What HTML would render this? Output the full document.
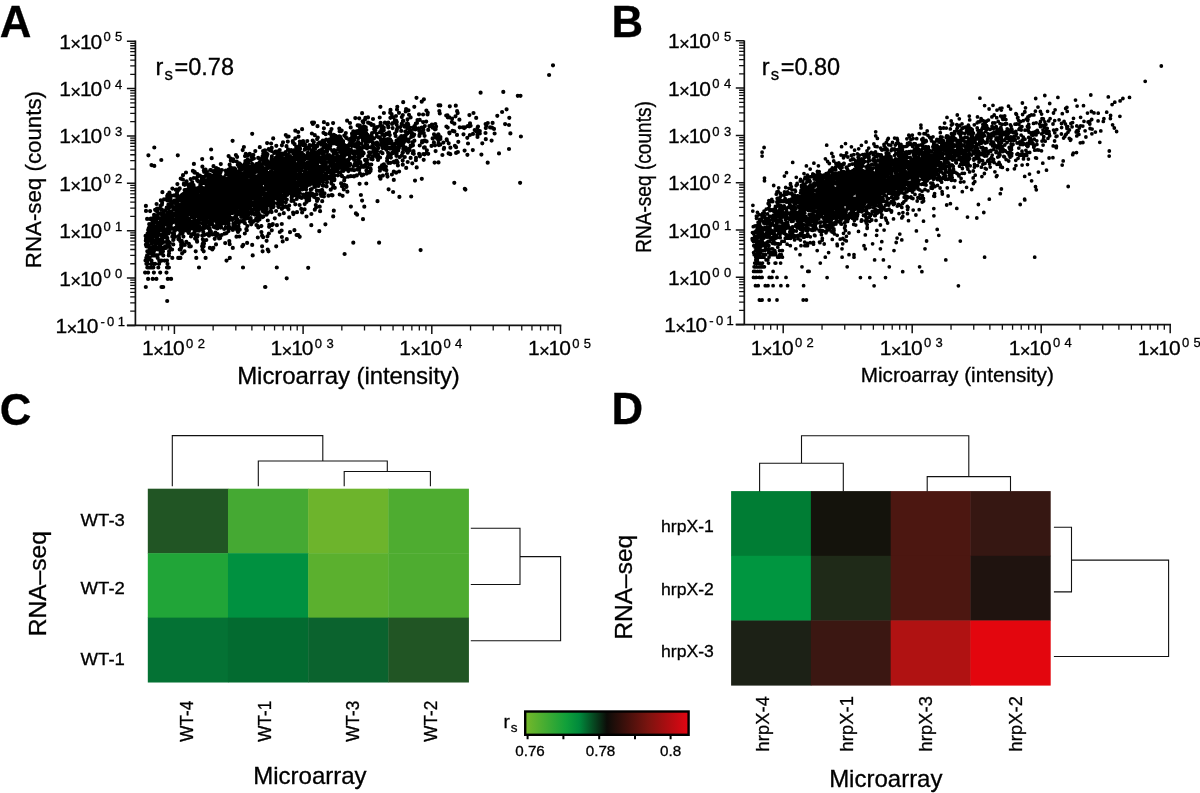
<!DOCTYPE html>
<html><head><meta charset="utf-8"><title>Figure</title><style>html,body{margin:0;padding:0;background:#fff}svg{display:block}text{stroke:#000;stroke-width:.3px}</style></head><body>
<svg width="1200" height="793" viewBox="0 0 1200 793">
<rect width="1200" height="793" fill="#fff"/>
<path d="M135.40 40.60V325.40M126.90 325.40H561.30" stroke="#111" stroke-width="1.7" fill="none"/>
<path d="M126.90 325.40H135.40M126.90 278.03H135.40M126.90 230.66H135.40M126.90 183.29H135.40M126.90 135.92H135.40M126.90 88.55H135.40M126.90 41.18H135.40M174.40 325.40V334.10M303.10 325.40V334.10M431.80 325.40V334.10M560.50 325.40V334.10" stroke="#111" stroke-width="1.5" fill="none"/>
<path d="M130.20 311.14H135.40M130.20 302.80H135.40M130.20 296.88H135.40M130.20 292.29H135.40M130.20 288.54H135.40M130.20 285.37H135.40M130.20 282.62H135.40M130.20 280.20H135.40M130.20 263.77H135.40M130.20 255.43H135.40M130.20 249.51H135.40M130.20 244.92H135.40M130.20 241.17H135.40M130.20 238.00H135.40M130.20 235.25H135.40M130.20 232.83H135.40M130.20 216.40H135.40M130.20 208.06H135.40M130.20 202.14H135.40M130.20 197.55H135.40M130.20 193.80H135.40M130.20 190.63H135.40M130.20 187.88H135.40M130.20 185.46H135.40M130.20 169.03H135.40M130.20 160.69H135.40M130.20 154.77H135.40M130.20 150.18H135.40M130.20 146.43H135.40M130.20 143.26H135.40M130.20 140.51H135.40M130.20 138.09H135.40M130.20 121.66H135.40M130.20 113.32H135.40M130.20 107.40H135.40M130.20 102.81H135.40M130.20 99.06H135.40M130.20 95.89H135.40M130.20 93.14H135.40M130.20 90.72H135.40M130.20 74.29H135.40M130.20 65.95H135.40M130.20 60.03H135.40M130.20 55.44H135.40M130.20 51.69H135.40M130.20 48.52H135.40M130.20 45.77H135.40M130.20 43.35H135.40M145.85 325.40V330.60M154.46 325.40V330.60M161.93 325.40V330.60M168.51 325.40V330.60M213.14 325.40V330.60M235.81 325.40V330.60M251.89 325.40V330.60M264.36 325.40V330.60M274.55 325.40V330.60M283.16 325.40V330.60M290.63 325.40V330.60M297.21 325.40V330.60M341.84 325.40V330.60M364.51 325.40V330.60M380.59 325.40V330.60M393.06 325.40V330.60M403.25 325.40V330.60M411.86 325.40V330.60M419.33 325.40V330.60M425.91 325.40V330.60M470.54 325.40V330.60M493.21 325.40V330.60M509.29 325.40V330.60M521.76 325.40V330.60M531.95 325.40V330.60M540.56 325.40V330.60M548.03 325.40V330.60M554.61 325.40V330.60" stroke="#111" stroke-width="1.3" fill="none"/>
<path d="M257.6 213.0h0M349.9 143.6h0M238.1 189.1h0M294.6 188.5h0M308.4 154.6h0M383.6 139.4h0M303.1 177.6h0M233.7 196.0h0M314.7 174.0h0M246.3 185.6h0M210.0 214.1h0M281.8 195.6h0M174.3 231.1h0M229.0 190.6h0M186.6 192.8h0M320.8 173.1h0M215.6 217.5h0M306.1 164.7h0M292.7 189.9h0M243.2 202.8h0M278.4 202.9h0M338.4 168.3h0M219.4 177.0h0M179.3 204.5h0M291.5 200.9h0M365.3 160.5h0M299.0 175.1h0M325.8 164.0h0M298.0 183.4h0M178.4 215.3h0M240.7 202.8h0M230.5 193.6h0M278.1 163.1h0M296.8 151.9h0M288.8 158.7h0M337.2 144.1h0M244.8 184.1h0M353.2 153.6h0M184.0 230.5h0M286.8 239.2h0M204.2 211.6h0M194.4 204.5h0M357.2 169.5h0M237.8 186.5h0M271.3 160.6h0M434.0 134.3h0M223.6 183.9h0M384.9 122.7h0M215.5 198.0h0M254.5 195.0h0M216.0 244.4h0M275.6 174.4h0M242.3 184.3h0M228.1 187.5h0M244.1 165.0h0M360.3 134.7h0M444.1 147.9h0M229.3 241.1h0M359.3 154.0h0M212.1 224.0h0M296.6 178.4h0M239.6 200.5h0M267.8 166.4h0M256.9 181.3h0M231.5 186.9h0M169.1 253.3h0M312.4 174.5h0M295.4 157.3h0M359.2 125.5h0M331.1 178.1h0M217.7 196.5h0M228.0 205.9h0M225.0 197.3h0M271.8 175.7h0M174.2 235.4h0M270.0 182.4h0M295.2 152.5h0M216.5 204.3h0M309.2 197.9h0M446.7 139.4h0M281.1 172.6h0M293.8 165.4h0M268.5 196.0h0M186.3 207.8h0M341.7 130.5h0M263.5 210.0h0M298.3 156.5h0M275.7 165.9h0M261.3 208.9h0M245.6 216.6h0M281.3 186.5h0M295.5 151.8h0M320.0 173.2h0M216.0 199.7h0M224.2 195.7h0M223.7 199.1h0M211.0 170.2h0M258.2 181.5h0M256.0 205.4h0M407.4 133.5h0M287.8 165.6h0M188.0 227.8h0M329.4 156.9h0M272.4 190.4h0M260.5 206.0h0M277.6 193.5h0M299.4 159.2h0M312.1 169.1h0M396.9 129.6h0M226.6 201.9h0M229.7 244.2h0M261.1 202.4h0M267.8 220.5h0M217.7 211.7h0M185.8 216.6h0M314.8 135.2h0M253.9 183.3h0M240.0 206.3h0M265.0 202.5h0M231.0 200.3h0M294.8 169.3h0M187.1 190.1h0M242.9 209.2h0M328.5 141.6h0M231.7 197.3h0M324.5 167.9h0M333.8 153.3h0M307.9 152.8h0M313.0 157.3h0M170.7 204.5h0M297.5 186.5h0M279.9 182.4h0M381.1 141.9h0M289.6 169.3h0M196.9 197.1h0M278.4 163.6h0M297.0 178.4h0M174.8 236.4h0M272.6 205.5h0M266.0 186.1h0M287.2 182.6h0M345.5 167.6h0M274.7 166.5h0M202.2 188.8h0M379.7 176.4h0M238.9 180.4h0M228.3 187.6h0M219.2 206.5h0M183.9 218.1h0M226.7 218.4h0M242.2 221.5h0M265.2 179.5h0M281.9 208.9h0M193.8 178.0h0M237.4 183.3h0M177.2 227.1h0M286.4 176.1h0M390.7 147.9h0M266.6 240.8h0M214.6 182.7h0M253.3 185.9h0M316.4 172.4h0M215.0 190.8h0M157.5 229.9h0M209.8 202.6h0M245.1 198.5h0M323.7 185.7h0M267.4 204.2h0M277.9 190.2h0M291.9 199.6h0M354.7 163.9h0M250.8 160.6h0M224.1 196.8h0M157.4 223.8h0M294.4 182.1h0M333.7 138.0h0M280.1 175.8h0M241.7 178.9h0M388.0 125.4h0M369.3 137.9h0M167.9 194.6h0M257.2 200.8h0M247.9 194.5h0M186.3 201.8h0M230.2 185.2h0M286.4 168.5h0M276.3 145.8h0M309.4 171.8h0M225.0 192.6h0M402.4 145.5h0M328.9 172.2h0M224.2 229.0h0M263.1 151.1h0M298.0 150.2h0M222.7 197.1h0M387.1 124.0h0M284.9 197.3h0M284.4 179.2h0M279.6 202.9h0M278.9 167.0h0M280.2 177.0h0M292.6 165.2h0M212.5 177.3h0M242.0 209.3h0M252.9 189.3h0M372.3 138.1h0M354.2 160.0h0M248.8 183.2h0M239.1 221.1h0M262.5 203.6h0M253.1 191.7h0M266.1 212.1h0M194.4 172.6h0M250.7 218.2h0M308.5 148.9h0M186.9 196.5h0M218.2 218.0h0M244.8 194.8h0M356.9 152.4h0M215.2 234.7h0M185.8 195.5h0M324.1 164.6h0M230.6 228.0h0M333.9 170.9h0M229.6 187.9h0M285.7 154.9h0M237.4 201.8h0M396.5 140.7h0M244.0 198.9h0M175.2 219.2h0M202.1 246.3h0M306.3 181.2h0M243.9 184.4h0M305.7 175.1h0M216.3 176.9h0M306.5 155.9h0M324.1 144.9h0M270.2 201.8h0M311.8 181.7h0M261.4 179.9h0M195.1 199.1h0M231.6 204.3h0M249.1 193.0h0M276.4 195.4h0M334.0 165.7h0M279.0 172.8h0M236.7 171.3h0M269.3 173.6h0M194.8 193.2h0M307.3 141.0h0M271.2 173.5h0M203.9 188.6h0M278.8 193.3h0M215.5 184.9h0M311.5 157.8h0M333.0 143.4h0M248.6 182.5h0M253.4 198.6h0M194.8 214.8h0M213.9 200.5h0M180.4 257.9h0M296.9 185.6h0M335.9 166.9h0M184.5 220.6h0M229.3 212.7h0M340.5 172.3h0M254.0 192.3h0M206.5 214.5h0M209.5 181.8h0M278.0 179.6h0M336.5 158.6h0M224.3 184.9h0M191.4 210.3h0M330.8 160.1h0M336.4 140.3h0M242.9 176.8h0M234.0 198.3h0M359.5 168.3h0M221.9 208.9h0M296.8 164.3h0M265.4 210.1h0M183.2 217.7h0M265.9 184.4h0M191.6 234.4h0M207.9 184.0h0M203.6 246.3h0M397.2 161.8h0M354.6 165.4h0M199.7 199.1h0M205.2 182.1h0M198.5 201.6h0M295.2 170.2h0M311.5 170.0h0M213.5 175.7h0M177.5 196.8h0M181.4 241.1h0M177.8 215.6h0M281.8 169.0h0M222.6 201.5h0M262.5 177.7h0M298.1 191.5h0M195.4 222.5h0M278.2 159.4h0M388.6 189.3h0M206.5 186.3h0M259.0 181.5h0M377.1 144.5h0M276.7 159.0h0M355.9 144.0h0M189.6 184.3h0M340.8 146.5h0M264.9 150.4h0M244.5 203.4h0M390.2 139.6h0M248.1 201.8h0M348.2 169.0h0M253.4 184.7h0M291.6 197.4h0M229.2 197.7h0M233.9 200.0h0M249.3 180.9h0M253.8 196.1h0M463.5 134.3h0M275.6 169.0h0M170.5 198.2h0M197.1 210.9h0M485.8 128.1h0M348.4 145.4h0M390.0 143.5h0M165.5 221.0h0M267.3 178.6h0M340.0 136.5h0M341.6 164.1h0M214.6 199.6h0M316.4 159.8h0M317.8 175.6h0M313.4 171.3h0M230.8 196.0h0M270.8 204.7h0M239.3 200.6h0M303.0 187.9h0M399.1 146.5h0M199.0 217.4h0M393.7 147.3h0M209.1 191.6h0M218.1 180.4h0M382.7 130.8h0M264.7 196.6h0M251.9 183.4h0M319.3 183.5h0M262.1 235.7h0M283.7 166.1h0M437.1 137.5h0M200.6 204.9h0M208.7 190.0h0M276.9 168.6h0M214.7 238.8h0M222.7 210.3h0M216.6 228.1h0M435.8 137.6h0M375.7 152.4h0M246.3 190.6h0M285.9 168.1h0M326.8 182.6h0M348.0 164.3h0M202.3 211.0h0M266.6 208.7h0M236.9 197.1h0M328.2 168.3h0M260.7 180.1h0M245.0 180.9h0M187.8 199.3h0M207.0 208.0h0M222.3 195.0h0M308.1 165.5h0M218.8 183.5h0M228.9 226.4h0M263.5 188.6h0M236.4 206.4h0M269.4 180.9h0M388.3 127.3h0M223.9 194.9h0M269.8 180.3h0M223.2 209.9h0M267.3 178.4h0M208.7 199.5h0M199.5 223.0h0M289.8 165.8h0M304.0 177.5h0M203.2 240.3h0M196.6 210.4h0M188.7 202.0h0M219.3 192.9h0M491.6 140.6h0M194.7 209.6h0M344.4 145.1h0M187.2 201.6h0M341.1 183.4h0M212.7 214.0h0M348.0 151.8h0M233.4 196.6h0M451.9 122.1h0M325.4 147.4h0M301.5 169.1h0M273.5 187.2h0M192.2 182.0h0M235.2 208.4h0M304.7 171.6h0M206.8 171.9h0M248.2 180.5h0M208.0 194.0h0M289.6 175.5h0M449.3 117.4h0M243.9 147.0h0M289.6 170.5h0M226.7 201.0h0M268.4 165.2h0M199.8 175.6h0M326.9 155.7h0M288.9 188.3h0M505.1 124.1h0M333.3 156.8h0M258.8 171.4h0M333.5 161.6h0M261.2 226.1h0M340.1 144.0h0M179.7 249.5h0M179.5 209.8h0M256.8 183.8h0M336.3 153.1h0M273.0 203.8h0M373.5 125.0h0M271.1 191.9h0M252.4 181.1h0M333.0 166.5h0M291.6 177.5h0M271.7 188.5h0M448.6 153.4h0M272.6 191.2h0M298.4 174.2h0M284.7 194.6h0M186.6 208.2h0M195.9 236.7h0M197.8 189.2h0M252.5 210.2h0M296.1 190.8h0M368.3 147.3h0M170.5 213.5h0M239.9 213.6h0M449.5 133.3h0M492.6 122.9h0M317.0 164.6h0M485.8 139.2h0M229.4 189.1h0M191.1 191.1h0M249.7 153.8h0M280.3 158.9h0M359.9 173.4h0M321.2 144.0h0M281.1 162.3h0M259.1 181.0h0M168.5 212.8h0M260.7 168.0h0M187.8 213.9h0M210.5 207.6h0M221.5 202.7h0M318.2 154.3h0M309.3 176.3h0M261.2 195.1h0M189.2 230.5h0M262.0 176.3h0M370.0 123.6h0M318.6 167.1h0M307.3 179.6h0M234.0 174.2h0M215.1 214.0h0M283.0 142.3h0M358.3 158.9h0M245.2 203.4h0M292.5 169.6h0M363.9 166.8h0M215.7 208.4h0M241.2 181.3h0M186.0 209.1h0M207.2 189.4h0M174.9 230.7h0M247.1 197.2h0M340.1 157.4h0M291.1 161.4h0M268.7 165.1h0M290.1 156.2h0M190.4 206.7h0M204.3 216.0h0M284.5 183.0h0M221.6 198.1h0M222.6 223.3h0M245.6 205.2h0M209.8 231.2h0M260.3 180.5h0M464.2 128.1h0M263.3 153.5h0M234.9 179.1h0M294.6 186.0h0M281.9 179.3h0M175.4 207.5h0M469.2 126.3h0M252.0 204.8h0M194.0 218.6h0M318.4 186.0h0M309.1 158.4h0M479.8 131.1h0M190.9 194.1h0M369.7 154.9h0M333.9 176.0h0M197.3 188.4h0M383.8 130.2h0M230.5 219.1h0M197.9 189.1h0M295.6 190.3h0M188.5 185.6h0M256.6 178.7h0M254.0 197.0h0M296.4 175.9h0M270.0 184.2h0M281.8 224.0h0M169.7 211.7h0M239.9 188.8h0M245.8 178.6h0M269.1 226.8h0M230.1 198.2h0M413.3 136.0h0M235.7 211.9h0M280.7 157.2h0M310.2 154.9h0M274.9 194.7h0M204.0 217.5h0M234.6 185.0h0M274.2 153.0h0M217.1 204.9h0M306.6 175.1h0M426.4 110.5h0M270.3 190.8h0M269.3 224.9h0M190.8 197.6h0M245.0 192.3h0M231.0 204.9h0M304.4 178.1h0M222.0 198.4h0M238.9 171.1h0M235.5 194.6h0M326.3 174.2h0M205.2 182.1h0M219.6 182.5h0M197.9 235.2h0M304.1 163.0h0M208.1 199.5h0M263.4 155.9h0M315.8 166.3h0M192.5 201.9h0M274.9 186.6h0M275.5 177.5h0M236.9 190.7h0M332.5 166.9h0M278.8 186.5h0M305.6 189.1h0M369.1 152.3h0M324.7 159.9h0M316.6 167.4h0M226.1 212.8h0M283.4 187.3h0M248.0 201.7h0M270.4 183.3h0M292.7 186.9h0M239.0 174.7h0M228.2 209.8h0M216.3 204.4h0M256.8 164.0h0M259.8 185.8h0M200.3 185.1h0M185.9 213.3h0M265.9 171.1h0M268.7 149.2h0M196.9 222.1h0M233.8 186.3h0M244.3 208.5h0M360.8 148.0h0M397.6 148.9h0M221.5 196.5h0M286.0 176.4h0M321.2 195.8h0M401.2 130.9h0M194.9 205.5h0M233.2 174.6h0M280.6 164.1h0M235.2 192.5h0M238.9 206.8h0M178.5 239.3h0M187.7 207.4h0M220.7 218.2h0M202.6 182.4h0M487.8 123.0h0M219.4 179.8h0M201.4 206.5h0M240.0 201.1h0M186.0 172.5h0M196.1 210.9h0M278.7 159.2h0M284.1 189.6h0M318.7 157.9h0M278.0 165.9h0M237.3 220.7h0M297.3 196.1h0M208.7 214.7h0M315.5 170.8h0M166.6 224.2h0M438.6 142.9h0M223.5 210.3h0M289.3 191.6h0M257.0 203.2h0M308.3 162.6h0M191.7 217.3h0M272.2 198.6h0M290.4 193.5h0M291.7 187.0h0M191.0 236.5h0M365.7 142.9h0M252.7 255.4h0M370.1 164.7h0M277.0 188.2h0M214.2 207.3h0M211.3 180.9h0M247.2 202.2h0M169.4 228.3h0M276.4 196.3h0M232.1 211.3h0M302.7 181.0h0M212.1 219.0h0M235.2 176.6h0M185.9 204.7h0M209.1 198.3h0M248.5 214.5h0M231.8 211.5h0M206.2 191.4h0M213.7 200.8h0M252.3 168.8h0M188.5 209.2h0M387.0 133.7h0M243.9 189.2h0M159.7 224.3h0M343.8 148.7h0M175.8 200.7h0M259.4 194.0h0M320.5 166.8h0M280.9 188.9h0M338.2 156.5h0M335.6 150.5h0M237.7 192.0h0M209.0 235.7h0M246.5 201.5h0M200.4 214.7h0M260.6 190.4h0M213.7 211.9h0M309.6 173.4h0M247.8 175.4h0M238.3 183.7h0M226.1 174.5h0M310.1 193.2h0M235.2 211.4h0M271.3 201.8h0M346.8 138.2h0M309.1 157.1h0M276.5 188.2h0M343.2 150.4h0M249.4 184.0h0M177.1 192.7h0M220.3 209.7h0M219.6 184.1h0M256.0 189.8h0M457.1 111.2h0M298.2 132.0h0M225.6 188.3h0M333.2 216.4h0M195.7 251.3h0M233.1 185.7h0M293.5 200.8h0M238.7 201.9h0M392.6 128.1h0M370.5 168.5h0M183.0 175.2h0M277.1 188.0h0M201.1 216.2h0M200.1 214.8h0M197.6 194.9h0M221.6 180.9h0M238.2 193.9h0M359.6 183.8h0M296.9 157.5h0M277.1 168.6h0M266.7 188.6h0M203.3 209.8h0M229.0 214.3h0M321.7 174.5h0M299.0 169.4h0M286.4 171.3h0M187.3 198.0h0M285.9 158.3h0M175.1 202.7h0M197.4 199.7h0M298.5 166.4h0M234.9 197.5h0M344.3 135.6h0M181.2 226.2h0M297.7 184.6h0M369.9 139.5h0M396.6 160.5h0M268.1 187.5h0M402.7 160.4h0M208.7 217.3h0M228.9 220.5h0M300.4 197.3h0M206.9 187.1h0M282.9 186.8h0M306.3 187.1h0M419.9 156.3h0M280.8 168.5h0M208.9 209.2h0M270.7 181.4h0M363.3 122.5h0M201.7 228.6h0M316.6 198.8h0M278.8 176.6h0M345.8 133.1h0M296.4 169.9h0M311.4 145.5h0M338.6 139.2h0M346.5 148.2h0M207.6 215.9h0M303.1 167.6h0M266.7 164.9h0M296.7 164.4h0M398.3 139.2h0M269.6 175.6h0M192.8 207.7h0M197.7 192.4h0M334.3 161.1h0M228.6 169.7h0M264.3 177.1h0M284.6 173.3h0M278.6 207.1h0M257.7 220.9h0M404.5 140.3h0M312.8 170.5h0M229.6 164.7h0M212.1 213.7h0M222.2 214.1h0M349.3 139.9h0M342.0 186.3h0M317.7 162.8h0M264.7 204.6h0M314.8 209.7h0M270.3 211.0h0M198.0 208.8h0M283.8 177.1h0M231.7 199.8h0M234.2 209.9h0M196.4 206.2h0M249.9 184.8h0M204.9 210.4h0M201.9 178.6h0M229.4 180.9h0M203.4 220.9h0M288.9 186.2h0M228.0 212.7h0M265.9 181.5h0M383.8 127.7h0M281.6 230.5h0M240.0 190.2h0M301.6 180.9h0M256.6 204.6h0M254.7 214.6h0M272.0 225.1h0M251.5 194.5h0M232.9 204.9h0M237.8 164.7h0M287.0 186.5h0M229.6 197.8h0M372.9 138.0h0M284.2 206.9h0M294.3 195.2h0M283.9 171.3h0M419.2 130.7h0M344.3 184.8h0M176.6 227.2h0M365.2 147.5h0M179.7 205.2h0M195.4 208.8h0M217.4 219.9h0M259.9 185.4h0M232.7 177.2h0M299.0 181.2h0M367.1 162.8h0M235.7 212.1h0M391.9 174.5h0M269.7 162.6h0M293.7 168.3h0M327.3 162.0h0M294.3 170.5h0M249.8 169.2h0M171.1 227.5h0M364.6 166.4h0M217.2 182.3h0M331.5 195.1h0M305.0 175.0h0M244.9 172.2h0M333.8 210.7h0M230.9 196.6h0M193.7 209.0h0M289.8 176.7h0M243.0 195.7h0M203.1 206.4h0M202.6 181.8h0M186.8 202.0h0M373.0 119.0h0M291.7 165.3h0M403.0 143.6h0M192.7 212.5h0M230.8 160.6h0M260.2 195.1h0M260.1 169.0h0M184.3 227.8h0M243.6 182.3h0M226.0 202.9h0M191.7 215.7h0M210.9 231.5h0M185.3 223.4h0M230.6 193.0h0M247.1 168.1h0M220.4 192.5h0M272.1 195.4h0M395.0 133.6h0M261.4 226.0h0M326.1 162.3h0M180.7 178.6h0M293.1 212.5h0M349.9 156.9h0M183.6 226.0h0M399.0 112.8h0M190.3 188.5h0M350.9 149.7h0M232.6 168.4h0M271.9 156.3h0M440.4 137.0h0M350.2 150.2h0M290.7 188.8h0M211.5 206.8h0M205.8 180.6h0M221.3 218.2h0M246.2 171.0h0M259.2 179.8h0M270.2 175.5h0M205.1 213.8h0M206.6 190.5h0M344.7 155.7h0M266.7 185.7h0M203.3 231.9h0M273.7 179.7h0M342.1 160.5h0M294.7 159.5h0M199.4 203.3h0M231.5 196.4h0M184.2 220.3h0M226.0 207.2h0M197.1 241.7h0M176.7 205.7h0M243.0 215.6h0M214.0 226.2h0M182.6 208.3h0M264.0 161.4h0M314.3 177.7h0M212.1 204.8h0M337.9 160.5h0M202.5 199.6h0M320.3 172.6h0M162.2 227.1h0M293.5 158.0h0M276.2 186.0h0M299.3 159.2h0M276.8 185.3h0M290.3 167.1h0M231.4 190.7h0M186.0 196.0h0M330.8 141.0h0M214.9 211.6h0M384.4 136.0h0M206.7 227.2h0M258.4 190.6h0M203.0 183.0h0M289.2 175.9h0M181.3 200.6h0M249.8 218.3h0M258.9 183.4h0M156.2 232.0h0M184.0 230.6h0M271.8 197.1h0M249.9 183.5h0M464.6 150.6h0M235.8 175.3h0M188.7 224.1h0M275.1 194.7h0M332.3 159.9h0M346.5 186.8h0M160.5 243.1h0M248.4 173.8h0M243.1 214.1h0M297.3 183.7h0M173.1 207.6h0M362.4 166.6h0M212.3 249.5h0M190.2 223.2h0M255.5 195.2h0M271.1 187.1h0M192.4 205.7h0M332.3 150.9h0M281.3 187.0h0M239.0 185.8h0M277.9 183.0h0M287.9 175.5h0M309.9 184.7h0M283.7 168.5h0M268.0 189.9h0M353.9 133.6h0M299.1 196.1h0M333.0 143.0h0M223.5 221.8h0M249.4 183.8h0M285.0 196.3h0M218.8 216.8h0M286.3 166.5h0M509.0 149.0h0M249.7 175.9h0M359.2 118.3h0M178.6 205.6h0M258.1 213.2h0M176.3 208.4h0M245.9 193.5h0M238.3 191.6h0M341.5 156.7h0M334.7 142.8h0M232.3 168.9h0M227.6 192.3h0M363.9 126.3h0M181.7 222.6h0M397.3 106.8h0M360.5 163.3h0M217.0 219.5h0M159.6 240.0h0M298.9 159.6h0M171.4 206.1h0M271.1 207.9h0M509.0 125.0h0M186.8 204.0h0M267.1 143.1h0M183.8 217.3h0M232.0 219.2h0M247.3 218.1h0M339.1 159.6h0M313.0 158.7h0M205.9 200.3h0M294.6 174.8h0M270.4 195.1h0M241.2 193.0h0M224.5 197.3h0M287.1 136.6h0M372.2 145.9h0M226.5 215.8h0M182.9 220.7h0M297.3 176.4h0M323.9 196.4h0M311.0 168.2h0M237.3 191.2h0M259.0 184.1h0M454.9 145.8h0M184.1 216.8h0M261.5 181.1h0M315.3 153.2h0M157.0 230.8h0M279.8 200.6h0M220.9 188.1h0M291.2 150.7h0M248.0 194.3h0M209.9 247.9h0M213.2 187.8h0M243.3 174.8h0M301.5 170.4h0M384.9 148.1h0M236.6 175.3h0M192.3 194.5h0M300.2 171.0h0M203.1 207.1h0M406.0 134.9h0M185.2 193.5h0M263.2 169.4h0M261.9 203.8h0M277.0 189.1h0M336.9 154.2h0M281.5 171.4h0M225.1 206.8h0M216.2 187.7h0M217.4 210.4h0M230.3 179.7h0M265.7 156.5h0M400.3 127.1h0M202.6 203.0h0M258.9 176.5h0M304.7 204.1h0M212.2 177.7h0M278.8 163.7h0M201.4 223.1h0M229.9 203.8h0M271.3 198.5h0M213.7 203.1h0M205.7 210.6h0M277.7 182.1h0M261.6 168.4h0M259.7 181.1h0M182.5 225.5h0M204.9 209.7h0M308.9 183.6h0M216.3 186.1h0M364.2 165.7h0M189.1 219.1h0M208.4 178.2h0M320.7 170.5h0M230.5 195.5h0M244.0 185.4h0M207.2 234.2h0M201.2 204.4h0M404.5 126.6h0M323.0 161.8h0M254.1 180.2h0M189.1 227.5h0M216.8 201.7h0M185.9 218.2h0M309.8 169.6h0M208.5 228.2h0M350.0 163.8h0M273.1 175.5h0M200.0 219.2h0M172.8 213.5h0M250.4 166.9h0M277.6 177.1h0M259.0 186.4h0M286.0 168.7h0M270.0 198.6h0M318.0 174.5h0M366.2 164.0h0M226.5 213.3h0M291.2 150.0h0M343.1 184.9h0M270.0 194.8h0M234.9 201.9h0M322.3 171.3h0M235.7 200.8h0M227.5 202.2h0M168.6 219.5h0M238.9 199.7h0M281.8 173.2h0M485.5 133.0h0M270.3 188.3h0M304.1 174.7h0M239.5 167.8h0M365.7 165.5h0M213.9 205.4h0M282.1 168.5h0M486.3 125.8h0M253.8 205.3h0M240.5 211.8h0M274.8 218.3h0M248.5 173.0h0M291.1 164.6h0M322.9 165.0h0M300.8 178.1h0M247.9 194.9h0M176.2 221.7h0M388.4 163.0h0M286.8 199.6h0M384.7 144.4h0M196.0 178.1h0M311.8 164.8h0M259.9 215.2h0M287.1 194.9h0M266.8 185.8h0M269.6 199.6h0M224.5 195.6h0M228.5 210.0h0M256.7 200.9h0M202.2 229.0h0M225.3 192.3h0M248.6 185.9h0M287.5 171.2h0M209.3 193.3h0M373.2 147.3h0M212.5 183.9h0M197.5 225.4h0M182.3 202.6h0M304.0 156.2h0M284.1 185.9h0M305.8 181.0h0M219.5 191.6h0M236.3 191.8h0M282.5 162.0h0M377.2 157.6h0M251.7 186.0h0M289.2 217.4h0M259.3 178.4h0M276.7 158.9h0M240.8 208.3h0M222.3 181.8h0M263.2 201.1h0M299.5 149.8h0M423.8 133.0h0M219.2 191.1h0M192.3 227.2h0M282.0 153.7h0M251.6 190.4h0M222.6 206.2h0M338.5 142.4h0M237.5 206.1h0M236.7 198.3h0M233.6 201.0h0M299.5 184.0h0M299.7 236.8h0M251.9 159.4h0M204.9 220.1h0M368.1 122.7h0M339.5 140.2h0M267.5 236.3h0M191.3 198.4h0M350.0 123.0h0M201.8 215.8h0M250.2 197.9h0M468.0 143.5h0M236.7 161.5h0M476.2 117.9h0M229.7 208.8h0M356.8 151.2h0M224.5 187.0h0M219.3 203.4h0M192.3 189.6h0M306.0 167.8h0M193.6 187.6h0M408.8 132.5h0M225.2 193.5h0M286.7 184.8h0M177.5 210.5h0M243.6 178.0h0M191.4 223.2h0M228.0 186.9h0M361.7 128.2h0M281.0 163.1h0M339.1 149.2h0M341.0 157.3h0M182.6 228.3h0M268.6 195.5h0M287.2 180.2h0M188.8 225.9h0M198.8 203.0h0M243.0 267.5h0M361.7 150.4h0M223.9 177.4h0M321.1 158.9h0M164.4 215.9h0M265.5 208.9h0M431.9 124.6h0M273.9 191.7h0M202.2 177.8h0M220.7 221.5h0M280.3 188.6h0M330.3 146.1h0M268.9 149.7h0M387.1 160.9h0M276.9 192.5h0M283.8 186.9h0M220.5 172.3h0M253.3 154.9h0M198.0 199.4h0M235.8 177.7h0M374.0 150.7h0M220.6 214.8h0M299.5 161.4h0M230.9 194.2h0M313.6 152.5h0M211.3 203.8h0M275.7 157.9h0M329.9 159.6h0M311.8 164.5h0M279.5 161.9h0M280.3 173.2h0M265.9 207.6h0M251.4 195.6h0M288.5 163.7h0M201.1 188.7h0M389.1 132.3h0M212.8 208.7h0M253.9 203.1h0M162.1 239.5h0M240.2 191.3h0M325.8 163.5h0M342.4 169.6h0M236.5 236.7h0M313.5 156.9h0M182.3 194.6h0M298.3 148.3h0M405.7 147.5h0M267.8 198.4h0M208.9 192.6h0M218.9 203.4h0M177.5 204.0h0M229.8 257.9h0M186.5 215.6h0M311.4 168.2h0M225.9 222.0h0M251.4 212.3h0M342.9 144.1h0M293.1 142.7h0M213.0 220.7h0M263.4 206.4h0M275.1 187.4h0M367.5 134.9h0M305.4 197.7h0M233.4 194.5h0M296.2 152.8h0M317.6 198.9h0M257.4 204.6h0M189.7 198.5h0M171.4 204.8h0M173.4 233.3h0M274.6 167.5h0M354.2 137.2h0M254.9 209.2h0M239.1 194.6h0M358.4 157.3h0M236.0 199.0h0M293.0 170.8h0M276.2 246.3h0M363.3 174.7h0M188.7 233.0h0M306.1 189.5h0M314.2 169.4h0M296.8 159.2h0M275.6 188.5h0M187.0 222.4h0M203.6 213.4h0M275.6 169.1h0M266.8 185.6h0M215.4 200.5h0M234.0 205.8h0M268.4 183.7h0M242.6 198.2h0M257.9 169.5h0M474.7 130.1h0M272.5 163.5h0M208.6 196.3h0M229.8 192.4h0M301.6 197.9h0M250.2 192.7h0M272.2 196.3h0M267.7 168.3h0M226.7 192.2h0M237.6 187.9h0M208.8 206.1h0M287.1 156.4h0M287.4 207.5h0M277.1 169.3h0M326.1 167.8h0M274.1 188.1h0M232.1 207.5h0M231.3 197.1h0M233.0 195.7h0M374.2 129.3h0M284.1 188.2h0M222.8 211.2h0M276.7 165.1h0M224.5 181.1h0M220.9 216.4h0M225.6 209.7h0M207.2 199.2h0M176.3 223.2h0M216.6 190.6h0M337.0 169.3h0M235.8 205.5h0M312.1 122.6h0M253.1 171.8h0M252.2 164.6h0M257.8 180.7h0M328.8 170.6h0M268.5 191.2h0M315.2 162.3h0M291.2 177.7h0M268.5 251.3h0M212.0 193.2h0M257.8 237.5h0M241.2 216.9h0M257.5 176.3h0M212.1 189.4h0M312.9 194.4h0M209.6 174.6h0M265.4 202.2h0M228.9 217.2h0M377.5 157.4h0M253.5 189.1h0M408.6 139.6h0M248.7 217.9h0M419.5 134.9h0M257.5 180.8h0M325.6 173.3h0M241.8 173.5h0M281.9 197.1h0M160.5 246.3h0M275.9 169.9h0M168.6 233.1h0M260.0 180.0h0M302.1 129.2h0M156.2 237.0h0M250.7 193.3h0M282.2 165.2h0M271.2 163.6h0M276.3 160.4h0M192.5 187.9h0M265.9 207.4h0M263.3 216.4h0M227.9 212.4h0M251.5 195.4h0M402.8 115.1h0M237.3 219.4h0M354.7 156.9h0M339.7 194.5h0M262.6 192.7h0M296.2 146.9h0M250.7 175.9h0M248.3 212.8h0M221.3 185.9h0M219.0 203.9h0M254.9 202.3h0M306.6 180.1h0M317.5 126.2h0M204.6 208.4h0M312.5 182.8h0M298.3 176.7h0M323.4 153.2h0M203.3 204.7h0M251.7 194.1h0M269.8 199.5h0M293.4 186.6h0M242.6 216.6h0M199.3 208.1h0M175.7 189.8h0M277.8 174.3h0M223.1 201.5h0M255.2 168.4h0M347.4 148.6h0M250.5 186.8h0M351.3 169.7h0M276.3 187.6h0M321.6 162.7h0M213.6 185.6h0M262.3 188.4h0M394.7 143.9h0M280.1 183.7h0M200.4 181.9h0M237.9 203.8h0M281.2 191.8h0M422.9 132.8h0M252.3 190.7h0M324.0 142.4h0M291.8 157.6h0M264.2 180.0h0M214.0 204.6h0M185.8 210.6h0M204.0 182.8h0M236.5 187.7h0M213.2 191.6h0M246.8 230.2h0M330.2 178.3h0M310.3 170.8h0M217.5 225.2h0M187.8 200.1h0M182.0 212.1h0M233.4 225.0h0M196.5 206.1h0M244.3 205.4h0M237.5 230.5h0M214.8 217.6h0M163.9 237.0h0M288.5 173.8h0M354.4 140.1h0M246.0 188.9h0M182.9 213.7h0M200.9 215.6h0M249.7 190.7h0M229.2 216.2h0M246.8 180.1h0M280.3 179.3h0M204.5 188.3h0M194.6 199.3h0M216.7 219.9h0M295.1 175.4h0M376.5 144.8h0M214.2 201.3h0M487.7 162.7h0M258.4 202.3h0M368.0 117.4h0M234.6 201.7h0M323.7 141.2h0M197.4 216.4h0M180.6 241.8h0M361.2 152.7h0M276.2 186.1h0M341.4 168.0h0M174.4 200.7h0M313.6 144.7h0M154.0 251.3h0M397.0 109.5h0M232.6 180.8h0M265.8 203.0h0M216.8 183.7h0M223.9 192.1h0M278.0 179.0h0M316.8 190.5h0M255.1 180.5h0M206.2 217.1h0M240.4 164.4h0M262.6 201.9h0M303.2 194.5h0M340.3 149.2h0M250.7 208.3h0M246.7 167.0h0M390.6 154.5h0M358.2 138.2h0M327.1 176.7h0M292.8 182.4h0M304.7 167.5h0M295.6 184.4h0M413.4 127.3h0M299.1 183.0h0M267.1 160.9h0M264.4 170.0h0M228.2 223.7h0M205.7 171.0h0M459.7 127.3h0M394.5 152.4h0M278.4 174.5h0M300.5 169.2h0M188.8 196.2h0M187.3 196.1h0M235.5 175.0h0M278.6 199.3h0M296.6 168.2h0M186.4 181.7h0M218.8 225.9h0M214.8 214.4h0M259.7 202.9h0M203.3 198.3h0M220.3 204.1h0M196.2 201.1h0M309.8 169.0h0M264.8 181.6h0M214.1 193.3h0M332.9 171.2h0M233.0 197.5h0M288.0 178.2h0M315.4 173.7h0M388.1 156.2h0M188.6 204.9h0M318.0 199.1h0M253.9 158.5h0M189.8 205.7h0M240.7 188.2h0M185.7 229.6h0M305.9 147.2h0M266.3 163.5h0M270.5 150.5h0M236.4 185.7h0M238.9 166.4h0M262.3 157.9h0M213.5 166.2h0M279.0 166.2h0M342.4 163.7h0M322.2 159.4h0M317.0 145.5h0M188.7 218.4h0M233.9 194.4h0M245.3 203.8h0M348.3 160.7h0M273.6 203.6h0M192.7 188.6h0M247.0 200.6h0M491.9 127.6h0M339.3 147.9h0M197.4 211.3h0M237.9 211.0h0M233.9 193.6h0M482.3 143.3h0M239.0 190.9h0M274.2 190.4h0M178.1 198.3h0M242.7 197.4h0M204.1 195.7h0M232.2 210.7h0M181.8 244.8h0M277.6 184.8h0M190.3 193.5h0M252.9 222.0h0M181.7 240.8h0M227.9 203.6h0M301.1 176.8h0M211.5 200.0h0M304.2 175.4h0M188.1 201.1h0M278.5 166.1h0M225.2 218.6h0M242.6 194.2h0M205.1 180.0h0M266.5 214.7h0M254.2 193.3h0M222.8 207.9h0M329.9 160.9h0M274.9 185.2h0M236.0 176.6h0M191.9 222.5h0M227.7 185.4h0M285.3 195.5h0M198.4 207.4h0M248.8 184.2h0M408.2 124.7h0M240.8 212.3h0M396.1 172.7h0M248.1 163.4h0M228.8 212.5h0M313.4 171.4h0M234.0 172.9h0M232.8 184.0h0M329.5 142.2h0M353.3 131.3h0M271.8 173.8h0M175.8 221.9h0M307.9 185.1h0M177.0 201.4h0M203.0 199.9h0M379.9 170.7h0M223.2 208.4h0M432.5 127.6h0M216.9 208.6h0M325.1 147.5h0M423.9 99.3h0M350.1 150.4h0M213.4 195.4h0M270.2 177.2h0M230.4 167.3h0M434.6 162.6h0M318.1 172.3h0M326.2 139.7h0M229.8 196.7h0M265.3 211.9h0M273.6 172.3h0M271.9 202.9h0M291.2 188.0h0M219.9 183.2h0M314.2 171.9h0M210.1 222.4h0M259.5 177.5h0M494.6 133.5h0M214.8 205.8h0M230.2 205.8h0M247.4 198.0h0M226.6 213.5h0M208.7 189.0h0M249.8 170.9h0M216.0 215.0h0M262.1 205.8h0M194.0 195.2h0M216.0 179.3h0M206.4 194.5h0M245.2 172.4h0M285.1 164.0h0M262.2 183.4h0M192.6 212.5h0M167.4 238.0h0M234.4 195.9h0M368.4 172.0h0M332.9 136.3h0M280.9 196.3h0M287.2 171.6h0M258.9 199.3h0M207.6 204.6h0M279.5 179.1h0M217.5 213.4h0M222.4 205.4h0M414.5 126.1h0M217.2 188.7h0M426.7 152.9h0M197.3 207.7h0M181.1 244.9h0M240.3 193.9h0M198.7 205.0h0M231.8 218.2h0M256.4 164.2h0M224.2 221.0h0M321.3 144.7h0M278.2 206.3h0M294.2 162.3h0M295.3 204.3h0M222.9 207.1h0M201.7 228.2h0M465.0 127.4h0M219.1 213.9h0M273.2 184.7h0M244.8 233.5h0M297.2 189.0h0M401.8 117.1h0M301.2 167.7h0M323.1 178.3h0M447.7 127.6h0M366.7 173.6h0M331.5 129.1h0M244.3 174.2h0M209.6 228.6h0M348.8 165.7h0M267.9 189.4h0M176.7 208.9h0M222.1 187.2h0M197.9 189.6h0M290.4 157.4h0M178.8 236.2h0M253.6 186.0h0M168.2 227.3h0M298.3 235.1h0M386.4 144.7h0M285.5 206.4h0M310.9 175.8h0M259.8 147.2h0M295.5 173.5h0M261.0 167.0h0M254.4 189.4h0M277.6 184.7h0M293.5 174.1h0M247.5 194.4h0M227.0 183.9h0M180.8 222.7h0M285.8 178.6h0M231.0 182.3h0M247.5 182.2h0M261.9 192.4h0M437.1 135.6h0M264.0 172.9h0M251.7 183.2h0M225.4 214.9h0M293.4 153.3h0M228.6 156.1h0M206.2 204.2h0M389.6 156.6h0M271.9 165.3h0M278.8 157.7h0M243.4 206.8h0M304.3 194.8h0M236.0 217.2h0M230.7 204.8h0M218.0 219.4h0M277.8 187.6h0M155.1 246.3h0M370.5 170.9h0M264.8 180.0h0M281.6 157.7h0M172.3 257.9h0M259.5 191.5h0M287.3 185.2h0M193.7 223.5h0M238.8 194.1h0M250.8 208.6h0M216.3 189.6h0M193.2 216.7h0M244.8 210.6h0M177.1 212.7h0M250.8 189.9h0M212.6 181.1h0M186.4 210.4h0M242.5 200.8h0M314.6 194.8h0M241.2 191.5h0M331.6 156.3h0M266.0 163.2h0M250.7 200.9h0M207.4 187.1h0M367.0 159.9h0M317.8 137.6h0M318.5 180.9h0M271.2 202.9h0M236.2 216.1h0M247.3 164.3h0M189.7 194.9h0M331.0 173.4h0M184.5 227.5h0M271.7 147.9h0M213.1 215.3h0M248.1 192.0h0M199.0 267.5h0M245.8 153.8h0M216.4 180.6h0M455.8 105.7h0M411.2 136.9h0M257.5 197.2h0M292.0 181.9h0M223.3 213.3h0M238.5 226.7h0M215.7 218.9h0M186.4 182.8h0M238.8 223.3h0M199.4 187.3h0M220.8 164.1h0M275.2 161.4h0M274.7 176.6h0M262.2 166.2h0M284.5 158.9h0M225.9 221.8h0M197.3 236.7h0M236.0 212.1h0M190.8 246.3h0M288.6 161.5h0M268.0 197.3h0M187.7 206.8h0M223.8 221.4h0M229.8 180.9h0M206.1 195.2h0M285.2 183.3h0M231.2 212.5h0M280.5 191.6h0M195.6 206.2h0M198.9 219.3h0M320.0 181.6h0M231.6 174.7h0M308.7 164.2h0M295.2 158.8h0M194.8 194.8h0M269.0 203.7h0M255.6 186.9h0M250.9 205.2h0M370.4 140.9h0M277.3 178.9h0M315.6 177.6h0M207.5 198.1h0M345.4 162.0h0M299.3 162.7h0M392.3 144.5h0M346.8 150.8h0M229.1 180.8h0M260.2 159.3h0M283.2 184.8h0M189.3 246.3h0M354.0 176.1h0M251.0 170.5h0M179.7 188.4h0M342.0 143.3h0M209.7 179.1h0M246.2 176.9h0M188.6 191.8h0M275.2 160.8h0M291.6 163.1h0M242.3 246.3h0M316.1 156.3h0M235.5 195.2h0M264.0 212.0h0M191.3 190.7h0M178.8 211.7h0M347.1 165.0h0M238.4 201.8h0M225.6 183.9h0M238.4 204.6h0M189.0 229.7h0M289.7 169.3h0M212.8 188.0h0M301.3 156.9h0M201.4 191.7h0M251.7 183.9h0M195.9 210.6h0M167.0 260.6h0M239.1 195.6h0M295.9 182.9h0M350.7 127.4h0M426.6 141.4h0M249.5 184.3h0M266.0 171.0h0M333.1 176.5h0M315.1 184.4h0M365.8 127.3h0M249.4 170.4h0M282.1 205.1h0M241.1 191.2h0M287.8 155.0h0M214.4 215.0h0M230.6 195.3h0M238.4 191.8h0M230.7 202.0h0M302.0 179.4h0M225.2 243.1h0M292.1 193.1h0M322.2 169.1h0M228.9 193.8h0M160.6 205.8h0M327.6 124.2h0M214.2 179.3h0M170.9 218.8h0M259.5 204.4h0M254.6 191.3h0M273.8 164.5h0M237.6 196.4h0M237.4 190.0h0M168.4 204.5h0M313.1 181.6h0M306.4 180.8h0M296.0 150.1h0M288.6 167.0h0M270.9 167.0h0M202.7 200.6h0M339.1 172.3h0M313.3 146.1h0M247.6 196.6h0M206.9 195.2h0M270.3 172.7h0M358.1 141.8h0M387.2 158.4h0M231.2 187.5h0M216.6 222.2h0M238.6 187.8h0M363.4 152.8h0M305.1 146.2h0M243.3 201.2h0M236.0 196.5h0M237.3 196.3h0M311.3 225.2h0M198.4 210.5h0M257.2 187.5h0M174.0 233.2h0M292.0 177.1h0M205.6 257.9h0M270.6 176.1h0M217.7 191.4h0M239.6 176.4h0M325.5 144.6h0M239.3 198.0h0M333.5 173.9h0M229.3 197.1h0M290.2 182.7h0M210.5 211.4h0M205.1 223.1h0M324.9 159.3h0M159.7 218.6h0M345.7 160.7h0M320.1 211.2h0M371.1 158.9h0M327.0 182.2h0M243.1 210.2h0M389.5 139.0h0M245.4 218.8h0M506.6 109.3h0M289.6 163.2h0M267.7 249.5h0M309.1 178.2h0M271.7 168.0h0M308.7 174.1h0M266.7 153.5h0M319.1 166.8h0M203.2 197.8h0M235.2 208.8h0M254.7 170.9h0M217.7 192.5h0M333.7 151.3h0M208.2 176.2h0M300.5 185.5h0M227.3 228.1h0M262.6 217.1h0M211.4 214.3h0M307.4 174.6h0M216.4 207.1h0M279.5 171.5h0M287.0 159.7h0M248.5 202.0h0M455.5 116.3h0M234.8 203.7h0M353.6 166.0h0M350.8 141.0h0M243.1 175.8h0M304.2 159.7h0M312.4 182.7h0M170.5 200.8h0M246.5 184.1h0M194.4 221.2h0M243.7 190.8h0M249.8 186.1h0M247.1 190.7h0M252.0 197.9h0M203.7 177.2h0M327.1 168.6h0M227.7 190.7h0M177.6 217.2h0M234.1 190.5h0M236.9 220.4h0M197.4 174.1h0M271.7 158.2h0M196.8 207.6h0M374.5 127.4h0M382.8 141.0h0M230.1 183.0h0M197.8 208.1h0M306.8 193.4h0M301.6 180.2h0M268.9 191.6h0M348.4 163.2h0M202.8 239.3h0M343.7 158.0h0M243.4 182.4h0M262.6 251.3h0M204.5 218.1h0M242.6 165.7h0M285.1 180.1h0M222.9 192.6h0M233.8 198.3h0M215.1 214.6h0M273.6 178.7h0M193.8 224.2h0M215.4 232.6h0M314.5 163.4h0M193.2 198.4h0M259.3 186.7h0M327.4 167.0h0M317.9 168.0h0M229.6 183.3h0M396.3 147.3h0M309.8 168.8h0M226.4 191.6h0M366.9 147.3h0M249.5 184.3h0M251.2 178.6h0M207.6 208.2h0M391.6 114.2h0M403.3 148.3h0M285.8 176.4h0M302.8 166.6h0M228.5 197.2h0M378.0 160.0h0M217.4 199.6h0M211.2 218.3h0M226.1 200.0h0M275.9 171.9h0M330.0 148.7h0M282.6 178.0h0M223.0 206.3h0M281.9 145.3h0M300.1 173.2h0M299.9 144.2h0M388.1 152.8h0M222.1 194.9h0M266.2 159.2h0M185.6 225.7h0M270.4 201.0h0M375.4 130.0h0M289.8 151.1h0M292.7 161.6h0M353.5 144.1h0M239.2 201.4h0M326.1 156.0h0M239.2 179.3h0M258.3 192.3h0M219.9 226.3h0M232.0 177.9h0M412.8 153.2h0M294.8 194.4h0M271.7 189.0h0M257.8 216.2h0M246.9 211.1h0M217.5 199.4h0M186.6 181.3h0M224.5 191.4h0M235.4 197.8h0M225.2 210.9h0M220.3 225.1h0M309.2 147.3h0M371.3 164.5h0M293.9 171.6h0M311.6 152.5h0M199.1 216.2h0M258.5 189.5h0M258.2 157.9h0M219.0 197.7h0M232.5 202.4h0M330.8 143.0h0M335.5 135.9h0M310.7 189.6h0M271.8 176.7h0M207.1 202.3h0M367.0 148.3h0M298.5 136.7h0M275.6 182.6h0M299.0 152.8h0M258.9 171.3h0M224.4 209.5h0M205.1 206.1h0M218.9 201.7h0M311.7 175.3h0M225.2 209.0h0M327.8 170.7h0M359.1 170.0h0M203.3 192.1h0M279.7 150.1h0M166.7 219.3h0M244.9 181.7h0M234.2 182.3h0M157.4 255.4h0M219.1 189.9h0M228.5 172.8h0M274.0 164.8h0M213.1 204.7h0M241.8 190.8h0M189.2 220.8h0M187.0 191.6h0M278.1 188.7h0M220.1 197.4h0M265.3 180.0h0M255.6 191.7h0M291.5 188.8h0M315.3 159.0h0M200.8 218.2h0M237.0 200.5h0M363.4 130.3h0M201.6 193.6h0M393.8 171.5h0M204.7 223.0h0M182.9 200.5h0M275.9 194.4h0M304.4 157.7h0M219.6 182.6h0M229.5 179.7h0M207.3 175.2h0M358.5 168.0h0M205.8 216.0h0M337.5 164.2h0M407.0 123.4h0M302.7 156.0h0M178.6 198.8h0M283.5 189.9h0M267.7 189.6h0M240.5 211.7h0M295.3 178.3h0M241.3 213.5h0M239.2 163.3h0M237.7 180.3h0M354.6 154.9h0M230.2 197.8h0M311.9 154.5h0M256.5 186.4h0M254.6 167.5h0M325.9 158.2h0M192.9 170.9h0M315.0 155.0h0M244.6 208.1h0M241.6 207.8h0M219.4 207.5h0M221.9 170.0h0M299.0 176.1h0M426.2 121.6h0M273.4 202.9h0M248.9 180.6h0M265.2 200.3h0M290.3 181.6h0M299.5 171.0h0M246.9 212.1h0M345.0 169.5h0M231.9 213.2h0M269.5 189.5h0M288.0 149.3h0M246.8 175.1h0M246.3 229.2h0M275.1 173.2h0M497.3 115.8h0M264.6 199.6h0M257.9 205.1h0M188.4 221.6h0M318.6 175.3h0M245.1 163.3h0M251.8 172.5h0M255.1 199.8h0M192.4 228.5h0M157.0 223.1h0M310.5 163.0h0M473.0 133.9h0M236.4 189.2h0M227.8 217.3h0M187.7 221.6h0M433.9 142.4h0M322.1 143.5h0M248.9 188.7h0M245.6 206.0h0M244.6 202.0h0M315.4 148.3h0M192.9 201.2h0M244.3 198.6h0M305.9 173.7h0M219.6 186.4h0M272.3 184.8h0M325.9 164.1h0M274.3 190.3h0M238.0 232.0h0M246.5 180.0h0M352.5 152.4h0M352.0 138.1h0M398.9 147.9h0M317.1 169.1h0M190.2 198.5h0M267.5 187.6h0M255.3 198.1h0M185.8 223.2h0M272.5 186.0h0M239.7 191.0h0M183.9 183.5h0M216.0 193.6h0M324.9 169.5h0M283.3 161.2h0M304.6 209.3h0M301.5 159.2h0M312.2 162.3h0M255.3 194.8h0M350.9 206.6h0M463.0 127.4h0M253.2 177.0h0M225.8 227.4h0M344.2 180.4h0M201.9 206.2h0M307.6 172.4h0M273.9 202.9h0M315.0 153.7h0M250.1 180.8h0M275.5 160.8h0M196.3 201.7h0M217.0 172.0h0M312.6 176.2h0M341.2 160.8h0M309.5 157.2h0M186.7 203.4h0M263.1 209.4h0M190.7 221.7h0M206.4 194.1h0M272.1 178.7h0M279.5 189.6h0M249.5 193.3h0M223.1 200.1h0M268.7 185.3h0M280.5 170.6h0M229.3 185.3h0M292.0 186.0h0M237.1 156.9h0M288.5 170.2h0M198.9 207.6h0M303.1 141.2h0M186.5 209.3h0M160.7 251.3h0M314.3 186.0h0M264.2 192.9h0M283.6 186.6h0M356.8 175.4h0M333.8 163.8h0M228.8 210.1h0M222.5 177.6h0M485.6 124.0h0M212.1 215.4h0M224.7 180.9h0M186.3 213.0h0M184.8 244.9h0M280.0 178.3h0M457.7 113.1h0M197.0 212.0h0M224.0 207.7h0M235.9 192.3h0M199.4 215.4h0M230.4 186.0h0M188.6 204.5h0M294.0 178.0h0M195.0 229.9h0M312.7 140.5h0M195.7 201.1h0M257.8 165.7h0M191.8 199.8h0M321.7 161.6h0M357.5 147.5h0M198.3 181.4h0M262.9 177.5h0M383.2 127.8h0M383.9 164.3h0M233.5 181.9h0M247.2 217.3h0M251.6 157.0h0M225.6 191.3h0M168.9 208.5h0M206.2 213.9h0M216.9 200.2h0M188.1 227.3h0M242.4 206.3h0M395.6 136.0h0M187.9 214.5h0M245.4 194.5h0M296.0 174.5h0M229.6 173.5h0M366.3 130.1h0M405.7 111.4h0M274.8 182.9h0M271.8 189.5h0M300.9 166.3h0M272.5 168.2h0M227.7 218.6h0M213.9 189.4h0M342.0 158.3h0M260.4 176.7h0M194.9 201.0h0M213.2 204.6h0M244.8 202.2h0M247.7 192.7h0M324.5 144.2h0M255.0 213.9h0M223.7 194.0h0M232.9 196.2h0M180.6 216.0h0M179.1 210.9h0M185.0 202.8h0M251.8 187.2h0M255.0 165.7h0M218.2 203.4h0M194.1 171.5h0M271.0 211.0h0M302.4 144.9h0M220.6 203.8h0M194.6 227.2h0M364.7 141.0h0M215.8 208.0h0M368.6 141.7h0M287.6 176.0h0M235.8 172.5h0M311.9 168.2h0M310.7 171.0h0M241.4 196.8h0M265.7 174.2h0M261.1 183.3h0M210.7 176.6h0M313.8 174.0h0M233.1 200.0h0M305.3 176.0h0M264.6 195.9h0M301.3 177.0h0M234.3 208.8h0M220.7 235.7h0M319.7 190.9h0M221.5 218.1h0M342.6 195.8h0M252.0 202.9h0M334.1 150.0h0M264.2 180.9h0M237.8 221.7h0M220.3 226.6h0M237.7 204.3h0M258.9 200.9h0M362.9 140.4h0M211.1 202.1h0M260.6 183.4h0M247.8 196.3h0M204.0 191.3h0M203.0 203.5h0M380.4 106.8h0M255.3 176.6h0M222.8 196.3h0M241.8 196.2h0M231.2 205.8h0M284.8 193.7h0M239.6 190.3h0M266.5 175.5h0M229.6 171.8h0M308.1 163.8h0M228.2 181.9h0M275.4 175.0h0M306.7 200.4h0M318.6 155.8h0M175.7 208.3h0M231.9 199.0h0M336.5 160.8h0M252.1 190.1h0M254.0 221.0h0M329.1 155.2h0M424.5 154.3h0M362.1 113.2h0M284.8 178.7h0M224.6 192.7h0M245.9 184.2h0M220.7 227.6h0M277.8 154.7h0M258.4 195.3h0M200.9 186.3h0M218.4 176.9h0M216.9 184.0h0M276.9 225.2h0M267.5 200.4h0M247.6 196.1h0M243.1 211.3h0M233.0 194.6h0M278.7 153.3h0M177.2 196.2h0M249.1 195.0h0M269.5 199.2h0M230.2 182.3h0M301.5 158.2h0M256.6 190.0h0M270.3 194.9h0M219.0 172.8h0M262.5 156.4h0M318.2 143.6h0M236.6 179.5h0M241.0 197.8h0M285.7 170.8h0M211.3 219.8h0M210.3 175.2h0M266.5 200.0h0M210.1 214.7h0M268.3 186.2h0M361.2 143.6h0M242.4 167.2h0M190.0 194.5h0M205.9 216.4h0M184.6 204.8h0M314.7 160.2h0M262.3 159.8h0M257.7 212.5h0M202.1 213.7h0M313.8 181.8h0M214.0 196.9h0M192.3 192.3h0M305.6 171.4h0M255.3 151.1h0M235.5 209.2h0M222.0 195.0h0M275.1 190.1h0M189.3 221.1h0M254.3 193.7h0M299.8 141.5h0M293.6 184.0h0M165.7 237.4h0M375.9 143.5h0M292.0 184.4h0M221.8 182.3h0M226.1 186.3h0M400.2 137.3h0M193.9 189.7h0M416.7 167.4h0M323.5 132.8h0M502.1 112.0h0M214.5 215.5h0M186.4 193.7h0M215.9 192.2h0M250.4 186.0h0M254.3 189.6h0M169.5 242.7h0M271.7 205.5h0M238.3 181.7h0M187.5 201.8h0M241.8 191.6h0M356.5 143.9h0M205.2 223.1h0M286.6 174.6h0M208.5 184.0h0M299.6 205.0h0M169.2 222.2h0M299.5 176.9h0M355.3 118.1h0M250.0 170.2h0M213.4 197.6h0M295.3 130.7h0M335.0 160.9h0M257.1 180.7h0M202.8 199.7h0M215.6 205.1h0M235.5 202.2h0M208.3 201.6h0M281.9 237.0h0M247.4 226.0h0M264.1 178.4h0M202.9 212.4h0M404.8 157.0h0M220.0 177.1h0M205.6 190.6h0M191.5 210.8h0M257.4 164.2h0M196.6 198.5h0M247.5 190.7h0M318.8 180.2h0M343.1 169.3h0M361.1 131.5h0M196.8 208.0h0M257.9 183.3h0M215.7 197.2h0M190.5 195.9h0M415.0 126.9h0M280.1 185.4h0M326.5 157.3h0M161.4 235.2h0M346.6 146.1h0M411.9 132.8h0M195.8 212.1h0M294.1 153.9h0M223.1 221.3h0M290.8 187.1h0M269.4 180.0h0M201.1 228.5h0M294.4 173.6h0M188.3 206.1h0M217.6 188.8h0M284.2 175.5h0M477.6 127.6h0M193.8 217.1h0M230.7 193.1h0M217.2 197.2h0M230.2 203.0h0M312.9 156.1h0M293.0 163.2h0M227.8 186.6h0M258.8 182.9h0M224.9 197.4h0M209.1 212.8h0M224.6 187.9h0M168.4 205.3h0M316.5 173.8h0M257.8 177.1h0M191.9 211.7h0M198.9 210.3h0M290.4 192.5h0M235.1 199.8h0M202.7 195.4h0M465.4 189.6h0M328.1 148.5h0M194.2 220.8h0M256.5 225.0h0M259.1 175.4h0M288.5 177.2h0M363.2 137.6h0M365.0 119.4h0M293.3 157.9h0M328.5 195.7h0M309.1 177.2h0M219.7 206.3h0M215.6 175.2h0M281.4 191.8h0M424.5 140.5h0M275.1 164.0h0M196.8 240.3h0M292.9 184.5h0M246.8 215.2h0M160.5 253.3h0M278.8 172.9h0M202.4 205.9h0M290.0 232.2h0M338.1 159.1h0M253.7 196.7h0M229.8 198.8h0M250.6 182.1h0M337.1 171.1h0M258.3 185.1h0M240.7 206.6h0M265.9 169.5h0M179.1 196.6h0M162.8 219.9h0M352.2 136.2h0M362.3 155.4h0M216.4 206.9h0M311.4 164.4h0M186.9 215.9h0M342.5 146.2h0M283.8 213.2h0M208.2 204.4h0M197.6 225.0h0M174.2 214.9h0M249.9 186.3h0M384.4 140.6h0M393.1 192.0h0M243.4 187.8h0M383.0 168.2h0M311.7 189.1h0M285.8 135.0h0M271.1 143.5h0M274.1 181.6h0M197.0 207.8h0M201.2 210.8h0M343.0 142.4h0M236.0 180.6h0M313.0 149.6h0M276.6 198.1h0M275.2 185.0h0M287.5 163.2h0M232.7 192.8h0M251.8 213.8h0M294.7 173.3h0M195.7 190.4h0M279.5 214.6h0M313.8 142.0h0M253.7 190.5h0M283.5 153.6h0M267.8 167.3h0M183.4 205.9h0M235.2 195.7h0M279.0 181.6h0M239.0 204.7h0M317.0 162.5h0M352.1 146.0h0M215.0 227.4h0M210.4 213.3h0M179.6 257.9h0M308.8 194.2h0M179.2 230.0h0M275.1 173.0h0M419.4 136.0h0M243.8 190.2h0M239.1 201.5h0M209.4 223.2h0M182.1 200.1h0M352.6 141.0h0M315.2 185.3h0M257.5 192.3h0M246.0 185.2h0M250.2 208.1h0M264.8 198.3h0M233.9 188.3h0M245.1 189.5h0M326.3 146.9h0M257.0 192.1h0M261.4 175.1h0M242.1 183.7h0M247.7 159.3h0M236.6 207.1h0M316.2 207.3h0M245.1 207.7h0M371.6 135.2h0M217.5 188.1h0M201.9 176.8h0M254.4 190.5h0M240.5 178.4h0M322.2 158.8h0M277.6 151.7h0M372.9 142.8h0M340.0 158.1h0M219.1 181.0h0M391.4 141.2h0M236.0 204.8h0M202.2 235.6h0M255.8 178.4h0M239.3 171.6h0M205.9 206.4h0M225.7 179.7h0M469.9 135.0h0M212.2 188.1h0M215.8 185.1h0M264.2 189.6h0M221.6 221.7h0M253.6 191.1h0M228.8 194.9h0M286.5 163.8h0M214.3 233.8h0M226.2 172.1h0M312.7 156.3h0M232.6 198.5h0M267.9 212.8h0M239.2 202.9h0M176.3 209.8h0M350.3 144.8h0M213.9 194.5h0M350.8 176.2h0M245.3 197.9h0M363.0 146.9h0M237.6 196.6h0M276.7 189.6h0M299.9 168.5h0M186.2 190.0h0M354.1 170.2h0M193.8 186.9h0M321.0 178.4h0M236.8 209.3h0M241.8 208.5h0M318.2 151.7h0M286.0 168.3h0M184.1 193.6h0M178.4 229.3h0M326.8 179.5h0M247.8 155.3h0M227.7 187.2h0M293.4 214.1h0M210.6 219.9h0M196.8 205.2h0M281.6 154.2h0M271.6 150.9h0M343.3 171.0h0M220.6 187.3h0M194.3 210.5h0M264.2 188.5h0M222.6 205.0h0M247.2 210.1h0M196.3 257.9h0M320.9 168.6h0M323.0 155.0h0M201.5 229.3h0M232.1 171.3h0M225.1 203.4h0M227.4 183.3h0M290.2 190.4h0M351.9 169.7h0M392.1 124.0h0M362.4 138.1h0M250.0 221.6h0M385.3 134.3h0M247.1 217.0h0M246.9 198.5h0M278.6 166.2h0M263.2 168.3h0M402.4 143.2h0M403.1 140.9h0M293.3 174.5h0M285.9 189.8h0M209.6 195.2h0M378.5 145.0h0M237.9 222.5h0M219.3 194.1h0M190.7 179.1h0M345.8 137.1h0M194.1 210.4h0M443.4 142.6h0M231.0 204.1h0M319.6 142.7h0M278.2 166.6h0M239.1 207.1h0M297.6 164.6h0M226.6 172.0h0M284.2 175.2h0M289.8 172.4h0M268.9 233.5h0M360.9 195.0h0M282.6 163.0h0M309.0 157.3h0M228.7 183.9h0M371.6 124.9h0M315.9 165.9h0M164.9 233.8h0M247.8 182.0h0M413.8 153.8h0M181.0 247.9h0M245.9 195.9h0M256.4 200.4h0M211.4 216.8h0M172.5 217.8h0M242.4 179.4h0M252.2 244.9h0M251.5 221.7h0M333.2 185.3h0M167.4 240.5h0M314.5 168.8h0M494.0 128.9h0M215.5 192.0h0M292.8 141.2h0M316.1 180.8h0M363.2 130.8h0M182.4 215.3h0M200.2 202.1h0M258.2 206.4h0M243.9 173.0h0M265.0 169.4h0M419.0 114.3h0M390.5 109.9h0M203.6 226.7h0M190.9 209.1h0M215.9 184.2h0M185.9 192.5h0M375.2 150.5h0M246.2 200.3h0M287.8 141.6h0M231.5 209.0h0M358.4 132.6h0M401.1 143.4h0M266.8 185.7h0M174.5 202.8h0M305.1 181.1h0M177.7 201.7h0M272.9 177.4h0M277.8 194.5h0M377.0 142.7h0M278.7 173.3h0M254.8 208.4h0M359.7 129.9h0M179.1 238.2h0M314.2 177.0h0M280.6 189.0h0M208.9 226.0h0M205.6 169.7h0M306.5 175.1h0M287.3 179.4h0M200.5 211.4h0M307.9 181.5h0M303.2 154.7h0M355.3 146.5h0M322.9 142.5h0M372.8 147.9h0M334.1 150.9h0M307.7 162.6h0M320.9 194.2h0M176.6 195.9h0M208.9 210.3h0M254.0 202.9h0M227.0 203.9h0M296.6 235.0h0M198.8 215.8h0M243.8 185.3h0M204.7 224.6h0M280.9 177.8h0M216.6 194.0h0M350.0 164.4h0M253.8 174.8h0M213.3 209.0h0M307.0 181.6h0M395.0 151.2h0M318.1 166.7h0M271.9 168.5h0M402.5 152.9h0M176.2 214.1h0M200.9 181.0h0M340.7 150.5h0M467.3 137.8h0M174.8 228.1h0M286.9 171.6h0M223.6 190.1h0M211.5 195.2h0M208.9 202.0h0M438.5 162.4h0M211.7 215.7h0M310.6 171.9h0M308.5 165.1h0M361.4 130.5h0M275.4 189.9h0M259.3 174.2h0M331.5 135.0h0M382.5 134.6h0M509.3 117.8h0M280.5 184.7h0M331.3 174.8h0M185.6 202.3h0M224.3 191.2h0M356.8 133.2h0M202.9 210.4h0M278.3 195.8h0M260.0 202.2h0M188.2 205.7h0M217.6 234.0h0M245.4 170.0h0M203.4 212.3h0M223.0 198.7h0M271.1 186.5h0M331.5 135.8h0M331.5 180.7h0M314.5 155.2h0M207.8 196.7h0M261.8 166.6h0M189.7 195.6h0M257.5 204.4h0M440.3 105.4h0M382.9 175.6h0M464.8 188.8h0M257.7 179.4h0M198.2 204.6h0M288.9 183.4h0M224.7 190.4h0M282.6 201.9h0M266.8 164.0h0M227.0 173.8h0M380.1 125.8h0M210.7 191.1h0M183.9 184.4h0M250.7 213.5h0M248.6 208.0h0M198.8 206.6h0M255.7 187.8h0M224.8 204.2h0M186.3 241.8h0M218.4 206.1h0M197.2 180.3h0M178.1 215.5h0M297.0 212.2h0M373.4 151.4h0M282.9 190.1h0M331.5 183.5h0M225.7 182.6h0M251.5 205.2h0M271.8 230.3h0M221.2 207.0h0M265.1 155.5h0M284.3 177.1h0M294.6 144.2h0M265.8 173.6h0M247.5 160.9h0M298.7 161.7h0M260.2 176.3h0M248.5 174.7h0M252.9 212.4h0M277.4 203.6h0M206.2 210.2h0M285.2 162.5h0M288.9 164.8h0M210.2 193.6h0M306.5 202.0h0M390.9 157.6h0M323.3 167.0h0M301.4 164.3h0M223.5 197.2h0M317.8 180.9h0M262.6 211.1h0M336.2 143.8h0M273.5 199.2h0M304.4 174.2h0M473.5 113.0h0M296.1 167.0h0M233.2 209.5h0M235.4 216.4h0M226.7 202.2h0M235.0 211.0h0M269.8 181.2h0M258.6 213.2h0M220.3 207.8h0M260.2 208.4h0M233.3 161.2h0M244.9 223.2h0M257.1 197.0h0M284.6 183.8h0M209.8 214.2h0M199.0 230.7h0M192.0 227.3h0M211.8 206.8h0M265.4 161.2h0M231.0 175.4h0M167.3 197.4h0M282.7 241.4h0M266.9 180.2h0M329.8 139.4h0M470.0 123.3h0M245.4 186.4h0M272.4 178.8h0M310.3 153.3h0M164.4 236.6h0M212.7 195.5h0M274.2 193.2h0M374.7 131.8h0M454.4 123.7h0M223.7 197.6h0M296.5 194.0h0M317.6 166.0h0M317.1 139.1h0M343.3 163.0h0M216.3 198.0h0M312.1 195.3h0M205.5 222.7h0M243.1 192.1h0M240.9 177.7h0M294.0 152.9h0M236.2 204.4h0M272.7 159.4h0M261.4 232.1h0M257.2 212.2h0M279.8 232.0h0M171.3 201.0h0M168.2 196.9h0M191.0 224.7h0M234.9 218.8h0M348.1 176.7h0M223.9 215.2h0M207.4 196.4h0M216.5 207.4h0M173.3 244.4h0M268.3 173.1h0M188.9 213.9h0M280.6 176.0h0M192.4 184.1h0M313.6 178.3h0M358.0 147.9h0M269.4 195.8h0M300.0 160.2h0M203.7 226.1h0M256.0 203.4h0M231.0 185.3h0M224.6 233.7h0M330.4 131.8h0M206.2 193.7h0M342.6 158.2h0M321.5 169.5h0M240.4 184.6h0M379.9 137.3h0M180.7 232.7h0M207.8 201.3h0M305.4 184.2h0M302.3 179.6h0M231.4 196.4h0M313.7 165.3h0M257.1 192.1h0M349.3 154.1h0M280.0 185.8h0M330.4 165.1h0M235.2 169.1h0M219.6 175.9h0M219.5 215.4h0M202.7 243.9h0M314.0 153.5h0M167.2 196.0h0M179.8 218.9h0M247.2 183.9h0M237.4 193.1h0M327.3 155.5h0M422.0 142.4h0M247.7 190.0h0M290.4 178.6h0M254.9 191.9h0M243.8 188.3h0M265.6 206.7h0M306.5 216.5h0M341.2 153.6h0M235.2 190.7h0M225.8 209.3h0M346.2 185.6h0M332.1 160.6h0M219.2 207.5h0M347.4 191.7h0M357.8 131.2h0M358.5 125.6h0M211.8 207.0h0M376.9 136.3h0M242.0 167.7h0M194.8 196.9h0M311.4 214.0h0M157.8 215.4h0M232.8 247.9h0M243.8 199.3h0M231.2 169.9h0M325.2 175.1h0M273.6 206.3h0M295.7 175.2h0M285.5 181.9h0M239.7 229.7h0M300.1 148.7h0M211.2 203.5h0M276.9 183.0h0M257.2 186.3h0M330.3 158.7h0M188.6 188.3h0M212.8 206.1h0M216.7 235.7h0M378.2 137.1h0M187.8 206.0h0M242.7 181.5h0M263.2 237.2h0M236.1 187.1h0M294.8 164.9h0M210.6 221.2h0M368.5 137.8h0M227.2 198.2h0M282.0 155.9h0M210.1 175.2h0M434.9 129.3h0M239.8 212.6h0M177.5 217.9h0M302.3 185.9h0M406.7 150.7h0M295.0 154.2h0M219.7 190.9h0M225.8 203.6h0M221.5 218.1h0M300.3 174.0h0M265.6 163.0h0M418.8 128.3h0M269.1 179.5h0M176.2 214.2h0M245.2 169.7h0M361.9 135.0h0M237.2 191.3h0M251.2 224.3h0M226.9 186.0h0M185.4 207.8h0M330.7 160.4h0M181.6 195.5h0M248.0 203.3h0M217.7 195.2h0M244.6 189.1h0M179.3 227.8h0M240.6 196.1h0M234.0 192.8h0M176.7 200.0h0M229.0 187.7h0M367.4 145.6h0M320.2 152.1h0M221.7 235.0h0M352.5 157.9h0M269.2 195.4h0M274.1 172.7h0M329.7 133.4h0M226.0 185.7h0M205.8 221.5h0M296.7 198.9h0M218.0 173.4h0M294.3 191.9h0M182.2 205.3h0M334.4 171.7h0M234.6 198.9h0M207.1 191.7h0M364.8 133.6h0M270.3 183.7h0M291.2 157.3h0M212.7 201.8h0M217.6 202.1h0M276.8 267.5h0M201.6 203.9h0M301.8 152.8h0M362.1 131.3h0M387.7 147.3h0M291.8 177.2h0M326.5 168.7h0M223.5 189.2h0M267.6 177.2h0M290.7 167.0h0M213.9 220.1h0M235.5 189.5h0M232.8 218.8h0M250.6 206.0h0M221.4 198.0h0M297.8 177.4h0M216.6 192.2h0M220.8 191.2h0M250.7 189.2h0M209.0 194.0h0M327.4 156.2h0M219.4 200.3h0M273.7 181.2h0M233.6 178.9h0M275.7 165.5h0M232.2 178.5h0M319.7 206.7h0M263.4 200.2h0M223.1 194.6h0M227.3 182.7h0M271.6 180.7h0M180.6 196.3h0M272.1 197.5h0M224.3 188.4h0M234.8 226.1h0M250.8 201.8h0M207.5 221.3h0M327.1 151.5h0M446.9 140.2h0M348.0 152.4h0M221.7 184.4h0M182.9 222.8h0M324.9 147.6h0M424.0 147.7h0M184.6 190.1h0M210.6 203.5h0M302.6 189.3h0M220.0 188.7h0M193.5 185.2h0M204.5 234.8h0M307.6 153.1h0M261.6 166.3h0M311.2 161.4h0M197.1 230.5h0M288.9 191.6h0M364.0 139.2h0M399.1 171.5h0M219.6 181.4h0M208.0 174.1h0M281.2 199.3h0M322.4 181.1h0M409.9 127.5h0M303.7 181.2h0M366.7 135.4h0M308.7 175.2h0M215.0 209.4h0M267.0 185.0h0M376.7 133.6h0M319.3 231.2h0M200.0 206.5h0M228.9 173.7h0M216.9 225.6h0M185.1 197.8h0M268.7 205.2h0M182.8 223.8h0M224.7 201.0h0M285.2 168.3h0M203.9 182.3h0M228.3 206.5h0M403.3 120.9h0M199.4 226.6h0M299.9 166.2h0M262.9 191.5h0M261.5 189.0h0M186.3 190.2h0M250.3 195.0h0M268.5 180.7h0M176.8 189.6h0M219.3 194.9h0M244.4 213.8h0M233.9 212.6h0M184.8 219.3h0M261.1 181.1h0M220.4 194.2h0M235.5 222.6h0M212.9 220.9h0M226.1 218.9h0M278.0 176.7h0M293.5 164.5h0M259.7 188.9h0M289.3 167.1h0M183.3 215.2h0M218.6 198.1h0M359.5 126.4h0M338.7 144.3h0M377.1 151.3h0M355.9 213.4h0M266.1 165.1h0M290.9 174.8h0M306.2 179.8h0M218.7 192.0h0M263.8 204.7h0M183.3 208.1h0M198.8 214.5h0M215.5 194.7h0M295.3 138.3h0M188.1 205.1h0M202.9 222.8h0M322.0 189.8h0M412.0 134.7h0M283.1 181.5h0M314.9 187.0h0M298.3 180.6h0M287.3 175.7h0M164.2 247.9h0M254.9 189.8h0M341.6 130.8h0M214.0 213.3h0M214.6 178.9h0M244.7 205.5h0M263.7 202.6h0M236.5 176.3h0M323.1 169.2h0M187.8 222.3h0M270.6 196.9h0M207.0 196.1h0M231.4 206.5h0M238.8 201.0h0M384.1 169.4h0M194.5 232.0h0M412.9 142.6h0M252.2 212.0h0M272.7 189.1h0M209.1 185.0h0M291.0 172.9h0M331.9 142.8h0M356.6 164.8h0M322.2 153.8h0M403.1 145.1h0M304.5 158.2h0M268.0 201.3h0M234.8 192.7h0M210.3 186.7h0M302.7 167.6h0M257.1 182.2h0M164.9 232.5h0M322.2 201.2h0M262.5 199.0h0M218.0 213.0h0M262.2 170.3h0M264.1 182.2h0M296.4 189.2h0M266.6 168.6h0M335.4 151.6h0M221.0 226.8h0M193.6 186.4h0M298.1 165.8h0M314.0 122.7h0M215.5 183.2h0M246.7 185.1h0M190.3 190.2h0M213.6 226.8h0M238.5 199.8h0M211.7 196.7h0M233.9 184.2h0M338.3 162.2h0M206.4 219.9h0M223.0 188.1h0M262.7 178.7h0M239.8 212.6h0M253.0 167.2h0M282.7 182.0h0M365.4 117.9h0M289.8 151.8h0M285.0 179.1h0M302.7 157.8h0M312.6 183.3h0M243.8 188.3h0M330.7 189.7h0M276.3 198.4h0M173.4 220.6h0M245.4 214.5h0M350.6 138.8h0M200.6 186.3h0M331.3 183.0h0M218.9 207.7h0M209.7 204.4h0M332.3 169.2h0M454.4 131.4h0M333.1 187.3h0M303.9 183.4h0M190.1 186.0h0M216.9 197.6h0M234.1 206.4h0M262.3 174.0h0M196.8 202.3h0M216.1 201.6h0M305.1 175.8h0M249.3 206.7h0M235.5 194.9h0M259.9 183.9h0M262.1 246.3h0M242.2 168.0h0M249.3 189.1h0M251.4 183.6h0M394.5 121.9h0M247.9 176.2h0M232.8 229.9h0M206.2 205.1h0M352.2 144.6h0M206.2 217.4h0M220.2 183.4h0M305.0 144.4h0M304.1 163.1h0M380.5 178.7h0M413.0 145.3h0M378.3 148.1h0M285.4 184.8h0M390.4 117.8h0M219.4 191.7h0M306.5 158.3h0M277.0 184.5h0M326.6 147.3h0M185.8 213.4h0M291.9 196.0h0M179.6 215.0h0M233.2 207.1h0M169.1 251.3h0M309.2 200.2h0M316.1 175.1h0M211.0 207.1h0M339.3 128.5h0M280.4 189.0h0M199.3 219.1h0M281.8 179.5h0M228.2 215.1h0M299.7 192.7h0M357.3 153.6h0M281.0 158.3h0M339.6 131.2h0M231.8 208.8h0M423.7 159.8h0M235.6 197.0h0M479.8 133.4h0M225.0 223.5h0M238.6 179.1h0M186.2 209.8h0M225.2 212.6h0M226.7 192.0h0M218.1 216.0h0M355.1 165.3h0M388.9 142.3h0M449.8 106.3h0M325.7 134.2h0M233.8 171.3h0M354.0 176.4h0M311.3 157.7h0M196.5 220.9h0M369.4 137.9h0M397.6 127.2h0M240.6 181.3h0M246.1 201.9h0M247.2 207.4h0M206.9 191.9h0M329.4 140.9h0M227.0 210.2h0M304.9 184.1h0M438.6 134.8h0M286.0 185.9h0M230.8 180.2h0M341.4 139.4h0M214.8 187.4h0M342.1 165.0h0M424.8 147.3h0M168.3 229.6h0M420.0 133.7h0M319.7 150.6h0M263.2 177.6h0M179.8 220.8h0M229.0 186.8h0M315.4 153.0h0M213.8 203.3h0M304.2 185.6h0M316.3 157.5h0M240.2 176.7h0M317.6 153.6h0M173.9 237.4h0M281.0 170.9h0M295.6 171.0h0M233.9 198.2h0M190.7 210.9h0M247.6 198.5h0M321.1 173.5h0M179.0 209.9h0M166.6 224.8h0M254.6 185.0h0M292.6 192.5h0M202.6 200.6h0M178.6 190.0h0M204.3 222.5h0M214.7 198.9h0M358.9 148.1h0M232.3 190.2h0M326.7 149.3h0M333.3 167.5h0M210.8 187.0h0M183.8 200.4h0M252.1 192.6h0M342.8 144.5h0M249.1 169.2h0M243.8 167.5h0M291.0 176.8h0M243.2 178.3h0M270.9 180.6h0M306.4 180.3h0M304.8 186.3h0M214.4 182.0h0M343.1 141.2h0M349.2 154.7h0M269.2 176.9h0M297.0 177.7h0M203.8 170.6h0M322.3 169.5h0M251.8 185.5h0M261.9 168.8h0M197.7 206.4h0M202.0 187.6h0M191.0 202.3h0M209.1 204.3h0M207.2 201.4h0M307.4 199.1h0M269.7 165.4h0M193.9 196.1h0M260.3 177.7h0M248.7 185.0h0M226.0 213.0h0M196.0 204.4h0M219.9 213.6h0M438.2 139.7h0M228.4 215.4h0M239.3 198.0h0M210.9 184.2h0M251.3 180.6h0M349.1 166.0h0M276.5 193.2h0M244.3 172.9h0M259.2 189.0h0M415.8 123.7h0M239.4 165.6h0M354.1 134.4h0M227.8 214.0h0M343.8 189.4h0M210.0 175.4h0M223.4 220.7h0M183.4 236.6h0M336.5 165.2h0M163.3 255.4h0M279.3 168.7h0M255.0 197.9h0M343.4 168.0h0M182.8 198.5h0M391.0 154.6h0M312.9 124.0h0M292.7 196.1h0M261.9 183.1h0M342.8 152.2h0M286.8 174.9h0M195.6 235.0h0M316.8 164.7h0M268.0 164.9h0M257.1 225.5h0M285.8 202.2h0M209.5 202.6h0M259.5 219.4h0M291.0 166.2h0M315.8 153.2h0M280.1 175.3h0M326.0 179.0h0M447.7 117.3h0M176.9 194.6h0M322.4 143.9h0M293.3 179.3h0M370.1 136.3h0M185.3 221.9h0M446.2 115.5h0M330.5 165.6h0M242.9 211.0h0M207.8 206.0h0M200.5 195.4h0M342.1 155.8h0M219.5 201.3h0M360.3 162.2h0M179.4 212.8h0M360.9 148.3h0M372.7 142.4h0M241.0 194.1h0M268.8 182.9h0M373.2 156.2h0M287.2 175.1h0M273.1 207.2h0M254.7 183.1h0M317.2 146.2h0M233.4 223.6h0M217.4 228.5h0M196.3 194.3h0M323.9 122.2h0M229.6 178.1h0M215.6 207.0h0M477.5 137.0h0M282.9 186.6h0M269.7 203.0h0M186.7 205.1h0M233.5 180.1h0M254.0 192.7h0M470.6 125.8h0M234.1 181.2h0M246.9 200.9h0M253.9 193.7h0M192.5 204.9h0M217.7 213.6h0M218.4 197.9h0M252.8 177.6h0M349.6 151.3h0M266.0 210.6h0M478.0 126.5h0M317.5 167.5h0M247.8 190.0h0M186.6 230.6h0M205.3 202.7h0M176.6 218.7h0M248.4 199.0h0M289.8 187.3h0M217.9 202.6h0M276.1 211.0h0M275.7 151.7h0M271.9 171.3h0M171.8 204.6h0M260.1 215.9h0M510.4 133.4h0M288.6 170.8h0M283.4 173.1h0M243.3 198.7h0M313.7 151.3h0M214.8 209.0h0M345.4 146.1h0M227.9 197.5h0M261.6 189.2h0M249.0 202.3h0M282.8 188.7h0M219.3 209.0h0M205.6 198.6h0M252.3 198.1h0M165.1 246.3h0M258.4 176.8h0M358.2 167.1h0M254.3 179.0h0M233.2 193.7h0M225.8 170.6h0M229.4 184.5h0M226.0 192.3h0M298.8 164.3h0M233.4 179.2h0M221.2 196.4h0M202.8 192.9h0M232.5 198.5h0M252.1 163.8h0M212.8 204.4h0M272.8 224.2h0M215.1 190.2h0M321.4 168.3h0M218.7 202.5h0M193.2 196.8h0M213.3 247.9h0M195.1 238.6h0M258.7 188.5h0M169.3 246.3h0M254.3 177.9h0M273.1 172.9h0M275.2 187.2h0M326.7 148.4h0M235.1 226.6h0M341.2 156.8h0M300.6 157.4h0M281.3 156.7h0M167.4 215.8h0M294.6 150.1h0M280.2 171.7h0M251.6 190.5h0M322.1 157.7h0M235.9 155.1h0M245.0 156.1h0M209.0 199.3h0M344.8 146.1h0M225.0 188.9h0M367.4 167.3h0M211.5 199.0h0M329.2 171.9h0M231.0 198.8h0M189.0 230.4h0M476.7 131.4h0M170.8 206.3h0M188.1 208.6h0M247.0 177.2h0M220.9 201.7h0M257.8 199.3h0M283.4 175.2h0M235.1 223.8h0M274.8 192.6h0M223.2 203.8h0M287.3 185.1h0M340.3 150.3h0M282.1 164.6h0M256.2 218.7h0M327.6 148.5h0M300.8 169.4h0M298.6 182.6h0M263.8 202.9h0M193.0 198.3h0M248.1 194.3h0M211.7 158.2h0M302.2 157.6h0M193.0 185.6h0M311.8 181.6h0M278.4 180.3h0M204.4 213.0h0M168.9 267.5h0M202.6 201.3h0M268.0 189.8h0M298.3 177.1h0M187.8 204.0h0M329.1 145.2h0M234.9 217.5h0M245.6 163.8h0M223.1 209.8h0M219.9 186.3h0M172.9 233.4h0M255.5 191.4h0M255.7 170.2h0M181.9 205.3h0M225.6 193.7h0M237.8 189.9h0M258.2 175.8h0M308.1 149.0h0M187.4 200.1h0M349.5 158.8h0M237.8 180.3h0M229.9 196.4h0M259.3 181.5h0M293.5 171.1h0M264.6 169.0h0M268.3 178.9h0M212.7 207.8h0M281.5 200.5h0M197.9 228.9h0M368.7 139.6h0M359.1 158.2h0M312.6 153.3h0M218.8 198.7h0M340.2 151.5h0M202.0 213.6h0M261.7 187.4h0M271.3 166.5h0M286.1 172.5h0M245.8 179.7h0M301.2 208.9h0M391.9 153.3h0M232.0 176.1h0M332.8 139.5h0M214.3 214.0h0M228.5 231.1h0M211.7 224.1h0M291.8 166.3h0M253.6 191.1h0M361.3 131.8h0M211.5 206.2h0M258.0 182.2h0M222.1 190.3h0M223.3 200.4h0M300.5 178.5h0M411.0 146.2h0M239.8 196.2h0M375.2 143.5h0M220.9 183.4h0M203.7 251.3h0M241.7 201.4h0M259.6 203.7h0M375.2 155.7h0M210.3 170.0h0M218.2 198.3h0M265.4 163.2h0M231.2 198.1h0M285.0 183.7h0M280.9 156.8h0M239.1 177.7h0M258.5 167.7h0M323.1 182.0h0M198.6 201.0h0M318.3 161.0h0M329.8 157.0h0M178.2 257.9h0M182.8 211.8h0M201.2 205.9h0M181.7 196.3h0M186.2 214.4h0M225.7 196.5h0M197.6 209.7h0M356.3 131.3h0M198.2 191.5h0M245.4 161.1h0M247.8 211.0h0M332.8 135.9h0M299.5 145.6h0M204.8 227.9h0M281.9 198.8h0M226.4 210.6h0M235.2 210.2h0M301.4 182.5h0M175.1 236.7h0M242.8 197.6h0M315.1 159.0h0M189.9 196.5h0M282.1 159.5h0M357.3 164.6h0M362.9 139.1h0M291.7 165.0h0M299.5 184.4h0M254.5 181.4h0M334.3 175.7h0M368.3 156.1h0M452.6 130.8h0M403.9 142.3h0M401.7 123.9h0M283.9 180.1h0M182.7 209.0h0M242.6 174.3h0M279.2 204.2h0M217.7 190.0h0M227.5 178.6h0M178.2 219.9h0M207.4 185.8h0M205.8 223.3h0M192.2 224.2h0M255.9 209.6h0M333.7 134.8h0M289.8 189.4h0M211.3 194.1h0M220.0 207.4h0M224.2 183.4h0M334.3 180.2h0M195.3 220.8h0M239.3 236.5h0M334.4 179.2h0M201.7 190.2h0M243.2 215.5h0M289.7 151.0h0M194.8 172.2h0M237.8 197.3h0M217.7 224.3h0M217.4 207.3h0M220.9 193.3h0M206.3 240.0h0M419.7 145.5h0M192.2 206.4h0M241.7 185.8h0M188.9 243.8h0M227.3 198.4h0M195.1 206.2h0M251.2 171.5h0M336.7 153.0h0M188.0 192.9h0M252.2 179.8h0M438.9 145.1h0M202.2 159.1h0M308.5 158.1h0M293.8 169.9h0M231.8 202.3h0M237.8 195.9h0M280.3 177.3h0M311.1 158.4h0M166.5 222.2h0M354.3 152.7h0M228.7 223.8h0M268.0 192.6h0M220.8 170.4h0M273.7 177.0h0M343.9 165.6h0M242.6 207.2h0M409.5 150.2h0M161.2 239.2h0M371.1 147.4h0M334.1 136.2h0M219.2 194.0h0M205.6 175.8h0M244.0 220.0h0M201.1 209.1h0M232.8 228.5h0M204.0 243.4h0M247.2 187.0h0M289.2 205.6h0M271.6 212.1h0M304.5 184.9h0M268.5 164.7h0M271.8 162.8h0M220.1 227.4h0M227.2 185.0h0M399.4 196.9h0M233.8 186.9h0M233.4 204.6h0M336.2 139.1h0M323.9 147.5h0M326.2 162.7h0M415.9 160.2h0M258.3 227.4h0M255.6 171.9h0M275.8 177.6h0M457.9 152.0h0M302.0 187.3h0M242.7 150.1h0M225.4 217.5h0M212.8 196.6h0M336.1 137.9h0M333.1 123.1h0M267.7 178.2h0M170.4 214.4h0M237.8 214.4h0M303.9 163.2h0M279.2 180.0h0M218.1 219.7h0M241.0 212.7h0M229.2 176.1h0M312.1 193.6h0M273.2 138.4h0M324.7 168.0h0M226.5 233.1h0M204.1 170.2h0M229.4 186.2h0M362.6 121.3h0M310.0 179.4h0M177.9 223.8h0M217.2 184.0h0M290.0 188.6h0M376.2 144.8h0M212.4 202.2h0M459.4 119.7h0M258.2 169.2h0M319.3 176.9h0M162.1 215.6h0M185.0 214.9h0M438.3 134.3h0M300.8 189.0h0M279.8 163.2h0M219.7 200.8h0M239.3 184.6h0M222.8 211.4h0M258.2 210.1h0M209.2 222.2h0M435.7 129.1h0M357.7 147.2h0M273.8 177.6h0M170.1 204.0h0M312.5 178.8h0M329.0 159.1h0M230.6 183.5h0M266.2 174.5h0M262.8 189.5h0M274.5 191.8h0M280.2 203.3h0M261.4 173.3h0M206.1 183.7h0M262.4 188.0h0M201.2 215.0h0M342.2 150.4h0M243.2 244.9h0M271.9 188.8h0M372.6 159.3h0M241.1 221.2h0M235.9 228.8h0M299.5 164.9h0M299.5 166.1h0M211.7 212.7h0M389.8 135.1h0M203.2 194.6h0M232.4 208.5h0M225.9 192.7h0M251.4 174.6h0M382.0 165.4h0M360.8 149.9h0M235.1 225.4h0M288.6 136.5h0M260.3 168.0h0M216.3 168.2h0M192.4 234.4h0M227.4 197.6h0M206.4 183.5h0M230.8 199.0h0M311.9 133.5h0M238.1 196.5h0M224.8 197.9h0M209.9 229.9h0M182.3 242.9h0M209.2 234.5h0M359.6 148.0h0M180.3 233.8h0M422.9 141.8h0M168.4 208.1h0M322.1 149.1h0M244.2 183.3h0M339.7 144.5h0M215.0 178.6h0M216.9 202.9h0M202.5 217.3h0M333.9 158.9h0M358.3 145.9h0M177.4 228.0h0M266.5 178.9h0M229.8 190.4h0M200.4 187.0h0M402.9 152.4h0M255.8 166.3h0M290.3 177.5h0M265.7 206.8h0M382.5 153.2h0M338.4 148.0h0M284.9 174.2h0M182.6 232.9h0M203.0 189.8h0M219.2 223.3h0M202.5 249.5h0M250.5 189.7h0M214.6 184.6h0M247.8 188.9h0M304.3 167.6h0M223.9 213.5h0M219.9 183.4h0M264.0 189.9h0M270.8 171.5h0M224.3 204.2h0M211.6 215.3h0M257.9 203.4h0M232.0 219.8h0M225.0 214.3h0M251.6 205.4h0M238.0 188.6h0M322.1 141.7h0M176.7 216.3h0M414.4 140.7h0M194.5 196.7h0M336.3 170.8h0M407.9 141.0h0M156.3 221.3h0M211.7 181.2h0M177.9 222.6h0M231.2 201.8h0M339.0 163.9h0M348.0 148.0h0M208.6 176.7h0M283.6 175.8h0M305.6 188.3h0M382.3 126.2h0M222.6 183.1h0M240.8 173.0h0M314.9 152.1h0M256.3 192.6h0M226.7 214.7h0M221.3 189.2h0M242.4 196.3h0M276.5 177.4h0M396.1 120.5h0M181.7 246.3h0M357.1 214.7h0M247.9 214.5h0M244.2 202.9h0M407.1 139.3h0M276.6 174.4h0M323.7 175.3h0M239.9 173.7h0M247.8 194.9h0M299.1 159.7h0M215.0 173.2h0M168.7 231.8h0M267.3 187.9h0M187.8 210.7h0M224.8 189.0h0M241.2 178.4h0M216.7 220.6h0M259.1 204.3h0M308.6 177.5h0M195.6 188.7h0M358.7 145.1h0M232.3 191.0h0M279.6 202.4h0M208.0 227.5h0M373.9 138.4h0M215.7 213.9h0M260.0 169.8h0M316.0 179.3h0M236.6 190.8h0M214.6 188.5h0M246.5 181.0h0M235.9 194.3h0M323.9 128.3h0M479.6 131.0h0M210.4 194.9h0M213.7 206.9h0M312.0 150.4h0M260.5 165.3h0M248.6 169.8h0M327.6 155.8h0M245.8 174.6h0M324.9 178.0h0M383.7 147.7h0M321.4 152.4h0M317.0 200.9h0M450.3 154.2h0M260.9 173.5h0M277.3 176.2h0M332.5 195.3h0M192.4 211.7h0M285.7 152.2h0M223.8 190.0h0M244.9 196.7h0M271.0 167.5h0M223.5 195.7h0M316.4 183.6h0M219.1 238.4h0M209.9 215.7h0M259.9 164.7h0M187.4 222.6h0M243.5 191.6h0M309.5 145.1h0M220.1 238.1h0M233.2 203.7h0M379.8 167.6h0M439.3 111.0h0M238.0 204.9h0M287.7 176.7h0M270.3 178.8h0M244.4 178.0h0M266.1 173.5h0M202.9 202.1h0M452.1 118.7h0M276.5 172.7h0M182.9 179.5h0M323.8 179.3h0M274.4 185.3h0M289.2 162.1h0M206.4 226.0h0M279.2 186.6h0M241.5 169.5h0M212.8 206.9h0M213.2 171.5h0M337.4 160.3h0M263.3 163.7h0M314.7 166.1h0M343.5 147.8h0M313.2 153.1h0M412.7 142.2h0M303.1 174.5h0M218.4 169.2h0M182.0 229.6h0M223.0 187.9h0M220.0 175.5h0M261.4 159.5h0M210.8 204.2h0M275.5 174.1h0M211.6 182.2h0M216.2 209.1h0M337.3 156.0h0M207.6 215.4h0M251.5 211.7h0M233.3 204.8h0M294.4 230.2h0M369.3 172.5h0M295.2 150.0h0M219.9 203.3h0M266.8 156.3h0M337.7 138.5h0M254.2 193.8h0M308.6 168.2h0M292.6 181.1h0M225.9 197.3h0M386.3 139.9h0M262.5 178.0h0M201.4 197.5h0M209.0 199.6h0M314.3 175.6h0M219.8 226.2h0M217.2 196.1h0M318.5 167.2h0M321.4 152.4h0M285.4 186.4h0M262.4 180.1h0M168.1 241.1h0M216.8 193.4h0M222.4 202.7h0M302.1 212.5h0M193.9 163.9h0M291.5 161.0h0M238.3 194.6h0M356.5 144.6h0M221.5 197.6h0M335.4 157.7h0M346.0 151.9h0M242.1 191.1h0M251.4 188.1h0M299.0 155.3h0M241.7 175.5h0M262.8 156.0h0M281.7 169.5h0M303.3 162.6h0M421.7 101.7h0M428.2 153.8h0M255.5 183.1h0M345.2 145.9h0M227.2 185.8h0M280.0 188.4h0M289.3 180.9h0M245.9 186.4h0M223.1 206.7h0M212.1 234.5h0M284.0 164.1h0M247.4 192.6h0M257.4 203.0h0M334.5 136.2h0M315.8 205.1h0M261.7 201.0h0M175.6 210.0h0M195.2 215.6h0M314.2 197.0h0M234.3 193.0h0M304.6 145.6h0M307.0 196.6h0M363.0 153.5h0M239.7 181.2h0M226.9 191.9h0M268.5 167.9h0M301.1 174.7h0M260.1 204.7h0M236.6 193.2h0M231.0 196.8h0M246.1 183.7h0M241.7 196.5h0M268.4 187.5h0M347.8 159.8h0M448.7 143.3h0M268.9 194.2h0M278.3 201.0h0M219.0 190.2h0M369.5 140.0h0M324.5 193.3h0M240.4 199.7h0M252.4 187.3h0M173.6 237.3h0M234.4 187.7h0M271.0 191.2h0M241.4 191.6h0M243.2 207.3h0M401.3 136.1h0M296.9 170.0h0M230.8 158.5h0M357.6 125.4h0M262.8 181.7h0M261.5 183.9h0M299.7 170.2h0M245.8 186.3h0M386.9 174.1h0M216.1 201.1h0M262.0 174.8h0M191.5 207.9h0M364.6 139.6h0M344.6 178.1h0M316.7 194.2h0M234.5 168.3h0M366.3 134.7h0M258.4 164.8h0M207.7 208.5h0M320.7 175.3h0M304.7 195.2h0M251.7 182.6h0M232.5 219.3h0M323.7 175.1h0M190.0 190.0h0M233.8 199.8h0M244.7 195.1h0M294.6 159.6h0M342.5 152.6h0M353.2 143.4h0M283.4 198.6h0M195.0 202.5h0M170.3 217.7h0M268.5 176.1h0M231.3 189.2h0M240.4 190.3h0M429.4 126.2h0M329.8 171.9h0M300.5 165.5h0M247.1 242.9h0M232.1 193.3h0M303.2 177.2h0M161.3 243.6h0M359.9 156.9h0M299.0 180.7h0M187.4 196.8h0M166.9 237.7h0M234.3 228.3h0M255.9 178.3h0M233.2 159.4h0M313.0 151.1h0M216.7 215.9h0M193.4 228.4h0M182.4 211.0h0M314.7 158.0h0M219.5 210.1h0M239.3 177.1h0M334.8 187.8h0M180.5 249.5h0M212.9 214.0h0M325.9 151.6h0M285.3 161.9h0M179.5 213.0h0M277.2 156.2h0M219.1 191.1h0M210.9 204.2h0M266.2 158.8h0M308.1 162.4h0M458.3 141.8h0M261.0 179.5h0M273.7 197.6h0M314.8 148.2h0M271.0 184.9h0M322.3 190.6h0M339.1 136.3h0M222.0 191.4h0M307.1 176.2h0M226.5 260.6h0M322.9 151.5h0M222.6 198.2h0M175.0 213.8h0M248.5 171.8h0M237.2 199.7h0M333.5 157.8h0M215.0 170.6h0M248.5 193.7h0M266.5 193.7h0M323.8 160.1h0M232.4 178.7h0M223.0 210.9h0M297.1 175.3h0M185.7 220.4h0M197.8 176.6h0M304.7 149.7h0M202.6 198.4h0M276.4 161.0h0M325.4 224.3h0M198.6 218.8h0M221.6 179.1h0M272.6 159.5h0M322.7 185.6h0M262.2 178.8h0M288.5 209.3h0M290.1 178.9h0M224.8 195.1h0M330.4 176.4h0M259.5 162.3h0M370.7 152.6h0M203.5 198.1h0M198.2 225.2h0M213.1 212.9h0M280.8 195.9h0M215.1 176.1h0M226.8 195.0h0M176.7 210.4h0M177.4 184.1h0M227.5 206.8h0M238.7 187.9h0M260.4 196.1h0M227.0 182.4h0M388.0 134.2h0M339.4 138.8h0M298.1 155.1h0M285.3 192.9h0M169.6 232.1h0M296.2 168.4h0M271.7 204.5h0M249.8 189.6h0M203.7 193.1h0M252.7 174.3h0M264.1 190.0h0M247.1 188.4h0M477.4 134.8h0M196.7 226.3h0M261.9 167.2h0M286.5 146.2h0M212.2 203.4h0M267.5 154.3h0M161.9 204.7h0M166.1 235.0h0M161.0 235.6h0M152.5 247.9h0M152.1 223.8h0M152.0 218.5h0M155.8 243.7h0M151.3 267.5h0M149.6 239.3h0M161.6 210.0h0M171.0 213.6h0M158.0 232.4h0M160.3 260.6h0M165.9 215.1h0M156.2 239.9h0M162.1 227.9h0M170.8 217.9h0M150.3 247.9h0M149.6 257.9h0M162.4 234.5h0M166.5 215.6h0M157.5 233.5h0M146.5 263.8h0M204.2 172.0h0M166.7 207.7h0M155.8 247.9h0M194.8 229.2h0M152.5 236.6h0M157.3 211.8h0M152.2 238.0h0M154.1 214.8h0M171.2 215.8h0M159.1 244.8h0M150.1 236.8h0M153.4 267.5h0M158.5 243.6h0M153.8 227.6h0M162.6 242.7h0M163.8 232.6h0M163.0 251.3h0M153.6 236.4h0M159.1 263.8h0M196.2 211.8h0M149.3 229.5h0M153.1 246.3h0M152.5 224.4h0M168.3 215.9h0M154.6 226.4h0M152.2 251.3h0M167.0 224.4h0M159.2 249.5h0M151.9 242.9h0M202.7 212.2h0M155.1 227.4h0M184.7 184.8h0M151.3 263.8h0M167.4 200.5h0M182.1 253.3h0M162.1 202.9h0M159.2 213.4h0M145.8 240.8h0M147.6 238.8h0M149.4 240.0h0M167.5 263.8h0M173.7 207.2h0M166.5 232.5h0M156.6 226.5h0M176.5 204.4h0M169.8 200.3h0M156.1 218.9h0M156.7 238.5h0M153.7 226.6h0M151.7 238.9h0M167.7 220.4h0M169.4 192.6h0M149.0 246.3h0M167.0 267.5h0M147.3 251.3h0M149.8 267.5h0M146.4 263.8h0M149.9 219.0h0M158.8 225.4h0M152.8 251.3h0M145.5 260.6h0M162.4 213.3h0M148.1 238.9h0M171.3 195.7h0M182.8 228.9h0M169.5 217.1h0M148.3 239.8h0M158.0 249.5h0M149.4 235.6h0M164.5 215.8h0M155.1 217.9h0M160.4 228.4h0M159.0 222.6h0M152.4 220.2h0M152.5 232.0h0M154.1 235.6h0M159.4 243.9h0M184.0 221.8h0M155.8 236.1h0M159.6 208.6h0M205.4 200.7h0M151.9 233.8h0M159.5 246.3h0M166.0 247.9h0M153.8 232.3h0M167.9 225.7h0M176.7 195.0h0M148.7 228.4h0M158.7 233.7h0M149.6 225.1h0M182.1 227.8h0M193.2 226.4h0M183.1 227.9h0M148.5 233.6h0M152.9 224.6h0M147.9 237.9h0M162.4 247.9h0M160.1 244.9h0M191.4 198.8h0M157.3 238.0h0M155.5 232.1h0M145.6 236.1h0M156.1 226.9h0M186.0 205.1h0M151.1 227.7h0M157.9 243.5h0M172.3 236.7h0M170.1 247.9h0M147.2 243.4h0M148.7 257.9h0M148.3 239.7h0M164.6 230.3h0M174.3 195.4h0M147.6 260.6h0M149.2 224.2h0M185.7 198.9h0M202.4 166.7h0M183.3 222.8h0M171.3 212.1h0M162.0 239.7h0M149.4 247.9h0M151.4 235.3h0M155.5 222.0h0M150.9 218.6h0M157.7 240.0h0M155.0 249.5h0M150.7 238.3h0M231.7 181.5h0M150.0 230.7h0M153.1 223.8h0M148.1 241.5h0M160.0 222.1h0M156.6 204.0h0M145.6 235.9h0M150.7 251.3h0M156.8 240.8h0M165.0 229.8h0M157.4 229.0h0M164.5 216.9h0M150.8 267.5h0M154.7 249.5h0M170.5 227.5h0M160.0 249.5h0M179.2 211.4h0M183.7 194.5h0M161.8 253.3h0M155.0 241.9h0M147.1 242.5h0M150.4 238.2h0M164.0 199.4h0M163.6 233.7h0M173.5 239.8h0M166.0 209.8h0M184.9 200.5h0M147.1 255.4h0M177.4 221.7h0M152.7 255.4h0M156.0 210.6h0M145.9 205.9h0M158.7 234.7h0M158.2 247.9h0M152.0 241.9h0M154.3 218.6h0M158.7 229.1h0M151.9 243.6h0M172.1 249.5h0M159.2 260.6h0M169.0 221.9h0M156.0 242.5h0M162.2 217.0h0M171.3 228.7h0M190.0 191.9h0M149.9 253.3h0M157.1 225.4h0M163.1 222.1h0M162.5 241.1h0M151.7 251.3h0M155.5 242.5h0M160.8 200.4h0M170.5 213.8h0M170.9 224.4h0M161.9 209.5h0M147.9 251.3h0M195.1 226.9h0M153.5 251.3h0M155.1 247.9h0M154.2 215.8h0M151.2 227.2h0M168.7 216.1h0M162.1 230.6h0M180.1 209.2h0M161.4 253.3h0M162.4 192.2h0M156.1 226.5h0M163.6 212.0h0M177.2 197.2h0M145.9 244.7h0M146.4 246.3h0M159.1 249.5h0M172.4 222.5h0M168.8 255.4h0M157.8 229.7h0M147.4 263.8h0M165.3 229.4h0M146.0 210.9h0M157.1 208.7h0M155.1 263.8h0M151.4 236.6h0M166.1 219.7h0M154.9 255.4h0M150.1 211.1h0M180.2 213.2h0M163.3 237.6h0M170.3 215.0h0M146.9 236.0h0M152.6 242.1h0M181.0 208.2h0M178.4 222.1h0M147.1 218.9h0M147.5 233.7h0M165.6 221.7h0M148.2 230.0h0M164.8 229.1h0M175.2 214.8h0M151.9 233.8h0M158.3 267.5h0M196.0 191.9h0M165.1 210.9h0M161.6 218.8h0M152.4 222.2h0M182.6 232.6h0M164.3 223.8h0M148.2 244.9h0M174.8 221.8h0M165.6 247.9h0M166.0 242.0h0M147.1 244.9h0M151.5 260.6h0M180.2 220.2h0M173.2 240.0h0M161.9 222.8h0M172.4 188.6h0M176.0 210.7h0M176.5 218.4h0M153.6 263.8h0M155.4 249.5h0M167.1 214.6h0M163.1 226.3h0M164.6 260.6h0M167.6 244.7h0M152.3 233.6h0M146.5 263.8h0M187.8 196.8h0M154.9 235.3h0M155.9 255.4h0M155.1 209.8h0M169.6 230.2h0M180.3 241.2h0M176.5 223.7h0M153.0 230.8h0M190.5 187.4h0M162.2 223.7h0M155.1 240.8h0M153.7 234.5h0M147.3 267.5h0M153.6 240.6h0M150.7 229.1h0M184.7 206.4h0M164.2 217.4h0M162.7 237.5h0M160.3 222.9h0M152.9 241.3h0M194.0 224.0h0M161.7 260.6h0M167.1 267.5h0M160.4 247.9h0M150.6 249.5h0M157.8 231.9h0M153.3 253.3h0M157.7 257.9h0M188.3 204.0h0M162.6 222.4h0M160.8 223.5h0M146.0 238.9h0M149.8 253.3h0M164.3 220.9h0M154.2 230.0h0M155.7 221.8h0M185.1 215.1h0M156.6 255.4h0M169.5 206.1h0M171.9 205.6h0M160.4 234.8h0M158.2 249.5h0M149.4 227.1h0M179.9 227.0h0M168.6 233.4h0M177.9 199.4h0M159.7 230.7h0M156.7 234.8h0M146.3 257.9h0M173.5 214.4h0M159.1 230.2h0M173.3 209.4h0M150.0 237.8h0M169.7 242.8h0M157.2 226.8h0M184.5 251.3h0M395.4 122.7h0M407.8 123.5h0M397.9 149.6h0M399.0 139.9h0M422.3 131.9h0M435.0 145.3h0M397.8 141.1h0M423.1 122.1h0M406.1 109.1h0M402.8 164.7h0M363.8 136.8h0M410.6 157.9h0M393.5 148.9h0M407.4 128.4h0M432.2 124.8h0M423.4 129.7h0M422.1 141.1h0M380.0 132.2h0M342.1 176.2h0M383.9 113.0h0M396.6 153.4h0M403.9 147.6h0M443.8 149.0h0M407.5 119.3h0M446.4 126.5h0M383.3 140.7h0M359.9 125.7h0M426.9 150.3h0M358.5 162.2h0M343.2 149.9h0M378.0 154.9h0M408.7 141.6h0M434.9 135.3h0M397.4 143.3h0M428.2 129.9h0M396.4 155.8h0M341.2 139.1h0M359.3 147.6h0M339.7 166.8h0M390.0 148.6h0M325.3 157.0h0M347.8 154.2h0M368.2 137.0h0M427.5 114.4h0M415.0 180.6h0M383.5 165.7h0M403.4 149.4h0M388.0 139.0h0M490.1 127.4h0M339.4 158.5h0M326.6 186.4h0M330.2 163.5h0M347.1 120.7h0M383.9 144.2h0M427.8 112.8h0M387.5 176.6h0M386.4 170.2h0M390.2 112.7h0M401.8 155.7h0M363.7 153.3h0M416.5 97.8h0M393.2 117.3h0M403.1 125.0h0M413.5 151.2h0M414.2 134.6h0M421.7 127.7h0M365.0 159.9h0M410.7 131.3h0M341.6 175.7h0M322.9 140.6h0M381.6 142.8h0M408.2 149.3h0M410.6 117.4h0M406.4 125.6h0M423.1 114.5h0M333.9 179.5h0M375.3 152.6h0M386.3 142.7h0M366.4 170.4h0M405.1 136.3h0M413.8 135.3h0M404.5 141.2h0M397.9 165.5h0M472.8 150.1h0M396.6 131.1h0M395.0 120.1h0M435.6 151.1h0M456.1 147.2h0M363.4 146.3h0M360.6 167.0h0M440.3 144.6h0M432.6 138.4h0M423.3 154.0h0M385.9 166.6h0M417.0 122.9h0M346.8 169.5h0M355.7 136.9h0M447.5 115.4h0M352.0 133.7h0M389.3 148.3h0M416.0 157.9h0M405.3 131.5h0M357.5 151.4h0M374.5 154.8h0M414.3 106.8h0M379.7 117.5h0M450.4 147.7h0M389.8 142.7h0M456.1 152.9h0M393.8 153.0h0M436.1 126.5h0M409.2 127.8h0M396.6 124.5h0M348.4 171.1h0M413.8 129.0h0M396.8 122.1h0M406.2 167.9h0M375.7 149.1h0M362.1 200.6h0M361.2 137.1h0M390.2 162.9h0M424.6 135.8h0M382.0 145.7h0M355.9 162.0h0M365.1 146.7h0M354.4 159.8h0M337.8 175.3h0M380.1 157.5h0M370.7 169.6h0M380.6 122.9h0M457.0 134.9h0M425.0 140.7h0M442.4 155.0h0M394.2 161.7h0M402.4 136.7h0M366.3 183.5h0M333.7 165.2h0M339.8 167.6h0M381.0 152.0h0M409.6 129.2h0M469.4 115.1h0M390.9 141.3h0M341.5 161.3h0M380.7 139.4h0M410.7 145.7h0M354.1 151.4h0M377.1 127.1h0M410.6 130.8h0M397.6 162.5h0M408.5 110.3h0M396.0 116.0h0M393.3 162.1h0M440.4 139.0h0M424.8 126.1h0M402.9 121.1h0M412.3 163.3h0M392.6 116.8h0M392.7 123.0h0M408.5 128.0h0M401.8 139.9h0M481.4 154.6h0M403.6 136.0h0M409.5 148.7h0M467.8 126.0h0M364.3 206.7h0M399.5 157.1h0M438.6 105.3h0M403.2 102.2h0M394.6 162.4h0M367.8 141.0h0M396.7 155.4h0M372.1 133.0h0M431.5 145.9h0M415.3 129.5h0M386.4 149.7h0M435.3 124.1h0M361.8 175.5h0M367.0 138.3h0M421.4 131.9h0M405.6 131.9h0M357.5 146.1h0M370.9 123.9h0M388.3 122.7h0M374.4 153.1h0M403.1 138.9h0M392.4 152.4h0M412.6 144.0h0M393.8 179.9h0M408.0 151.9h0M381.4 129.7h0M409.0 114.8h0M407.7 162.0h0M419.7 119.9h0M407.7 152.7h0M382.7 148.1h0M393.8 152.4h0M439.8 113.5h0M387.1 142.8h0M398.2 150.6h0M449.3 132.7h0M417.5 120.1h0M419.1 153.9h0M366.3 133.5h0M365.7 143.4h0M405.5 140.4h0M467.4 154.8h0M335.3 168.2h0M553.0 65.3h0M549.1 75.0h0M480.6 92.7h0M503.3 91.9h0M517.8 95.8h0M520.5 95.8h0M520.9 136.5h0M520.1 182.8h0M499.0 153.4h0M454.3 182.8h0M420.6 250.1h0M379.1 242.7h0M353.3 242.7h0M344.6 254.0h0M308.2 267.8h0M286.7 278.3h0M265.1 287.0h0M167.2 301.0h0M154.3 147.5h0M148.4 155.3h0M161.3 160.0h0M151.5 165.1h0M154.3 165.9h0M177.8 155.3h0M211.1 149.5h0M232.6 140.8h0M252.2 133.8h0M411.2 196.5h0M421.8 178.8h0M363.0 219.2h0M377.5 201.2h0M145.1 272.6h0M148.1 272.6h0M153.9 272.6h0M160.2 272.6h0M166.5 272.6h0M148.1 278.9h0M152.7 278.9h0M156.4 278.9h0M167.8 278.9h0M171.1 278.9h0M145.8 287.0h0M161.5 287.0h0M163.2 287.0h0M265.4 287.0h0" stroke="#000" stroke-width="4.2" stroke-linecap="round" fill="none"/>
<text font-family="Liberation Sans, Arial, Helvetica, sans-serif" font-size="21" y="48.68" x="59.30">1</text><text font-family="Liberation Sans, Arial, Helvetica, sans-serif" font-size="18.5" y="50.38" x="70.30">×</text><text font-family="Liberation Sans, Arial, Helvetica, sans-serif" font-size="21" y="48.68" x="79.90 90.50">10</text><text font-family="Liberation Sans, Arial, Helvetica, sans-serif" font-size="13" y="41.28" x="103.49 115.08">05</text>
<text font-family="Liberation Sans, Arial, Helvetica, sans-serif" font-size="21" y="96.05" x="59.30">1</text><text font-family="Liberation Sans, Arial, Helvetica, sans-serif" font-size="18.5" y="97.75" x="70.30">×</text><text font-family="Liberation Sans, Arial, Helvetica, sans-serif" font-size="21" y="96.05" x="79.90 90.50">10</text><text font-family="Liberation Sans, Arial, Helvetica, sans-serif" font-size="13" y="88.65" x="103.49 115.08">04</text>
<text font-family="Liberation Sans, Arial, Helvetica, sans-serif" font-size="21" y="143.42" x="59.30">1</text><text font-family="Liberation Sans, Arial, Helvetica, sans-serif" font-size="18.5" y="145.12" x="70.30">×</text><text font-family="Liberation Sans, Arial, Helvetica, sans-serif" font-size="21" y="143.42" x="79.90 90.50">10</text><text font-family="Liberation Sans, Arial, Helvetica, sans-serif" font-size="13" y="136.02" x="103.49 115.08">03</text>
<text font-family="Liberation Sans, Arial, Helvetica, sans-serif" font-size="21" y="190.79" x="59.30">1</text><text font-family="Liberation Sans, Arial, Helvetica, sans-serif" font-size="18.5" y="192.49" x="70.30">×</text><text font-family="Liberation Sans, Arial, Helvetica, sans-serif" font-size="21" y="190.79" x="79.90 90.50">10</text><text font-family="Liberation Sans, Arial, Helvetica, sans-serif" font-size="13" y="183.39" x="103.49 115.08">02</text>
<text font-family="Liberation Sans, Arial, Helvetica, sans-serif" font-size="21" y="238.16" x="59.30">1</text><text font-family="Liberation Sans, Arial, Helvetica, sans-serif" font-size="18.5" y="239.86" x="70.30">×</text><text font-family="Liberation Sans, Arial, Helvetica, sans-serif" font-size="21" y="238.16" x="79.90 90.50">10</text><text font-family="Liberation Sans, Arial, Helvetica, sans-serif" font-size="13" y="230.76" x="103.49 115.08">01</text>
<text font-family="Liberation Sans, Arial, Helvetica, sans-serif" font-size="21" y="285.53" x="59.30">1</text><text font-family="Liberation Sans, Arial, Helvetica, sans-serif" font-size="18.5" y="287.23" x="70.30">×</text><text font-family="Liberation Sans, Arial, Helvetica, sans-serif" font-size="21" y="285.53" x="79.90 90.50">10</text><text font-family="Liberation Sans, Arial, Helvetica, sans-serif" font-size="13" y="278.13" x="103.49 115.08">00</text>
<text font-family="Liberation Sans, Arial, Helvetica, sans-serif" font-size="21" y="332.90" x="55.50">1</text><text font-family="Liberation Sans, Arial, Helvetica, sans-serif" font-size="18.5" y="334.60" x="66.50">×</text><text font-family="Liberation Sans, Arial, Helvetica, sans-serif" font-size="21" y="332.90" x="76.10 86.70">10</text><text font-family="Liberation Sans, Arial, Helvetica, sans-serif" font-size="13" y="325.50" x="100.40 107.10 117.80">-01</text>
<text font-family="Liberation Sans, Arial, Helvetica, sans-serif" font-size="21" y="355.00" x="141.90">1</text><text font-family="Liberation Sans, Arial, Helvetica, sans-serif" font-size="18.5" y="356.70" x="152.90">×</text><text font-family="Liberation Sans, Arial, Helvetica, sans-serif" font-size="21" y="355.00" x="162.50 173.10">10</text><text font-family="Liberation Sans, Arial, Helvetica, sans-serif" font-size="13" y="347.60" x="186.09 197.68">02</text>
<text font-family="Liberation Sans, Arial, Helvetica, sans-serif" font-size="21" y="355.00" x="270.60">1</text><text font-family="Liberation Sans, Arial, Helvetica, sans-serif" font-size="18.5" y="356.70" x="281.60">×</text><text font-family="Liberation Sans, Arial, Helvetica, sans-serif" font-size="21" y="355.00" x="291.20 301.80">10</text><text font-family="Liberation Sans, Arial, Helvetica, sans-serif" font-size="13" y="347.60" x="314.79 326.38">03</text>
<text font-family="Liberation Sans, Arial, Helvetica, sans-serif" font-size="21" y="355.00" x="399.30">1</text><text font-family="Liberation Sans, Arial, Helvetica, sans-serif" font-size="18.5" y="356.70" x="410.30">×</text><text font-family="Liberation Sans, Arial, Helvetica, sans-serif" font-size="21" y="355.00" x="419.90 430.50">10</text><text font-family="Liberation Sans, Arial, Helvetica, sans-serif" font-size="13" y="347.60" x="443.49 455.08">04</text>
<text font-family="Liberation Sans, Arial, Helvetica, sans-serif" font-size="21" y="355.00" x="528.00">1</text><text font-family="Liberation Sans, Arial, Helvetica, sans-serif" font-size="18.5" y="356.70" x="539.00">×</text><text font-family="Liberation Sans, Arial, Helvetica, sans-serif" font-size="21" y="355.00" x="548.60 559.20">10</text><text font-family="Liberation Sans, Arial, Helvetica, sans-serif" font-size="13" y="347.60" x="572.19 583.78">05</text>
<text font-family="Liberation Sans, Arial, Helvetica, sans-serif" font-size="43.8" font-weight="bold" x="-0.2" y="36.6">A</text>
<text font-family="Liberation Sans, Arial, Helvetica, sans-serif" font-size="23.5" x="155.50" y="75.00">r</text><text font-family="Liberation Sans, Arial, Helvetica, sans-serif" font-size="16.8" x="164.50" y="80.30">s</text><text font-family="Liberation Sans, Arial, Helvetica, sans-serif" font-size="23.5" x="174.50" y="75.00">=0.78</text>
<text font-family="Liberation Sans, Arial, Helvetica, sans-serif" font-size="22.3" transform="translate(40.9,179.6) scale(1.03,1) rotate(-90)" text-anchor="middle">RNA-seq (counts)</text>
<text font-family="Liberation Sans, Arial, Helvetica, sans-serif" font-size="24" x="237.2" y="384.3" textLength="222.6" lengthAdjust="spacing">Microarray (intensity)</text>
<path d="M744.30 40.50V324.60M735.80 324.60H1171.00" stroke="#111" stroke-width="1.7" fill="none"/>
<path d="M735.80 324.60H744.30M735.80 277.30H744.30M735.80 230.00H744.30M735.80 182.70H744.30M735.80 135.40H744.30M735.80 88.10H744.30M735.80 40.80H744.30M783.20 324.60V333.30M912.20 324.60V333.30M1041.20 324.60V333.30M1170.20 324.60V333.30" stroke="#111" stroke-width="1.5" fill="none"/>
<path d="M739.10 310.36H744.30M739.10 302.03H744.30M739.10 296.12H744.30M739.10 291.54H744.30M739.10 287.79H744.30M739.10 284.63H744.30M739.10 281.88H744.30M739.10 279.46H744.30M739.10 263.06H744.30M739.10 254.73H744.30M739.10 248.82H744.30M739.10 244.24H744.30M739.10 240.49H744.30M739.10 237.33H744.30M739.10 234.58H744.30M739.10 232.16H744.30M739.10 215.76H744.30M739.10 207.43H744.30M739.10 201.52H744.30M739.10 196.94H744.30M739.10 193.19H744.30M739.10 190.03H744.30M739.10 187.28H744.30M739.10 184.86H744.30M739.10 168.46H744.30M739.10 160.13H744.30M739.10 154.22H744.30M739.10 149.64H744.30M739.10 145.89H744.30M739.10 142.73H744.30M739.10 139.98H744.30M739.10 137.56H744.30M739.10 121.16H744.30M739.10 112.83H744.30M739.10 106.92H744.30M739.10 102.34H744.30M739.10 98.59H744.30M739.10 95.43H744.30M739.10 92.68H744.30M739.10 90.26H744.30M739.10 73.86H744.30M739.10 65.53H744.30M739.10 59.62H744.30M739.10 55.04H744.30M739.10 51.29H744.30M739.10 48.13H744.30M739.10 45.38H744.30M739.10 42.96H744.30M754.58 324.60V329.80M763.22 324.60V329.80M770.70 324.60V329.80M777.30 324.60V329.80M822.03 324.60V329.80M844.75 324.60V329.80M860.87 324.60V329.80M873.37 324.60V329.80M883.58 324.60V329.80M892.22 324.60V329.80M899.70 324.60V329.80M906.30 324.60V329.80M951.03 324.60V329.80M973.75 324.60V329.80M989.87 324.60V329.80M1002.37 324.60V329.80M1012.58 324.60V329.80M1021.22 324.60V329.80M1028.70 324.60V329.80M1035.30 324.60V329.80M1080.03 324.60V329.80M1102.75 324.60V329.80M1118.87 324.60V329.80M1131.37 324.60V329.80M1141.58 324.60V329.80M1150.22 324.60V329.80M1157.70 324.60V329.80M1164.30 324.60V329.80" stroke="#111" stroke-width="1.3" fill="none"/>
<path d="M910.7 162.1h0M867.7 190.3h0M901.4 162.5h0M940.1 188.0h0M933.2 165.2h0M891.6 211.0h0M852.7 158.9h0M837.7 177.5h0M830.6 205.5h0M852.7 181.2h0M853.4 193.9h0M835.9 189.3h0M804.1 215.0h0M977.2 144.1h0M868.5 181.7h0M818.2 214.5h0M846.0 214.6h0M1056.4 146.2h0M912.0 174.3h0M837.4 194.0h0M950.3 141.0h0M891.7 169.5h0M1036.9 144.4h0M811.4 213.8h0M951.4 125.0h0M847.9 198.9h0M794.7 204.3h0M791.9 193.3h0M838.8 172.9h0M878.8 160.6h0M866.1 142.0h0M864.8 173.3h0M964.9 152.7h0M1085.1 130.8h0M837.8 194.6h0M905.5 177.2h0M837.2 214.1h0M845.7 212.3h0M904.6 196.8h0M857.3 195.5h0M960.6 149.7h0M1011.0 137.4h0M1009.6 148.5h0M931.2 187.0h0M798.6 212.2h0M844.5 198.0h0M828.5 219.3h0M843.8 191.6h0M827.9 225.7h0M952.2 149.7h0M873.1 195.0h0M839.9 198.9h0M840.4 219.7h0M800.5 192.8h0M848.0 217.4h0M883.4 184.5h0M902.9 182.7h0M837.6 205.1h0M1028.0 119.4h0M835.4 192.6h0M979.9 136.8h0M940.9 171.1h0M916.6 152.2h0M933.6 166.2h0M880.6 182.8h0M869.9 204.2h0M962.2 173.3h0M807.3 178.9h0M891.6 197.5h0M803.8 203.9h0M875.5 151.9h0M846.5 193.4h0M882.6 201.2h0M846.8 174.5h0M896.7 181.2h0M898.1 194.9h0M979.2 138.8h0M868.7 183.1h0M812.7 197.0h0M796.7 225.3h0M804.8 178.7h0M879.1 175.1h0M785.1 198.4h0M936.3 147.2h0M986.8 126.3h0M841.3 204.0h0M942.6 147.6h0M889.3 186.3h0M828.5 182.4h0M931.7 155.2h0M851.6 211.7h0M936.9 145.2h0M857.6 178.3h0M881.0 163.1h0M841.4 171.3h0M788.0 224.9h0M791.6 221.4h0M846.3 167.5h0M825.8 227.0h0M918.1 161.8h0M818.3 184.0h0M879.5 155.0h0M861.3 221.2h0M867.8 180.0h0M822.3 180.0h0M868.0 155.4h0M969.6 139.0h0M885.7 186.0h0M949.6 172.8h0M891.0 184.6h0M961.0 137.7h0M921.6 184.3h0M934.6 193.6h0M844.5 209.9h0M847.4 185.5h0M813.1 211.4h0M835.5 174.2h0M897.2 176.6h0M889.1 186.3h0M1018.1 158.3h0M951.5 133.6h0M1103.9 118.7h0M960.6 158.4h0M857.0 187.8h0M870.5 173.7h0M923.6 156.1h0M811.8 205.3h0M824.2 201.7h0M783.0 228.8h0M899.8 160.9h0M893.9 176.4h0M935.6 156.7h0M916.7 173.8h0M809.5 189.6h0M837.5 187.6h0M996.0 139.3h0M999.1 130.4h0M867.6 178.1h0M835.0 198.9h0M988.8 151.8h0M805.8 208.6h0M933.3 156.5h0M820.5 201.5h0M985.0 163.4h0M879.4 183.6h0M848.9 205.1h0M821.7 208.6h0M1070.8 139.4h0M915.4 143.9h0M944.6 123.1h0M922.8 144.1h0M842.0 167.5h0M770.0 228.7h0M826.1 173.7h0M866.0 213.8h0M842.9 238.5h0M884.0 184.7h0M829.9 211.3h0M888.8 166.0h0M862.3 186.0h0M878.9 181.0h0M844.4 199.9h0M1015.2 139.8h0M828.6 198.7h0M776.1 237.1h0M873.7 158.8h0M827.4 174.1h0M894.0 168.8h0M897.4 179.9h0M864.1 197.9h0M813.9 211.6h0M879.9 190.2h0M834.0 177.9h0M832.8 208.3h0M929.8 151.4h0M912.5 179.8h0M885.6 188.1h0M785.6 224.9h0M876.7 189.1h0M932.5 155.7h0M821.7 207.7h0M875.5 184.0h0M805.1 185.3h0M916.6 166.4h0M806.9 182.1h0M853.0 203.8h0M977.5 165.6h0M810.1 203.0h0M949.4 148.5h0M829.6 170.9h0M876.8 176.6h0M799.2 220.8h0M913.5 154.2h0M897.3 192.4h0M901.8 190.3h0M919.0 162.9h0M816.2 204.2h0M871.2 185.6h0M783.0 228.7h0M932.6 172.0h0M840.5 205.5h0M792.8 195.7h0M869.6 179.9h0M942.4 146.1h0M809.3 176.8h0M894.6 198.2h0M820.7 201.6h0M889.4 181.7h0M934.9 158.3h0M971.0 139.8h0M923.3 177.1h0M926.2 160.2h0M1112.6 124.8h0M999.8 164.4h0M1004.5 156.9h0M906.1 192.0h0M807.2 236.3h0M902.0 162.0h0M856.3 185.4h0M850.9 205.1h0M969.7 119.9h0M913.0 181.5h0M846.5 198.0h0M888.5 181.8h0M866.2 198.0h0M913.1 188.4h0M820.3 181.9h0M1033.6 145.4h0M896.8 178.0h0M927.1 160.8h0M880.2 194.0h0M793.7 212.9h0M1021.1 135.1h0M834.1 178.1h0M888.7 144.8h0M912.6 187.1h0M876.6 184.8h0M849.5 180.2h0M916.6 165.1h0M803.4 237.2h0M905.9 154.2h0M915.6 157.9h0M840.3 195.0h0M887.7 157.8h0M954.5 131.7h0M886.6 186.3h0M825.3 193.0h0M943.3 178.0h0M765.1 250.6h0M860.6 208.2h0M836.3 203.7h0M847.7 216.6h0M812.4 176.2h0M835.7 167.0h0M847.6 199.5h0M946.4 162.5h0M936.4 173.0h0M799.5 223.3h0M851.7 208.2h0M943.3 140.6h0M834.2 202.9h0M950.7 143.8h0M794.3 205.9h0M812.1 196.3h0M837.2 188.5h0M871.8 204.4h0M785.7 187.5h0M922.4 157.5h0M941.8 143.5h0M937.1 148.1h0M829.3 163.5h0M1007.1 142.5h0M942.1 191.7h0M912.8 189.5h0M968.8 155.8h0M832.1 192.4h0M879.6 169.3h0M906.5 158.1h0M957.6 148.0h0M884.6 201.3h0M884.9 170.0h0M923.0 172.2h0M969.1 152.7h0M801.0 226.6h0M912.7 182.4h0M806.1 198.1h0M952.6 160.0h0M877.3 213.0h0M1010.2 151.1h0M822.2 183.7h0M916.4 187.5h0M836.4 219.7h0M945.0 174.0h0M933.8 143.0h0M818.8 218.8h0M869.6 204.1h0M793.0 197.5h0M840.8 180.9h0M985.9 155.0h0M906.1 163.7h0M810.3 208.2h0M849.0 178.9h0M821.4 210.5h0M870.8 190.2h0M955.3 152.9h0M862.1 185.5h0M920.0 167.2h0M819.0 186.9h0M855.9 170.7h0M826.2 211.2h0M824.7 181.8h0M800.3 202.8h0M827.4 205.5h0M901.1 167.3h0M781.3 254.7h0M932.6 159.1h0M949.9 147.0h0M925.5 164.7h0M951.2 138.5h0M820.9 230.7h0M820.7 199.8h0M853.7 189.1h0M866.9 190.7h0M802.6 227.7h0M904.2 169.2h0M921.3 163.2h0M966.9 143.3h0M796.3 177.3h0M816.4 197.3h0M828.8 221.5h0M1042.8 163.2h0M937.2 229.4h0M983.0 150.7h0M934.8 174.9h0M916.1 174.3h0M860.5 178.0h0M803.3 207.4h0M838.4 205.8h0M925.2 166.7h0M859.0 179.7h0M948.0 136.1h0M1005.3 123.7h0M979.0 144.5h0M909.0 164.2h0M861.0 176.0h0M966.6 130.4h0M811.5 187.8h0M874.6 178.4h0M832.7 201.4h0M915.8 161.2h0M829.4 175.6h0M946.3 128.1h0M898.5 164.8h0M898.7 174.7h0M863.6 176.9h0M912.2 182.0h0M808.3 209.0h0M801.0 220.2h0M883.9 207.5h0M822.1 207.0h0M858.2 190.8h0M808.5 200.7h0M840.6 190.3h0M883.7 176.8h0M933.5 179.3h0M822.9 198.9h0M876.9 230.3h0M983.2 120.6h0M924.6 159.1h0M836.0 210.0h0M907.0 161.7h0M831.7 222.9h0M897.1 165.9h0M864.5 197.4h0M827.2 191.0h0M911.3 172.5h0M870.3 181.3h0M830.4 203.3h0M803.7 200.3h0M851.8 199.5h0M1011.1 126.3h0M934.3 142.3h0M906.3 163.0h0M807.1 191.1h0M812.8 173.9h0M951.7 175.2h0M808.9 228.9h0M809.1 207.2h0M881.4 186.7h0M923.2 158.2h0M844.9 189.4h0M962.9 163.3h0M842.5 214.1h0M808.5 271.4h0M812.6 188.2h0M853.6 210.6h0M914.8 164.0h0M824.9 175.0h0M860.7 177.4h0M897.2 163.1h0M908.9 166.1h0M800.1 223.6h0M898.7 178.1h0M866.8 196.2h0M828.6 252.6h0M914.0 170.5h0M801.8 214.5h0M887.8 166.3h0M839.4 196.2h0M842.0 248.8h0M822.5 230.7h0M840.4 185.0h0M844.9 198.9h0M883.2 176.5h0M824.2 194.7h0M809.2 214.4h0M889.8 191.1h0M871.4 200.5h0M840.4 190.3h0M826.7 207.8h0M1080.6 117.3h0M853.9 202.9h0M819.2 188.1h0M871.6 195.1h0M862.4 179.5h0M921.1 145.0h0M923.5 221.2h0M845.5 230.6h0M906.5 154.9h0M925.8 146.7h0M871.2 196.6h0M938.3 159.8h0M771.3 233.1h0M834.2 169.0h0M875.4 187.4h0M947.4 143.2h0M820.5 226.7h0M804.0 173.6h0M844.4 197.3h0M1010.1 138.2h0M858.6 175.6h0M780.4 196.4h0M829.2 192.6h0M800.5 233.6h0M853.6 208.5h0M832.2 210.0h0M980.0 131.1h0M833.2 217.7h0M814.0 183.2h0M900.1 183.5h0M956.9 129.1h0M979.6 134.3h0M825.5 205.9h0M887.1 175.5h0M1017.6 117.9h0M883.0 183.5h0M827.6 161.5h0M969.3 116.1h0M811.7 216.8h0M901.8 207.4h0M907.5 143.4h0M951.9 165.0h0M944.3 168.5h0M790.3 245.7h0M840.0 191.6h0M810.1 192.5h0M893.0 180.1h0M806.3 187.4h0M916.8 153.6h0M993.5 161.6h0M913.5 178.5h0M866.7 181.2h0M847.4 202.3h0M818.3 180.9h0M833.7 161.0h0M861.8 209.4h0M897.5 140.0h0M788.0 213.1h0M877.8 174.6h0M884.0 144.4h0M981.7 139.2h0M833.8 187.8h0M843.6 192.5h0M877.9 173.2h0M856.0 190.7h0M888.3 138.4h0M938.9 147.2h0M1035.6 131.6h0M872.6 181.7h0M962.9 164.6h0M848.6 184.2h0M857.9 173.2h0M769.5 223.4h0M818.5 190.0h0M869.3 217.2h0M875.2 198.4h0M972.9 136.6h0M890.1 189.0h0M877.8 183.1h0M809.9 195.6h0M949.5 167.3h0M866.1 188.8h0M779.8 254.7h0M985.2 168.3h0M941.9 153.5h0M772.7 252.6h0M873.3 192.2h0M842.7 206.2h0M923.6 174.7h0M839.3 186.4h0M927.6 171.7h0M804.2 216.4h0M767.0 243.0h0M887.0 149.2h0M867.7 201.6h0M928.2 160.8h0M806.3 195.4h0M886.3 156.1h0M816.0 199.7h0M875.8 195.6h0M821.4 234.7h0M879.4 194.4h0M1003.1 149.2h0M868.6 213.6h0M843.9 217.5h0M767.2 220.7h0M856.7 172.2h0M900.7 181.4h0M874.2 164.7h0M832.1 172.8h0M783.9 200.3h0M793.3 194.9h0M830.7 190.5h0M1002.1 146.7h0M843.4 191.7h0M874.2 186.8h0M959.1 140.4h0M871.7 164.5h0M939.9 153.7h0M868.9 193.0h0M895.6 180.5h0M817.5 208.0h0M801.4 214.0h0M1022.4 103.0h0M894.0 194.5h0M930.1 162.8h0M811.0 229.9h0M900.5 175.8h0M915.6 185.5h0M923.0 138.4h0M838.3 178.4h0M811.1 205.5h0M1016.5 134.0h0M797.0 202.4h0M852.4 186.9h0M891.0 191.3h0M835.9 202.0h0M863.4 185.7h0M862.9 185.6h0M900.5 169.9h0M886.8 201.4h0M968.5 133.9h0M1013.0 132.1h0M935.3 148.5h0M817.2 222.9h0M908.9 174.6h0M910.9 139.7h0M858.2 198.6h0M848.3 201.0h0M788.7 227.0h0M967.6 159.1h0M906.3 197.3h0M879.8 195.3h0M871.8 220.0h0M914.0 189.7h0M967.2 137.4h0M849.8 213.6h0M797.0 214.2h0M808.1 202.8h0M976.7 148.6h0M873.7 178.1h0M868.1 175.9h0M902.3 159.6h0M833.1 156.7h0M924.8 166.7h0M790.3 235.9h0M782.5 212.1h0M780.4 229.3h0M790.4 234.9h0M952.5 152.9h0M889.6 181.9h0M928.2 177.4h0M810.7 209.2h0M793.7 230.6h0M893.5 218.9h0M896.1 183.1h0M1090.1 128.5h0M900.5 183.5h0M875.6 173.6h0M851.0 186.7h0M878.8 180.3h0M968.3 155.6h0M983.9 152.3h0M819.1 230.2h0M832.7 186.7h0M875.1 209.2h0M963.9 181.8h0M845.9 213.0h0M867.0 153.8h0M970.7 142.8h0M928.3 154.3h0M897.5 181.5h0M864.8 197.5h0M948.4 171.6h0M893.7 187.5h0M926.9 161.8h0M789.0 206.6h0M832.3 168.0h0M808.0 234.7h0M971.3 148.4h0M799.8 225.8h0M856.5 178.8h0M867.3 178.9h0M802.4 206.7h0M775.3 236.8h0M923.2 183.5h0M868.0 161.5h0M802.3 220.6h0M902.8 173.8h0M815.9 194.8h0M940.3 132.7h0M997.0 110.1h0M793.8 215.0h0M881.3 168.1h0M906.3 166.9h0M914.2 166.0h0M840.8 196.2h0M976.3 156.1h0M895.7 178.6h0M859.3 163.5h0M875.4 156.1h0M939.5 148.6h0M881.5 217.2h0M919.1 155.0h0M820.3 210.1h0M817.0 204.8h0M828.8 201.5h0M779.4 257.2h0M968.8 140.3h0M803.1 216.5h0M1063.6 138.1h0M936.6 140.9h0M837.8 184.8h0M883.3 191.7h0M837.7 188.0h0M827.7 216.4h0M838.4 210.0h0M801.5 185.4h0M1022.1 165.1h0M843.7 188.5h0M841.0 155.1h0M888.0 172.1h0M926.9 169.9h0M930.8 166.5h0M946.3 143.8h0M964.1 160.3h0M919.1 160.1h0M883.0 160.6h0M918.2 157.5h0M868.9 185.4h0M850.1 188.7h0M770.4 225.1h0M843.1 184.2h0M968.1 150.6h0M810.1 181.4h0M798.3 223.5h0M866.2 178.2h0M949.0 156.9h0M899.7 146.7h0M896.9 181.5h0M1078.2 131.3h0M861.9 194.4h0M907.1 178.7h0M905.6 195.8h0M858.7 182.4h0M1044.5 126.1h0M846.3 240.9h0M861.4 194.0h0M931.8 172.2h0M847.6 202.7h0M857.9 200.7h0M820.0 188.7h0M946.7 135.8h0M993.3 142.1h0M846.7 191.9h0M826.0 232.8h0M958.3 140.9h0M868.1 175.4h0M1015.9 165.6h0M871.1 178.8h0M799.8 218.5h0M814.8 226.4h0M850.6 174.1h0M870.9 174.3h0M897.8 197.9h0M914.6 183.5h0M879.9 192.8h0M982.3 128.4h0M798.0 235.3h0M849.9 173.7h0M832.1 197.3h0M906.4 158.3h0M812.0 214.0h0M921.7 172.9h0M985.3 143.0h0M1000.9 132.3h0M947.8 147.2h0M904.8 167.6h0M868.6 196.1h0M834.0 202.2h0M820.2 183.3h0M838.1 185.6h0M897.4 197.4h0M820.8 185.4h0M859.5 209.0h0M889.9 193.4h0M872.3 190.5h0M846.9 167.2h0M846.1 185.7h0M841.9 194.4h0M879.3 194.9h0M946.1 150.9h0M889.4 157.0h0M894.7 168.5h0M863.8 176.7h0M838.8 162.9h0M818.7 176.4h0M912.2 164.7h0M896.6 198.5h0M865.6 199.5h0M916.4 230.9h0M949.5 167.8h0M878.6 176.2h0M1014.4 168.8h0M957.3 159.8h0M900.2 173.0h0M938.9 155.7h0M904.2 181.1h0M953.8 137.4h0M990.0 129.4h0M984.6 126.6h0M839.1 195.7h0M835.7 201.7h0M775.6 217.0h0M828.9 218.0h0M928.3 147.0h0M960.9 130.3h0M867.4 177.3h0M973.4 183.5h0M855.3 185.5h0M846.7 190.5h0M854.8 183.0h0M986.5 129.8h0M839.4 183.9h0M793.2 235.3h0M811.0 185.6h0M805.9 216.7h0M840.6 165.3h0M895.9 187.9h0M852.4 199.9h0M830.2 183.4h0M853.0 216.7h0M894.3 189.8h0M862.0 186.8h0M909.7 184.0h0M889.5 184.3h0M912.4 192.0h0M832.2 188.4h0M863.2 210.0h0M845.0 195.3h0M849.5 183.5h0M817.7 204.6h0M963.3 152.6h0M923.2 163.7h0M952.5 136.6h0M943.3 164.2h0M809.2 209.7h0M943.9 168.1h0M856.5 173.1h0M778.6 215.8h0M867.6 185.0h0M908.5 169.2h0M935.7 149.1h0M891.4 212.0h0M987.7 128.3h0M974.3 124.8h0M861.3 183.0h0M838.3 194.5h0M885.5 161.7h0M889.0 153.9h0M853.8 159.2h0M864.2 184.0h0M823.0 198.9h0M794.5 211.1h0M846.2 187.1h0M904.2 197.2h0M871.6 195.4h0M842.2 187.2h0M857.7 166.5h0M1025.0 139.2h0M898.2 189.2h0M1008.9 132.7h0M996.7 117.7h0M867.9 196.1h0M922.4 172.2h0M880.4 225.0h0M835.5 217.0h0M851.1 191.3h0M866.5 217.9h0M902.3 167.1h0M894.2 192.3h0M847.7 169.8h0M792.4 219.5h0M831.0 193.1h0M870.5 194.1h0M927.1 157.0h0M838.5 194.7h0M801.9 201.1h0M918.7 145.3h0M951.2 142.0h0M839.9 167.5h0M821.4 183.0h0M909.0 190.3h0M991.3 136.2h0M878.9 166.4h0M938.3 148.3h0M845.2 172.6h0M822.6 231.2h0M938.7 155.1h0M898.2 142.9h0M830.4 222.4h0M932.0 155.9h0M927.2 130.9h0M821.2 205.6h0M870.6 192.0h0M810.2 169.1h0M863.6 184.7h0M778.0 243.9h0M861.4 145.3h0M800.4 216.8h0M857.2 192.8h0M774.2 211.7h0M845.2 197.3h0M920.1 160.0h0M855.7 166.1h0M795.5 191.3h0M990.8 143.9h0M940.8 153.6h0M940.8 154.8h0M879.0 184.0h0M927.8 179.8h0M898.9 193.8h0M832.5 224.7h0M873.2 159.4h0M811.5 194.1h0M948.1 196.0h0M822.5 212.5h0M841.2 164.6h0M932.0 162.8h0M880.1 161.6h0M826.7 220.2h0M1022.0 151.2h0M827.4 201.3h0M801.0 193.1h0M881.9 174.0h0M849.4 197.4h0M1000.2 149.2h0M797.9 197.7h0M949.3 137.9h0M908.7 189.0h0M856.4 206.8h0M899.4 159.9h0M890.2 170.4h0M860.7 179.4h0M801.9 206.3h0M805.9 221.5h0M1044.5 127.3h0M999.7 152.7h0M886.3 220.2h0M839.2 217.3h0M844.2 195.2h0M906.0 146.4h0M825.4 192.7h0M869.5 193.8h0M851.4 146.8h0M847.6 192.4h0M1013.6 140.6h0M870.4 204.2h0M882.0 150.1h0M1002.8 151.5h0M855.1 187.5h0M860.9 209.5h0M846.1 203.0h0M863.2 188.0h0M789.8 207.5h0M927.4 163.1h0M924.1 141.0h0M911.5 175.5h0M875.3 215.5h0M973.8 160.0h0M793.0 201.7h0M931.8 155.3h0M903.3 146.7h0M898.3 192.8h0M1017.1 143.0h0M816.9 191.8h0M868.9 185.3h0M994.0 144.0h0M1089.8 124.0h0M902.9 212.6h0M1091.7 119.5h0M800.1 202.0h0M842.6 196.4h0M821.4 216.2h0M822.8 200.9h0M969.4 145.3h0M857.2 184.2h0M921.3 176.3h0M831.4 181.4h0M920.3 169.9h0M853.1 190.5h0M867.3 166.5h0M1027.2 130.1h0M830.8 208.9h0M867.4 192.4h0M839.0 199.0h0M795.6 195.8h0M800.7 210.9h0M903.8 202.0h0M884.1 181.6h0M883.2 184.0h0M875.7 174.2h0M829.0 209.7h0M948.8 155.8h0M900.3 163.5h0M870.6 198.3h0M832.1 205.0h0M802.1 190.3h0M824.3 193.0h0M867.8 191.2h0M826.5 187.0h0M877.2 184.9h0M841.6 211.1h0M876.5 171.7h0M863.1 209.6h0M1035.7 98.5h0M898.8 150.1h0M890.0 187.3h0M829.3 176.2h0M841.1 193.2h0M1036.8 140.8h0M825.8 187.6h0M997.0 164.3h0M986.6 155.9h0M871.7 188.2h0M876.2 205.6h0M845.2 225.8h0M810.8 191.0h0M863.7 162.4h0M835.1 201.0h0M963.1 152.0h0M797.1 216.2h0M817.2 178.2h0M786.5 194.0h0M918.0 189.1h0M864.9 179.9h0M841.8 206.8h0M814.9 203.4h0M819.5 205.0h0M860.4 204.2h0M908.9 151.7h0M910.4 163.7h0M827.0 230.8h0M857.5 212.9h0M864.3 180.1h0M895.5 181.9h0M936.0 154.3h0M947.1 152.3h0M939.1 156.3h0M850.4 179.0h0M887.4 171.6h0M934.1 152.8h0M961.1 160.3h0M977.5 136.5h0M866.1 195.2h0M862.6 166.0h0M1043.0 129.8h0M864.6 175.0h0M772.7 233.4h0M781.8 230.1h0M992.8 123.0h0M811.4 194.0h0M777.5 215.1h0M887.7 167.7h0M842.9 190.9h0M843.2 185.2h0M846.3 195.6h0M775.6 207.8h0M898.5 204.3h0M915.8 157.0h0M824.9 182.0h0M893.2 178.9h0M841.5 198.6h0M776.3 235.7h0M1018.9 124.2h0M915.0 144.6h0M829.4 200.0h0M917.1 179.6h0M1025.0 130.2h0M881.1 175.7h0M819.8 216.7h0M845.9 198.5h0M927.0 148.8h0M848.1 201.8h0M1041.5 150.8h0M899.7 151.8h0M1085.9 137.0h0M838.2 201.8h0M885.4 218.1h0M879.3 173.1h0M904.5 187.7h0M887.6 223.0h0M821.4 209.7h0M850.0 194.8h0M873.9 158.5h0M943.6 128.0h0M813.2 227.3h0M1028.1 145.9h0M1027.7 120.5h0M878.7 192.2h0M913.2 176.2h0M993.3 144.8h0M871.9 184.5h0M912.4 166.8h0M935.7 151.9h0M918.7 165.2h0M835.2 204.6h0M820.5 197.7h0M946.2 137.5h0M990.9 141.2h0M804.6 203.5h0M868.8 172.1h0M842.7 243.8h0M806.5 196.2h0M924.0 164.2h0M828.6 175.6h0M915.6 159.3h0M920.2 152.6h0M886.3 167.4h0M869.4 153.9h0M874.8 188.0h0M874.1 195.0h0M776.7 223.9h0M825.6 214.8h0M845.2 182.1h0M802.6 194.2h0M857.8 194.8h0M989.1 109.0h0M857.1 163.1h0M829.6 225.0h0M895.8 184.6h0M878.5 188.2h0M844.9 203.6h0M925.4 162.8h0M837.3 174.5h0M792.2 206.5h0M805.9 209.6h0M861.7 181.7h0M839.5 199.0h0M794.7 196.7h0M912.9 198.5h0M842.1 181.0h0M847.9 199.7h0M815.2 215.8h0M832.3 239.4h0M958.6 133.1h0M938.5 159.3h0M923.6 201.0h0M959.2 156.1h0M895.1 172.4h0M931.2 170.9h0M878.5 188.8h0M856.8 169.2h0M868.3 165.0h0M851.3 211.2h0M839.2 192.4h0M877.1 167.1h0M832.5 169.9h0M841.3 190.0h0M873.0 195.1h0M782.5 229.6h0M795.1 214.7h0M861.3 203.7h0M980.2 140.5h0M970.9 143.7h0M861.3 175.7h0M846.9 184.5h0M1043.5 139.1h0M870.5 185.6h0M856.6 186.2h0M1031.4 134.3h0M885.4 205.3h0M1054.7 120.6h0M855.7 225.1h0M930.9 175.7h0M922.7 154.4h0M861.5 190.7h0M848.0 186.8h0M941.1 171.9h0M909.3 174.2h0M861.0 186.5h0M876.9 190.1h0M1004.7 116.0h0M899.9 169.0h0M810.6 203.5h0M1040.4 111.5h0M1025.2 154.4h0M855.1 201.6h0M949.6 168.3h0M883.2 186.9h0M841.2 188.9h0M825.8 186.9h0M913.1 138.6h0M868.7 169.9h0M896.8 168.1h0M854.4 220.5h0M873.0 176.7h0M845.0 226.8h0M827.2 200.5h0M867.6 196.9h0M844.1 185.6h0M857.8 177.8h0M851.8 193.5h0M826.2 190.9h0M981.8 136.5h0M796.0 208.6h0M884.2 194.6h0M891.6 181.3h0M801.7 222.7h0M798.7 217.0h0M909.3 182.3h0M768.9 245.7h0M874.2 184.5h0M839.3 186.9h0M947.3 187.8h0M877.0 197.8h0M786.7 213.2h0M973.4 133.2h0M933.3 149.0h0M879.4 181.5h0M837.8 198.1h0M818.3 190.3h0M845.0 187.9h0M962.9 156.6h0M860.5 186.3h0M814.0 211.9h0M999.7 128.9h0M846.2 180.3h0M937.4 160.2h0M840.1 206.8h0M827.0 184.8h0M852.9 186.8h0M830.1 216.2h0M767.5 221.9h0M887.5 139.8h0M819.4 186.8h0M887.3 150.2h0M835.3 188.5h0M817.5 181.0h0M948.2 178.9h0M952.0 135.7h0M904.5 156.1h0M942.5 155.6h0M853.7 198.9h0M808.8 197.5h0M886.3 173.4h0M878.1 197.2h0M810.0 191.9h0M892.0 159.9h0M887.3 198.5h0M797.1 227.6h0M858.6 182.4h0M906.4 151.8h0M898.8 186.5h0M835.7 206.0h0M861.4 158.9h0M923.1 158.8h0M877.1 146.7h0M990.5 136.5h0M920.7 160.2h0M898.1 174.4h0M862.0 203.8h0M897.6 185.7h0M859.7 187.2h0M855.9 209.1h0M848.5 184.4h0M797.2 217.6h0M792.4 206.8h0M843.7 177.1h0M872.9 168.1h0M844.6 228.0h0M824.5 203.2h0M967.8 146.1h0M906.8 165.1h0M896.2 171.3h0M1007.5 136.0h0M945.6 176.1h0M807.4 201.2h0M827.3 196.2h0M786.9 211.7h0M931.0 174.2h0M857.8 165.8h0M917.1 180.5h0M857.1 180.0h0M875.7 209.6h0M898.7 177.4h0M924.8 168.6h0M921.8 167.6h0M856.0 184.4h0M768.4 218.9h0M927.8 155.4h0M977.2 127.9h0M853.6 175.6h0M804.6 207.9h0M866.1 198.4h0M883.9 170.0h0M841.5 223.8h0M961.1 138.8h0M924.0 142.4h0M984.8 122.4h0M987.2 140.9h0M815.1 217.4h0M995.6 146.7h0M871.8 177.4h0M944.8 177.6h0M1019.6 155.4h0M1078.9 134.4h0M811.5 197.8h0M870.7 180.5h0M988.2 133.8h0M813.0 209.6h0M934.6 196.3h0M801.5 209.4h0M891.7 188.5h0M815.4 206.2h0M840.9 205.8h0M1083.5 105.7h0M884.2 145.9h0M1012.8 137.2h0M849.2 177.3h0M777.8 247.2h0M833.5 189.9h0M1056.1 136.6h0M861.0 193.3h0M787.7 222.3h0M954.3 159.1h0M807.5 175.1h0M1033.0 135.2h0M872.0 197.7h0M847.0 182.0h0M910.4 144.4h0M888.5 179.5h0M858.8 178.6h0M831.6 213.8h0M866.5 190.4h0M897.8 165.6h0M853.3 176.8h0M794.8 199.0h0M948.3 144.0h0M848.4 197.9h0M813.1 200.6h0M852.7 173.0h0M932.6 162.2h0M964.9 141.9h0M832.4 194.0h0M940.9 138.8h0M902.8 186.4h0M976.1 155.8h0M911.3 177.8h0M1072.1 126.8h0M915.6 144.8h0M761.0 271.4h0M869.1 157.1h0M826.0 181.7h0M881.5 181.6h0M843.9 164.2h0M946.1 137.5h0M981.8 142.8h0M962.4 145.7h0M864.1 206.7h0M858.4 183.6h0M822.3 205.8h0M930.6 167.8h0M854.7 198.3h0M846.6 152.9h0M862.5 177.0h0M850.1 180.3h0M809.1 271.4h0M946.8 166.1h0M895.9 163.1h0M767.0 237.2h0M967.1 162.3h0M804.2 200.1h0M1027.9 117.0h0M898.6 187.5h0M842.0 192.8h0M832.4 190.4h0M904.1 163.6h0M828.2 211.3h0M882.5 199.9h0M822.7 204.7h0M1015.0 124.2h0M914.5 181.7h0M865.7 156.7h0M896.6 193.7h0M850.9 175.7h0M874.6 182.0h0M840.6 185.5h0M871.0 168.9h0M807.5 207.0h0M872.5 168.6h0M777.9 199.0h0M939.0 148.6h0M917.9 176.8h0M902.7 147.2h0M950.9 140.3h0M831.0 231.1h0M968.9 126.4h0M1035.4 111.2h0M950.9 170.9h0M828.8 207.9h0M873.2 202.2h0M891.1 177.4h0M879.4 174.4h0M829.2 193.0h0M830.1 188.1h0M972.5 144.2h0M890.3 172.3h0M942.3 148.6h0M819.2 198.5h0M966.5 154.7h0M825.8 196.0h0M831.7 196.3h0M883.0 189.4h0M953.3 166.3h0M831.6 172.1h0M922.9 147.0h0M892.1 185.7h0M833.9 187.8h0M868.9 169.6h0M835.4 169.8h0M888.0 161.7h0M844.6 201.0h0M884.5 184.2h0M869.8 221.3h0M989.6 163.9h0M1005.2 124.3h0M925.0 149.4h0M839.7 165.0h0M838.0 189.4h0M885.9 186.2h0M840.9 208.9h0M911.9 165.9h0M902.8 173.1h0M879.6 165.6h0M870.1 184.6h0M850.2 191.7h0M941.0 166.5h0M961.6 138.5h0M946.7 205.0h0M1092.1 129.1h0M971.0 128.7h0M785.5 219.4h0M877.3 199.6h0M869.7 160.7h0M854.1 183.6h0M984.7 150.9h0M873.7 159.5h0M965.3 154.6h0M800.9 222.5h0M842.6 178.2h0M872.2 211.4h0M801.0 245.7h0M820.2 202.3h0M929.5 178.2h0M901.9 152.0h0M807.4 234.4h0M938.9 169.4h0M776.5 227.6h0M889.1 168.4h0M826.3 206.4h0M877.0 156.7h0M798.0 206.3h0M836.3 176.4h0M832.6 194.5h0M959.7 144.7h0M879.6 176.9h0M827.1 213.8h0M804.8 245.7h0M956.8 124.6h0M885.3 184.9h0M897.2 160.8h0M817.3 207.4h0M873.3 160.3h0M784.2 205.9h0M820.8 182.0h0M983.3 148.1h0M932.6 183.1h0M805.3 208.3h0M871.3 176.2h0M887.0 203.6h0M869.1 207.4h0M806.1 200.2h0M872.5 168.9h0M881.2 188.6h0M877.4 138.4h0M910.2 157.3h0M977.2 122.8h0M901.1 160.8h0M813.1 189.5h0M997.4 147.8h0M981.5 129.8h0M867.3 178.4h0M879.2 192.6h0M832.9 192.7h0M864.9 215.7h0M813.7 195.5h0M924.0 133.7h0M959.6 125.5h0M871.2 176.7h0M782.4 250.6h0M1015.8 160.3h0M952.5 165.4h0M892.4 202.8h0M876.1 186.9h0M906.8 146.2h0M982.9 126.9h0M886.3 142.5h0M905.0 164.3h0M884.1 170.2h0M832.6 197.7h0M858.1 157.3h0M981.1 118.6h0M997.7 157.1h0M780.2 237.7h0M875.8 182.1h0M932.9 175.4h0M877.0 186.7h0M936.2 165.4h0M826.2 181.4h0M864.2 187.8h0M889.2 190.8h0M796.8 215.6h0M1031.4 114.9h0M1042.0 141.1h0M977.5 116.9h0M792.8 217.2h0M924.9 178.7h0M821.0 225.8h0M900.9 173.2h0M838.1 198.4h0M841.8 218.7h0M873.0 176.7h0M862.5 170.7h0M1109.3 151.0h0M897.1 197.8h0M862.5 187.9h0M833.8 208.1h0M920.3 172.3h0M829.2 201.1h0M1098.2 113.2h0M949.8 158.7h0M826.2 208.6h0M853.4 173.1h0M939.4 165.9h0M797.1 183.4h0M935.0 186.5h0M878.8 175.6h0M962.1 133.0h0M1089.8 121.3h0M859.4 174.8h0M990.2 167.1h0M906.1 165.9h0M819.7 200.0h0M904.2 164.0h0M934.1 173.1h0M1045.2 141.2h0M884.6 177.3h0M807.2 222.0h0M808.6 210.2h0M800.6 179.4h0M908.9 178.1h0M875.6 186.2h0M905.2 171.2h0M877.3 173.1h0M820.7 204.5h0M967.5 129.8h0M869.9 204.9h0M806.0 201.6h0M795.2 218.2h0M1029.5 174.1h0M895.2 159.9h0M878.3 194.1h0M889.3 266.8h0M920.4 162.3h0M894.6 203.2h0M942.3 146.9h0M929.8 137.4h0M922.4 146.0h0M910.7 166.4h0M931.1 188.2h0M842.1 200.3h0M805.3 208.0h0M917.9 197.6h0M952.7 147.2h0M1007.5 131.8h0M902.4 150.8h0M959.3 150.5h0M923.2 163.4h0M925.5 133.9h0M994.0 127.3h0M859.1 192.7h0M1023.2 120.7h0M818.0 189.1h0M861.8 161.8h0M817.3 193.6h0M912.1 171.8h0M833.9 229.0h0M864.4 187.1h0M815.5 199.9h0M843.2 195.9h0M928.4 175.5h0M817.2 250.6h0M891.6 176.5h0M833.4 225.1h0M838.5 194.2h0M921.8 153.8h0M879.4 186.2h0M883.0 160.5h0M855.0 201.2h0M924.7 141.0h0M804.1 224.9h0M799.2 214.4h0M824.5 174.8h0M890.5 164.7h0M980.3 133.4h0M888.1 177.8h0M842.8 182.0h0M906.9 138.8h0M878.7 195.3h0M925.4 179.9h0M875.1 189.6h0M850.5 178.9h0M863.4 189.9h0M889.8 173.9h0M864.0 245.7h0M914.2 169.3h0M894.4 170.4h0M840.9 212.5h0M860.0 189.6h0M891.2 186.2h0M804.8 213.2h0M867.2 193.7h0M873.0 192.2h0M817.3 214.7h0M853.7 154.7h0M812.3 220.7h0M784.5 192.0h0M802.7 181.3h0M837.1 163.8h0M858.5 177.6h0M997.0 175.6h0M940.2 128.0h0M965.9 141.8h0M803.2 183.7h0M901.2 153.1h0M782.4 209.6h0M794.8 210.0h0M878.0 154.4h0M775.8 228.0h0M948.3 138.9h0M932.1 158.2h0M880.8 156.9h0M866.3 222.9h0M833.2 191.5h0M940.1 127.6h0M864.1 187.6h0M797.3 184.3h0M833.5 218.0h0M828.3 173.3h0M917.8 187.2h0M774.7 230.7h0M881.4 149.3h0M983.9 148.6h0M924.4 153.1h0M881.9 175.7h0M833.3 200.5h0M839.5 177.0h0M847.3 207.0h0M994.2 115.0h0M805.8 203.4h0M855.7 173.8h0M945.3 179.3h0M838.4 216.3h0M863.5 184.7h0M823.1 185.6h0M897.2 197.4h0M1022.6 114.5h0M851.8 203.7h0M969.2 131.7h0M897.1 138.5h0M820.2 222.3h0M832.8 179.0h0M901.8 175.0h0M970.4 146.2h0M835.8 212.1h0M832.7 206.3h0M775.1 230.7h0M965.1 160.5h0M908.2 185.8h0M815.1 200.8h0M840.7 168.4h0M857.4 186.6h0M869.2 197.1h0M857.3 181.6h0M831.8 199.8h0M821.0 206.0h0M839.2 167.1h0M982.2 139.7h0M817.4 183.6h0M966.9 146.5h0M795.6 203.9h0M851.8 195.4h0M831.3 188.3h0M818.9 172.2h0M866.6 209.4h0M786.6 216.2h0M971.8 142.9h0M797.1 199.6h0M790.5 217.8h0M829.2 181.4h0M970.1 128.8h0M811.3 201.9h0M817.0 193.7h0M824.4 220.5h0M911.7 184.7h0M779.2 227.1h0M808.0 225.2h0M814.6 217.7h0M878.1 191.7h0M850.9 195.8h0M932.4 188.3h0M862.5 177.2h0M841.5 219.3h0M943.2 173.7h0M971.4 137.0h0M881.9 214.8h0M894.7 150.1h0M831.2 188.6h0M804.5 186.9h0M1106.7 112.2h0M795.2 226.1h0M882.9 164.9h0M1011.5 137.4h0M830.2 207.2h0M894.8 164.8h0M1020.3 144.5h0M784.3 241.3h0M868.8 158.4h0M866.7 177.4h0M877.8 185.5h0M786.1 208.5h0M830.0 170.2h0M801.9 219.9h0M849.7 200.3h0M867.0 150.8h0M865.1 220.8h0M883.5 181.4h0M852.8 207.5h0M940.9 158.2h0M844.9 195.1h0M861.8 193.8h0M874.9 173.8h0M942.1 141.5h0M967.9 147.6h0M833.6 205.7h0M831.9 185.3h0M989.6 151.0h0M981.9 176.6h0M914.6 150.3h0M973.9 146.7h0M882.9 170.1h0M807.1 206.4h0M881.1 192.8h0M806.0 207.0h0M963.2 128.0h0M960.5 164.3h0M894.6 176.0h0M842.7 190.9h0M1067.7 126.6h0M852.5 171.0h0M852.2 212.8h0M951.6 150.8h0M932.9 146.7h0M1029.7 140.8h0M905.0 188.4h0M1000.3 165.0h0M842.6 187.3h0M883.0 198.5h0M840.9 185.2h0M950.9 165.6h0M881.4 166.0h0M834.5 193.6h0M930.4 151.1h0M992.0 142.6h0M881.5 197.5h0M801.5 193.0h0M850.0 179.1h0M853.3 216.0h0M780.0 233.1h0M780.9 211.7h0M857.4 153.9h0M885.3 172.8h0M914.9 181.9h0M871.0 194.3h0M899.8 234.1h0M952.7 124.0h0M937.9 152.2h0M830.7 178.7h0M893.5 161.3h0M853.6 189.3h0M861.9 211.8h0M781.0 200.7h0M814.8 229.9h0M897.7 192.7h0M917.4 183.2h0M840.1 214.4h0M963.1 161.8h0M851.6 205.5h0M885.0 169.7h0M943.0 165.7h0M817.3 181.3h0M945.9 148.0h0M1033.9 114.9h0M832.7 212.0h0M850.1 186.5h0M894.7 170.1h0M848.4 191.6h0M885.7 161.9h0M896.2 242.5h0M908.1 207.3h0M976.9 144.8h0M872.9 193.5h0M813.0 206.2h0M796.1 202.2h0M979.3 154.9h0M893.7 200.3h0M904.7 164.5h0M786.4 202.1h0M803.2 197.6h0M884.9 172.2h0M906.4 176.1h0M820.8 196.1h0M881.8 180.6h0M859.7 207.0h0M973.1 152.5h0M1016.9 154.3h0M885.8 157.7h0M862.3 205.9h0M855.9 185.5h0M859.9 170.3h0M885.8 160.8h0M948.0 166.2h0M933.4 158.0h0M872.2 197.7h0M819.9 213.4h0M963.4 150.5h0M940.6 162.5h0M958.7 154.2h0M874.5 191.4h0M878.1 190.5h0M822.7 188.3h0M781.2 208.7h0M922.0 191.2h0M792.5 226.8h0M815.9 205.3h0M819.7 181.4h0M962.3 191.7h0M867.2 224.6h0M1064.1 121.5h0M825.9 175.5h0M874.1 176.6h0M862.0 190.0h0M1098.1 120.9h0M843.6 197.9h0M856.0 168.3h0M823.2 217.9h0M848.5 185.7h0M951.3 175.2h0M898.8 186.4h0M866.8 188.8h0M915.0 194.4h0M907.5 213.7h0M850.0 171.6h0M871.4 199.7h0M893.8 164.7h0M882.6 183.5h0M933.9 215.8h0M887.0 162.4h0M942.1 137.2h0M835.9 224.1h0M932.0 173.8h0M844.8 172.2h0M784.5 223.7h0M879.4 166.9h0M788.8 227.8h0M906.7 164.5h0M803.3 215.9h0M895.4 183.7h0M938.2 174.6h0M857.4 216.1h0M946.1 149.4h0M892.0 168.8h0M833.3 190.8h0M825.3 257.2h0M877.2 174.3h0M878.1 168.8h0M919.7 133.8h0M838.3 198.1h0M915.0 164.8h0M1069.3 138.3h0M861.2 172.5h0M958.3 145.7h0M793.9 230.7h0M839.0 207.2h0M855.3 189.7h0M961.7 153.4h0M958.6 151.5h0M886.6 180.8h0M813.2 189.5h0M871.3 183.6h0M856.7 218.7h0M905.6 174.1h0M821.2 222.1h0M818.9 195.9h0M904.7 171.5h0M1021.2 155.0h0M876.3 185.6h0M885.0 191.6h0M792.1 236.9h0M878.0 200.0h0M851.9 198.3h0M898.1 190.7h0M888.8 187.6h0M1082.9 142.5h0M905.2 177.0h0M836.0 215.3h0M917.9 184.0h0M816.1 211.4h0M859.8 205.3h0M879.4 184.9h0M1024.8 111.6h0M791.9 230.5h0M878.1 210.9h0M923.0 155.7h0M982.6 160.6h0M810.5 184.8h0M895.6 178.5h0M829.0 203.1h0M813.5 190.9h0M933.0 136.8h0M881.8 241.7h0M869.0 186.6h0M906.8 152.1h0M876.4 210.2h0M920.1 174.0h0M945.6 158.7h0M810.0 222.6h0M902.8 216.5h0M859.1 189.9h0M843.3 175.0h0M880.4 248.8h0M855.5 163.0h0M911.5 189.4h0M933.2 184.7h0M902.4 164.0h0M862.3 186.4h0M850.3 195.6h0M894.7 188.6h0M938.8 235.3h0M836.8 192.7h0M839.7 176.7h0M830.5 226.4h0M883.2 169.3h0M917.2 201.0h0M856.7 176.0h0M848.0 201.8h0M834.3 198.0h0M1041.8 126.1h0M960.0 134.5h0M814.1 174.7h0M824.2 196.4h0M896.1 167.3h0M814.5 183.1h0M861.2 169.3h0M825.7 183.0h0M896.7 180.0h0M1053.5 113.0h0M868.7 200.3h0M847.8 157.0h0M934.8 163.0h0M813.6 194.5h0M828.6 210.2h0M858.4 184.9h0M853.7 186.0h0M945.8 159.2h0M882.0 185.5h0M845.0 218.2h0M790.5 184.4h0M913.2 210.1h0M898.2 180.1h0M996.5 133.9h0M844.4 178.4h0M815.1 201.0h0M834.0 196.5h0M871.4 196.2h0M798.8 228.0h0M856.3 199.6h0M865.7 186.9h0M924.5 180.3h0M923.9 165.0h0M905.2 180.6h0M807.6 219.8h0M886.1 160.1h0M917.5 150.9h0M890.2 167.5h0M906.7 179.4h0M830.8 190.7h0M843.8 174.6h0M834.0 179.8h0M907.3 197.9h0M1029.1 132.2h0M1046.3 131.3h0M947.2 160.7h0M915.1 182.4h0M1011.8 153.5h0M954.1 187.2h0M973.3 171.0h0M808.5 198.1h0M846.4 182.4h0M949.7 154.5h0M921.0 127.9h0M831.7 199.3h0M790.5 183.6h0M936.5 158.5h0M1049.0 131.6h0M957.0 173.3h0M878.1 211.7h0M872.6 183.9h0M837.2 197.8h0M917.6 165.4h0M813.9 163.2h0M979.1 136.7h0M963.0 156.4h0M918.0 171.5h0M923.8 161.4h0M818.2 186.4h0M894.4 187.8h0M824.6 223.0h0M979.7 142.5h0M897.6 191.8h0M849.0 254.7h0M786.1 234.5h0M914.5 171.6h0M869.8 204.3h0M836.0 198.5h0M830.3 202.3h0M853.2 187.4h0M897.1 238.1h0M833.3 206.7h0M788.2 200.3h0M902.5 156.8h0M909.6 173.9h0M843.5 233.3h0M853.2 212.9h0M1076.2 132.0h0M970.2 165.8h0M842.7 186.9h0M855.6 171.2h0M852.7 184.2h0M892.6 164.5h0M887.3 187.7h0M894.4 198.8h0M812.4 209.8h0M976.9 135.3h0M969.6 171.9h0M776.4 213.9h0M937.7 169.5h0M866.5 178.7h0M814.1 198.3h0M889.0 185.4h0M800.7 215.3h0M959.4 149.6h0M846.1 195.9h0M871.0 201.1h0M873.2 197.3h0M828.6 178.2h0M861.4 211.1h0M899.0 193.0h0M964.7 146.0h0M1000.6 149.3h0M810.4 197.5h0M894.8 170.3h0M926.0 176.4h0M922.2 179.0h0M943.0 158.5h0M940.4 149.1h0M836.6 202.6h0M971.6 135.1h0M838.8 200.3h0M771.7 248.8h0M881.8 192.5h0M869.8 182.6h0M928.6 154.6h0M926.1 185.1h0M837.3 209.8h0M844.4 182.4h0M877.7 165.2h0M778.8 220.3h0M805.7 225.3h0M863.1 183.9h0M824.1 209.0h0M881.3 173.2h0M964.5 152.9h0M843.7 171.7h0M901.2 147.2h0M832.1 176.6h0M784.3 213.0h0M868.6 181.0h0M890.8 171.1h0M804.6 192.9h0M904.9 181.8h0M836.2 221.7h0M912.8 175.8h0M801.6 200.5h0M822.9 226.1h0M898.0 181.4h0M914.6 168.7h0M855.0 199.2h0M801.2 210.1h0M976.0 138.5h0M897.9 195.1h0M809.4 222.2h0M832.7 198.8h0M834.4 173.3h0M922.8 164.0h0M838.0 201.3h0M888.1 174.2h0M917.7 160.6h0M799.4 202.9h0M881.9 178.8h0M881.5 175.6h0M843.4 196.6h0M824.2 244.0h0M873.9 178.4h0M821.0 207.1h0M854.4 169.5h0M907.5 177.7h0M879.5 176.2h0M856.3 174.1h0M830.8 212.2h0M842.7 204.5h0M895.1 167.9h0M954.7 156.8h0M863.2 187.0h0M872.6 243.8h0M920.9 125.1h0M907.3 206.5h0M927.2 180.8h0M879.5 172.2h0M1033.8 134.8h0M826.2 221.9h0M843.6 198.3h0M825.1 214.0h0M817.5 204.3h0M933.2 155.1h0M913.0 181.4h0M961.1 178.4h0M980.7 153.5h0M1011.1 144.0h0M919.2 133.6h0M782.2 210.7h0M867.7 169.7h0M895.8 153.5h0M876.3 183.7h0M843.7 212.8h0M882.6 178.2h0M826.6 179.2h0M842.9 185.2h0M870.4 215.7h0M820.0 204.5h0M866.8 212.2h0M897.7 185.9h0M844.3 193.4h0M811.4 193.8h0M846.4 236.3h0M914.8 152.3h0M783.6 216.8h0M837.1 190.8h0M1009.7 140.2h0M826.2 192.2h0M889.8 169.0h0M838.9 191.6h0M890.8 210.6h0M904.3 169.2h0M928.9 167.8h0M793.7 202.3h0M840.8 217.3h0M863.1 193.7h0M849.6 179.9h0M784.4 231.6h0M914.7 154.2h0M871.1 193.7h0M847.6 215.6h0M851.6 204.6h0M901.8 239.9h0M800.7 204.7h0M894.6 179.8h0M1034.7 150.2h0M858.2 179.6h0M918.6 164.1h0M884.2 201.4h0M841.8 184.5h0M961.2 160.8h0M855.4 190.9h0M826.1 210.0h0M948.3 172.3h0M908.8 135.2h0M1057.0 136.1h0M825.0 201.4h0M853.5 176.4h0M782.0 222.7h0M849.7 180.4h0M901.7 192.7h0M858.9 204.6h0M993.5 135.7h0M974.5 164.5h0M884.4 189.3h0M859.3 155.2h0M955.0 172.2h0M844.5 191.9h0M892.0 148.8h0M982.4 139.8h0M974.4 167.2h0M858.2 180.8h0M845.6 196.3h0M793.8 200.2h0M956.3 162.9h0M874.3 212.1h0M962.0 123.9h0M791.9 220.1h0M869.0 175.6h0M907.6 173.9h0M847.9 179.5h0M833.1 200.8h0M899.5 165.4h0M939.8 152.2h0M849.5 188.2h0M843.3 194.0h0M943.1 145.8h0M819.9 242.7h0M863.1 193.5h0M829.3 202.4h0M848.4 218.9h0M958.9 175.9h0M940.2 163.0h0M887.2 185.2h0M897.1 164.6h0M864.1 188.7h0M907.7 163.9h0M860.4 167.0h0M878.4 196.7h0M829.5 217.7h0M775.1 263.1h0M817.2 212.3h0M807.9 200.2h0M1019.0 129.3h0M829.5 190.5h0M857.4 190.0h0M780.2 243.9h0M828.3 186.6h0M883.9 174.5h0M878.2 184.6h0M936.8 160.6h0M1028.7 124.4h0M791.2 212.1h0M862.6 180.6h0M845.4 155.7h0M1099.8 142.3h0M982.6 147.5h0M875.5 195.1h0M802.2 223.8h0M880.8 178.2h0M901.8 154.2h0M897.7 176.4h0M899.9 161.6h0M881.3 180.7h0M893.7 180.6h0M885.9 181.2h0M1108.3 96.9h0M842.1 198.4h0M874.6 204.4h0M828.6 205.9h0M826.1 193.5h0M870.5 170.5h0M1064.8 136.6h0M840.1 190.7h0M832.6 218.0h0M971.6 155.0h0M805.3 191.1h0M843.7 164.3h0M907.5 182.6h0M895.3 167.6h0M865.8 217.0h0M841.0 204.6h0M806.7 230.7h0M877.1 193.9h0M943.3 147.4h0M952.2 177.6h0M860.1 169.1h0M807.8 271.4h0M820.0 174.7h0M960.9 143.9h0M973.6 153.3h0M835.9 193.0h0M858.5 198.6h0M802.0 266.8h0M846.9 172.4h0M812.3 199.6h0M1094.0 112.9h0M882.4 159.2h0M908.8 174.5h0M822.4 177.3h0M795.1 190.2h0M1103.3 121.4h0M1012.0 129.8h0M1027.9 127.2h0M799.9 209.8h0M1037.4 149.9h0M864.6 204.0h0M800.0 254.7h0M946.7 154.1h0M865.3 248.8h0M891.4 173.7h0M817.9 182.0h0M919.2 209.7h0M838.1 179.4h0M925.0 189.5h0M810.1 195.6h0M990.4 158.8h0M926.5 159.9h0M838.1 197.5h0M880.3 164.2h0M850.0 178.8h0M925.3 158.1h0M904.2 185.6h0M811.5 225.1h0M922.7 155.1h0M851.3 183.6h0M942.4 142.3h0M879.7 161.0h0M834.5 233.9h0M826.7 176.4h0M852.7 164.1h0M892.5 178.2h0M867.7 206.4h0M804.4 184.3h0M831.6 207.0h0M849.5 208.4h0M901.7 170.3h0M965.9 150.3h0M759.2 250.6h0M1068.0 132.2h0M839.6 210.1h0M853.4 193.7h0M868.7 148.1h0M850.2 190.7h0M828.2 180.5h0M802.6 231.5h0M780.4 212.9h0M864.3 156.4h0M823.6 212.8h0M857.4 215.6h0M888.2 184.0h0M831.9 231.8h0M844.3 196.1h0M928.0 168.2h0M869.5 207.5h0M997.0 131.0h0M880.4 163.4h0M825.0 199.9h0M811.3 193.7h0M882.5 161.4h0M895.3 145.1h0M832.3 187.9h0M926.6 241.0h0M766.3 209.2h0M962.4 168.5h0M880.7 208.6h0M880.9 185.3h0M880.0 159.9h0M883.6 170.8h0M879.1 206.4h0M878.8 194.4h0M939.4 169.6h0M921.3 150.0h0M893.9 168.0h0M804.1 219.1h0M943.6 174.2h0M991.9 116.9h0M865.8 182.0h0M895.6 159.0h0M915.9 168.6h0M852.6 190.0h0M869.9 214.6h0M843.1 188.1h0M915.4 154.3h0M915.6 169.9h0M813.5 214.2h0M931.9 168.7h0M927.9 160.5h0M837.9 165.2h0M898.4 165.1h0M912.8 178.3h0M968.6 150.4h0M896.3 164.4h0M826.2 199.4h0M891.2 189.0h0M791.6 201.7h0M920.4 198.4h0M813.3 191.6h0M854.0 257.2h0M1039.7 124.0h0M852.7 183.8h0M845.2 179.2h0M804.7 188.6h0M883.7 175.3h0M868.1 191.9h0M814.5 235.2h0M828.7 202.6h0M1027.3 143.4h0M848.9 179.2h0M941.5 153.4h0M957.8 155.9h0M882.6 180.0h0M881.4 186.0h0M820.4 188.3h0M868.1 188.4h0M861.5 210.1h0M814.5 198.9h0M780.0 234.8h0M869.2 184.3h0M894.6 138.1h0M816.3 204.2h0M911.9 160.2h0M901.3 174.8h0M880.6 169.5h0M996.6 145.8h0M914.0 143.6h0M927.3 152.9h0M1047.6 111.3h0M864.6 187.5h0M807.6 195.5h0M852.8 187.2h0M919.7 189.9h0M779.9 206.0h0M932.9 172.6h0M937.2 158.8h0M895.7 174.7h0M878.7 178.0h0M844.7 188.4h0M897.1 161.3h0M814.1 184.3h0M917.3 165.8h0M865.2 184.8h0M854.3 200.3h0M1061.4 134.0h0M1087.5 113.1h0M1036.1 122.8h0M897.4 195.1h0M834.8 198.8h0M810.9 206.2h0M933.7 144.4h0M845.7 203.9h0M849.0 203.8h0M871.2 171.4h0M912.0 171.5h0M787.6 226.8h0M837.3 245.7h0M902.6 158.8h0M860.1 193.6h0M901.3 192.4h0M845.7 190.7h0M890.0 203.1h0M873.5 172.8h0M839.8 199.0h0M914.4 183.3h0M933.5 171.0h0M981.4 143.2h0M1005.9 119.6h0M807.4 231.2h0M885.8 165.1h0M837.1 244.2h0M824.3 205.4h0M816.5 179.4h0M878.1 160.7h0M1005.7 138.6h0M807.7 205.6h0M896.5 165.7h0M1070.9 123.5h0M868.9 158.5h0M879.8 193.9h0M854.6 185.3h0M869.0 166.2h0M907.0 184.3h0M842.3 184.1h0M1114.3 128.0h0M935.4 152.1h0M893.8 166.1h0M840.5 197.7h0M845.9 173.2h0M826.4 191.6h0M1042.0 118.6h0M1006.0 134.3h0M836.5 211.0h0M958.8 159.2h0M939.1 149.0h0M1061.6 127.6h0M933.7 161.1h0M873.1 184.1h0M854.6 150.2h0M804.3 235.7h0M882.2 176.4h0M907.4 206.9h0M864.7 214.8h0M842.6 190.2h0M880.7 177.5h0M824.2 199.4h0M919.6 266.8h0M845.4 190.7h0M985.1 149.4h0M808.4 192.4h0M831.9 226.4h0M831.3 206.4h0M907.6 209.6h0M818.1 215.3h0M879.7 185.3h0M832.6 175.1h0M862.5 208.0h0M949.4 175.3h0M971.0 140.7h0M824.5 192.6h0M847.2 266.8h0M897.4 197.3h0M903.4 168.3h0M790.0 231.7h0M914.0 152.8h0M815.5 190.5h0M834.0 230.5h0M975.4 142.7h0M819.0 188.7h0M867.5 221.0h0M790.6 238.3h0M898.2 162.9h0M857.5 204.2h0M916.8 179.8h0M816.8 205.1h0M842.3 202.5h0M918.1 172.8h0M885.0 169.1h0M832.3 185.2h0M962.1 128.1h0M884.6 168.1h0M1077.1 106.1h0M849.0 233.0h0M891.6 187.3h0M864.9 183.6h0M990.3 159.1h0M967.5 158.7h0M852.4 206.1h0M789.0 201.7h0M854.2 183.1h0M926.3 167.8h0M829.3 214.3h0M828.5 213.3h0M796.3 231.1h0M931.6 140.9h0M783.6 225.2h0M860.1 182.2h0M914.0 154.2h0M873.2 193.9h0M870.2 207.2h0M843.8 196.9h0M903.3 184.1h0M993.6 159.5h0M951.2 121.0h0M877.2 197.5h0M831.0 182.0h0M865.7 173.1h0M901.5 147.5h0M842.1 257.2h0M808.7 218.2h0M809.0 194.4h0M934.1 174.1h0M835.0 195.5h0M807.5 198.2h0M818.9 211.9h0M907.7 161.5h0M830.3 218.8h0M902.6 184.6h0M873.9 143.9h0M837.4 178.7h0M801.4 235.7h0M897.3 185.2h0M807.0 230.6h0M1049.1 158.0h0M845.1 185.5h0M888.5 170.8h0M841.1 220.2h0M780.6 263.1h0M780.8 222.0h0M867.7 180.4h0M829.4 200.2h0M892.5 142.4h0M831.3 227.2h0M848.7 192.2h0M897.5 182.8h0M898.7 180.6h0M865.3 234.9h0M894.5 184.9h0M1079.3 128.1h0M823.6 205.7h0M819.0 204.7h0M924.3 166.6h0M859.9 182.7h0M913.0 182.9h0M908.2 173.4h0M893.5 204.6h0M877.7 191.7h0M978.6 156.5h0M794.7 217.3h0M815.4 205.8h0M849.6 181.1h0M928.4 147.7h0M883.8 157.3h0M790.2 214.6h0M831.8 178.4h0M879.3 171.2h0M964.4 173.3h0M830.4 191.8h0M877.0 177.8h0M967.6 142.2h0M820.8 225.9h0M923.4 198.3h0M937.3 179.6h0M905.4 167.2h0M862.7 154.6h0M939.6 165.6h0M837.1 205.9h0M806.6 198.7h0M885.9 188.4h0M817.4 214.9h0M897.1 169.8h0M856.4 186.5h0M914.3 164.6h0M936.2 160.1h0M817.0 219.5h0M1022.4 153.8h0M888.6 166.9h0M956.3 160.6h0M837.1 217.1h0M799.6 226.9h0M876.0 168.0h0M955.0 150.7h0M835.9 195.8h0M965.4 147.1h0M907.4 157.2h0M933.1 165.5h0M780.4 230.1h0M792.4 195.1h0M775.4 225.4h0M1088.1 122.0h0M849.3 206.9h0M868.7 185.1h0M800.5 196.7h0M903.3 181.5h0M816.3 201.8h0M879.5 194.4h0M913.1 179.0h0M1036.1 134.9h0M938.2 151.5h0M848.6 188.6h0M870.7 168.1h0M980.8 132.9h0M876.9 156.5h0M849.5 194.9h0M856.3 198.8h0M812.5 230.4h0M856.3 193.0h0M867.0 217.9h0M828.2 172.8h0M782.8 225.2h0M939.8 177.0h0M859.9 171.0h0M967.1 131.8h0M913.9 166.2h0M840.6 180.3h0M866.7 155.1h0M928.8 156.9h0M830.3 202.0h0M863.1 207.4h0M881.8 161.4h0M823.8 218.5h0M846.6 188.4h0M809.9 201.9h0M826.0 179.2h0M856.6 178.9h0M858.5 195.3h0M829.4 192.2h0M825.7 205.0h0M944.6 158.6h0M779.6 199.2h0M959.1 174.8h0M841.6 207.7h0M909.8 172.7h0M854.7 179.8h0M887.8 189.1h0M959.7 131.9h0M825.1 187.9h0M789.4 219.1h0M814.2 224.7h0M870.5 197.2h0M794.6 239.9h0M813.0 201.5h0M998.8 138.2h0M930.9 157.9h0M930.8 183.1h0M902.5 203.5h0M839.7 175.4h0M903.2 154.6h0M931.6 151.4h0M866.2 193.4h0M780.9 220.3h0M935.2 169.4h0M870.7 170.7h0M933.1 147.2h0M918.9 172.6h0M863.8 186.3h0M923.1 164.7h0M851.3 187.4h0M860.2 200.4h0M939.8 148.3h0M780.6 200.2h0M795.8 200.6h0M852.0 164.1h0M829.7 205.0h0M910.7 172.9h0M973.2 142.9h0M827.1 191.7h0M861.3 163.6h0M937.5 148.4h0M842.0 174.5h0M799.1 197.0h0M860.1 169.5h0M798.1 219.9h0M837.1 213.5h0M932.5 155.2h0M843.5 185.5h0M937.3 161.3h0M791.2 214.4h0M948.5 147.4h0M852.0 203.3h0M889.1 209.1h0M912.7 167.5h0M908.0 175.9h0M938.7 156.5h0M847.6 187.1h0M873.2 154.7h0M983.2 133.4h0M852.6 201.9h0M934.5 161.6h0M829.4 181.9h0M908.5 220.7h0M822.4 200.0h0M881.8 180.8h0M992.2 155.1h0M945.7 147.4h0M844.1 163.3h0M891.8 163.5h0M878.2 193.0h0M820.0 206.9h0M862.7 183.5h0M774.6 218.8h0M1056.7 129.6h0M884.1 230.1h0M915.5 149.0h0M1010.4 124.8h0M840.9 202.6h0M848.8 171.7h0M838.0 197.1h0M809.2 197.9h0M887.1 167.3h0M870.2 172.3h0M905.4 152.3h0M832.4 191.5h0M922.4 160.3h0M822.3 238.4h0M856.9 169.0h0M865.7 196.9h0M861.6 171.2h0M802.8 199.0h0M1010.9 136.8h0M795.3 203.7h0M847.7 192.4h0M856.0 193.0h0M782.4 257.2h0M949.3 169.5h0M828.8 211.8h0M898.4 155.4h0M931.2 159.6h0M899.3 156.4h0M898.2 152.9h0M938.5 177.4h0M934.2 176.5h0M852.0 197.8h0M868.0 156.5h0M874.0 161.2h0M799.9 215.9h0M824.5 217.3h0M1038.0 107.1h0M807.3 181.5h0M961.6 138.1h0M908.2 184.8h0M855.7 183.8h0M825.4 158.8h0M875.3 160.7h0M779.5 227.7h0M878.2 184.0h0M841.0 223.9h0M807.5 245.7h0M858.6 158.6h0M1041.5 133.8h0M985.7 131.7h0M832.4 177.7h0M921.8 139.4h0M955.7 139.0h0M874.3 176.4h0M830.9 209.5h0M998.7 142.5h0M884.1 185.4h0M858.8 209.0h0M842.3 209.8h0M923.0 177.7h0M914.5 177.0h0M847.7 199.1h0M860.9 175.5h0M905.6 175.7h0M817.5 201.3h0M864.6 154.4h0M943.8 147.2h0M815.5 204.9h0M839.8 188.0h0M842.9 196.7h0M827.0 201.1h0M852.5 210.5h0M868.9 174.0h0M794.6 218.6h0M948.0 155.1h0M887.2 170.4h0M842.9 191.3h0M885.9 182.5h0M815.1 221.0h0M935.9 154.7h0M1073.5 118.3h0M811.7 185.1h0M858.6 211.4h0M965.4 153.4h0M883.8 179.3h0M817.9 192.1h0M826.0 192.4h0M778.8 244.2h0M859.0 178.1h0M885.3 180.3h0M897.8 169.5h0M952.1 173.3h0M890.8 145.2h0M910.9 196.8h0M841.6 172.3h0M1002.7 116.4h0M783.4 207.4h0M793.9 217.3h0M775.1 243.9h0M1062.3 113.7h0M963.7 139.3h0M780.4 201.2h0M828.1 194.4h0M792.3 227.7h0M808.1 196.9h0M901.0 175.6h0M1044.9 121.8h0M879.7 183.2h0M849.6 207.4h0M895.8 196.4h0M874.1 181.7h0M840.4 190.7h0M817.7 214.4h0M953.2 146.9h0M929.7 157.1h0M875.1 187.3h0M887.4 189.5h0M815.4 225.9h0M826.7 180.4h0M781.9 241.4h0M796.3 202.8h0M801.6 187.0h0M803.5 217.6h0M864.4 180.5h0M954.7 146.0h0M857.6 213.3h0M915.2 157.7h0M797.9 217.4h0M852.5 218.3h0M885.6 186.2h0M871.0 178.4h0M896.5 143.4h0M844.9 191.3h0M913.3 153.1h0M876.4 198.9h0M806.4 224.8h0M810.2 196.7h0M966.1 150.0h0M912.3 135.1h0M815.0 235.7h0M828.4 219.5h0M811.3 194.0h0M911.4 161.2h0M798.9 222.2h0M805.1 177.5h0M921.5 151.6h0M882.0 184.9h0M923.9 148.5h0M862.2 194.4h0M1018.6 120.3h0M948.3 153.4h0M850.4 172.1h0M880.6 148.1h0M832.6 187.3h0M831.2 216.0h0M860.0 208.1h0M1007.4 152.6h0M851.4 155.5h0M886.2 156.0h0M905.2 164.3h0M815.7 203.4h0M911.8 173.1h0M833.4 214.2h0M835.8 198.3h0M885.0 147.2h0M839.9 196.9h0M911.6 198.0h0M943.7 150.0h0M855.3 162.9h0M872.3 193.4h0M831.1 183.8h0M867.5 175.4h0M863.5 215.4h0M865.6 191.6h0M897.8 163.7h0M779.7 221.2h0M945.0 149.3h0M918.3 148.9h0M804.0 209.1h0M1024.7 176.4h0M938.5 139.7h0M831.3 219.9h0M875.6 183.0h0M828.4 217.1h0M815.0 198.0h0M913.4 173.6h0M967.9 169.2h0M830.1 193.9h0M859.9 196.2h0M838.4 206.2h0M901.0 155.3h0M852.3 203.2h0M823.4 177.6h0M903.3 189.0h0M835.7 169.9h0M774.8 250.6h0M893.4 177.3h0M902.4 158.3h0M805.5 196.4h0M957.5 127.4h0M930.7 174.1h0M894.0 250.6h0M1049.7 103.5h0M827.5 185.2h0M847.3 169.1h0M858.9 188.6h0M879.2 203.4h0M867.7 193.0h0M832.5 174.4h0M896.6 180.8h0M1072.6 122.6h0M826.5 186.1h0M1003.2 132.4h0M918.9 180.5h0M1100.8 130.9h0M862.8 184.7h0M978.4 204.5h0M860.0 211.0h0M815.8 190.3h0M898.1 170.6h0M852.3 210.4h0M957.5 142.1h0M896.0 168.6h0M843.7 198.8h0M956.9 141.6h0M814.8 195.9h0M776.3 194.2h0M791.0 212.2h0M925.8 173.4h0M795.5 235.8h0M817.3 216.5h0M847.6 200.8h0M835.3 200.0h0M805.5 216.8h0M871.3 152.4h0M941.4 171.6h0M929.1 167.8h0M931.0 139.2h0M840.9 178.6h0M876.3 194.5h0M953.5 169.2h0M936.8 172.3h0M876.9 155.4h0M821.2 207.8h0M909.2 175.6h0M899.0 159.6h0M935.0 161.0h0M986.3 169.1h0M783.5 229.1h0M861.2 200.6h0M859.6 171.4h0M857.7 214.4h0M877.3 194.7h0M916.3 182.9h0M796.3 216.8h0M858.7 148.8h0M791.4 208.7h0M1114.8 102.2h0M788.9 200.0h0M917.8 165.5h0M902.9 162.1h0M901.7 188.3h0M1011.6 155.8h0M834.7 192.0h0M1040.5 121.4h0M804.1 237.2h0M803.5 193.1h0M838.4 198.7h0M824.1 195.4h0M789.0 188.3h0M848.0 171.0h0M794.8 218.2h0M829.4 195.3h0M866.9 177.7h0M885.2 175.2h0M855.4 204.1h0M888.6 205.2h0M867.7 199.1h0M947.1 147.6h0M780.4 200.3h0M847.0 190.2h0M860.5 185.5h0M906.7 156.5h0M946.2 166.0h0M1038.8 150.1h0M798.7 197.4h0M863.3 159.0h0M818.9 189.0h0M912.0 169.8h0M785.6 194.3h0M933.0 174.6h0M867.4 166.7h0M824.5 221.4h0M910.0 164.2h0M908.8 173.3h0M865.5 179.7h0M783.5 226.8h0M854.0 254.7h0M843.0 174.9h0M933.8 196.0h0M864.5 186.2h0M981.4 167.2h0M820.5 206.1h0M951.7 165.5h0M781.8 250.6h0M820.3 263.1h0M864.3 192.1h0M878.5 174.5h0M882.7 186.4h0M944.2 143.8h0M874.8 152.3h0M861.9 201.2h0M801.0 192.8h0M900.8 175.8h0M777.9 229.3h0M848.1 187.1h0M834.3 195.2h0M914.0 158.0h0M888.8 186.3h0M886.9 158.8h0M949.9 177.3h0M870.3 171.6h0M835.8 200.6h0M794.1 237.8h0M880.1 210.0h0M883.4 259.9h0M941.0 179.9h0M943.8 142.3h0M948.8 138.7h0M986.5 125.7h0M941.7 145.2h0M899.6 145.1h0M826.4 193.6h0M878.9 179.4h0M843.8 163.3h0M999.1 146.4h0M931.0 176.6h0M874.0 202.2h0M896.9 169.9h0M822.2 240.2h0M921.3 164.6h0M805.0 184.6h0M919.5 163.1h0M943.7 165.6h0M809.1 186.2h0M1080.6 125.8h0M940.7 148.4h0M879.5 184.5h0M945.6 145.4h0M1024.9 112.1h0M882.5 188.6h0M899.4 158.5h0M985.0 128.2h0M828.0 198.0h0M917.7 179.3h0M901.9 167.3h0M891.1 193.2h0M998.2 121.4h0M829.5 176.9h0M932.8 161.0h0M915.2 180.7h0M793.9 199.6h0M846.6 218.6h0M837.4 214.6h0M831.0 198.8h0M903.2 187.2h0M808.2 176.7h0M843.5 156.0h0M859.3 201.0h0M876.0 220.4h0M875.4 194.5h0M899.8 205.3h0M812.4 185.1h0M901.8 217.9h0M824.5 195.6h0M948.8 163.0h0M863.5 196.2h0M799.3 212.4h0M991.1 141.3h0M865.4 197.2h0M832.7 182.8h0M844.5 191.7h0M883.2 185.8h0M867.2 227.4h0M946.5 147.6h0M823.5 181.6h0M959.0 148.7h0M824.2 201.5h0M988.4 120.1h0M938.5 155.5h0M779.4 217.3h0M818.7 203.9h0M813.3 202.1h0M857.7 192.9h0M896.0 176.7h0M999.0 154.4h0M851.5 180.3h0M1000.8 144.8h0M841.3 209.9h0M884.3 181.9h0M1110.6 115.4h0M909.7 186.4h0M826.7 205.2h0M939.9 156.6h0M821.9 202.0h0M819.4 196.8h0M813.5 244.2h0M896.0 175.0h0M844.2 186.3h0M809.0 209.5h0M804.5 190.2h0M941.6 168.2h0M979.0 162.0h0M1001.5 129.7h0M829.2 228.7h0M918.0 169.1h0M819.2 171.7h0M957.1 153.2h0M835.0 222.4h0M813.6 211.0h0M851.8 197.1h0M895.6 163.9h0M926.9 157.3h0M839.1 180.5h0M847.6 221.4h0M917.8 175.4h0M1091.9 133.8h0M943.3 154.0h0M800.9 198.0h0M848.9 204.2h0M884.4 149.5h0M852.9 199.7h0M807.2 188.4h0M877.0 169.2h0M891.0 157.0h0M958.4 155.1h0M854.1 201.2h0M819.4 178.9h0M1016.7 124.0h0M872.6 182.1h0M833.9 194.9h0M897.0 196.8h0M878.2 199.0h0M846.3 177.0h0M982.9 164.2h0M845.4 219.2h0M813.5 208.3h0M807.3 206.1h0M888.7 153.5h0M788.1 235.4h0M849.0 197.6h0M825.3 187.3h0M807.7 208.3h0M885.5 186.0h0M815.0 195.4h0M810.9 216.0h0M834.3 213.8h0M953.5 159.7h0M814.4 175.3h0M1014.1 138.2h0M1046.8 129.6h0M827.5 203.4h0M920.3 152.2h0M931.9 159.0h0M842.1 182.3h0M829.3 177.5h0M899.0 213.6h0M775.8 237.0h0M831.8 169.3h0M791.7 212.7h0M972.4 131.4h0M874.7 196.0h0M948.1 150.9h0M814.0 210.1h0M864.7 174.3h0M834.2 214.6h0M832.0 223.0h0M903.3 179.7h0M925.3 151.1h0M791.9 213.0h0M882.9 166.7h0M922.0 159.5h0M825.4 212.3h0M850.6 214.5h0M846.6 193.0h0M913.8 185.0h0M825.9 178.8h0M938.5 159.4h0M821.3 191.6h0M922.2 202.1h0M847.5 205.1h0M915.5 165.6h0M835.6 213.0h0M1033.4 132.3h0M950.0 155.1h0M925.1 159.2h0M877.1 180.4h0M908.8 171.9h0M957.3 115.0h0M875.1 146.3h0M877.1 196.1h0M836.2 177.4h0M837.1 212.8h0M975.4 138.3h0M900.1 178.3h0M786.4 193.7h0M796.0 197.1h0M857.6 179.7h0M819.1 207.5h0M792.7 200.4h0M880.7 181.2h0M825.7 195.9h0M872.2 168.5h0M910.8 161.7h0M814.3 216.8h0M887.5 165.0h0M863.0 178.9h0M833.7 180.7h0M869.2 187.1h0M793.0 211.8h0M988.4 160.2h0M914.5 160.2h0M812.7 208.1h0M825.5 174.7h0M841.5 189.8h0M903.0 176.3h0M858.5 193.9h0M1048.0 138.3h0M898.9 177.7h0M950.4 203.7h0M844.5 204.3h0M1112.1 104.6h0M853.9 208.1h0M940.9 164.6h0M908.5 167.0h0M844.0 191.9h0M926.0 173.2h0M793.1 221.2h0M943.7 177.0h0M888.0 165.0h0M902.3 174.6h0M827.2 226.4h0M788.8 217.9h0M916.7 138.7h0M862.2 207.4h0M953.9 155.9h0M925.0 248.8h0M960.5 182.1h0M841.7 189.1h0M912.3 180.2h0M893.3 161.8h0M1027.8 127.1h0M875.6 214.4h0M865.3 172.0h0M796.1 199.3h0M857.4 189.1h0M905.3 158.2h0M805.4 190.0h0M895.6 176.3h0M852.7 203.9h0M854.3 176.7h0M873.0 176.8h0M840.4 205.0h0M833.9 190.7h0M862.0 164.8h0M878.4 160.2h0M888.1 159.2h0M848.8 184.3h0M1042.1 125.5h0M864.3 171.7h0M875.2 187.4h0M1070.4 140.3h0M911.0 159.5h0M850.5 160.1h0M813.4 216.5h0M928.2 157.2h0M862.2 173.2h0M970.6 138.6h0M848.5 183.5h0M904.2 171.0h0M818.9 206.9h0M881.2 199.6h0M828.6 194.5h0M822.4 201.2h0M843.0 201.2h0M1001.4 142.7h0M964.8 133.3h0M885.2 209.8h0M785.4 225.7h0M870.9 191.1h0M807.8 201.4h0M908.1 182.1h0M819.0 218.1h0M941.8 158.2h0M866.6 172.1h0M876.6 235.3h0M819.3 177.3h0M805.6 199.4h0M979.1 160.1h0M817.8 195.8h0M977.0 153.4h0M853.8 184.3h0M847.8 170.9h0M970.6 149.6h0M1008.7 161.0h0M1029.3 116.0h0M832.0 201.6h0M873.3 173.7h0M1041.0 125.8h0M843.3 178.9h0M1000.7 150.8h0M776.6 223.0h0M939.3 142.1h0M924.7 161.8h0M952.3 171.5h0M843.6 172.8h0M825.7 219.6h0M888.7 157.2h0M837.2 235.3h0M865.4 187.6h0M896.1 186.6h0M963.7 152.1h0M789.8 232.0h0M804.7 228.9h0M853.9 183.2h0M997.3 132.7h0M889.0 170.6h0M880.6 187.8h0M1002.2 124.3h0M838.7 221.8h0M800.1 235.0h0M925.6 149.0h0M1002.3 118.1h0M777.2 198.5h0M918.9 183.9h0M879.7 196.2h0M843.5 157.8h0M888.5 192.3h0M897.1 183.2h0M936.2 164.9h0M865.4 210.4h0M887.8 168.9h0M834.4 201.6h0M789.8 193.3h0M871.6 170.8h0M900.4 188.5h0M827.3 201.1h0M878.9 175.2h0M850.7 173.7h0M786.7 200.3h0M817.0 183.1h0M795.5 214.8h0M810.7 186.3h0M892.6 180.7h0M896.3 172.4h0M886.8 190.7h0M888.2 176.8h0M935.2 161.8h0M811.8 203.2h0M935.4 177.7h0M833.3 229.3h0M944.2 150.6h0M842.9 208.1h0M887.1 164.9h0M820.5 214.7h0M846.9 209.7h0M800.4 235.8h0M774.1 209.1h0M842.8 202.5h0M905.1 175.9h0M915.6 156.6h0M868.4 174.3h0M902.2 163.9h0M1043.8 136.7h0M939.9 178.8h0M914.2 150.0h0M1047.2 128.3h0M815.3 207.6h0M866.9 177.7h0M823.7 182.0h0M906.8 175.0h0M867.0 181.3h0M902.0 148.4h0M845.2 186.5h0M798.2 202.3h0M876.0 181.1h0M853.7 224.4h0M856.1 206.3h0M895.7 185.5h0M811.1 192.3h0M867.4 179.6h0M814.2 179.0h0M1061.5 123.5h0M881.2 205.5h0M816.1 228.4h0M810.2 242.7h0M951.6 173.2h0M859.1 186.2h0M967.1 166.8h0M900.6 160.3h0M828.7 189.6h0M835.1 199.9h0M951.5 140.2h0M870.6 184.5h0M825.3 185.1h0M857.3 186.7h0M932.7 164.4h0M833.8 177.8h0M797.7 236.6h0M883.1 165.9h0M992.0 126.3h0M880.1 185.6h0M869.4 193.7h0M835.9 163.4h0M1038.4 172.1h0M794.6 195.1h0M1073.3 153.2h0M920.0 194.8h0M781.0 208.2h0M926.3 141.2h0M829.5 185.5h0M857.5 205.9h0M812.6 196.3h0M815.5 190.3h0M809.9 210.2h0M927.8 163.7h0M861.1 168.9h0M810.8 176.8h0M860.0 171.2h0M906.1 180.8h0M983.3 149.5h0M850.4 185.9h0M868.0 185.5h0M1029.0 127.3h0M835.1 183.7h0M862.7 165.5h0M912.7 146.4h0M868.9 207.0h0M851.8 176.9h0M771.5 216.5h0M802.1 214.6h0M991.0 138.1h0M816.9 198.5h0M960.8 158.0h0M1119.9 116.3h0M904.7 161.2h0M1110.4 118.5h0M870.7 177.7h0M995.8 132.4h0M887.8 158.9h0M1043.1 145.1h0M858.5 174.3h0M873.6 207.6h0M884.1 195.1h0M843.7 198.4h0M1000.1 108.4h0M843.7 179.3h0M843.1 216.7h0M797.9 225.7h0M850.8 186.4h0M887.4 167.4h0M789.9 228.8h0M828.2 184.9h0M924.3 171.4h0M807.8 220.9h0M914.7 159.9h0M899.1 180.1h0M858.9 179.6h0M796.0 224.7h0M999.1 162.4h0M969.7 158.7h0M1063.2 160.9h0M898.8 179.4h0M885.5 163.7h0M871.7 191.9h0M942.6 146.8h0M1082.8 126.1h0M822.8 207.8h0M906.0 181.5h0M808.9 190.0h0M927.5 169.2h0M917.4 184.5h0M870.9 179.1h0M912.6 164.9h0M857.1 167.6h0M822.3 210.4h0M863.5 196.0h0M814.7 235.5h0M865.9 196.5h0M944.5 161.5h0M851.0 217.2h0M816.2 190.5h0M847.3 198.4h0M929.7 164.7h0M795.8 218.8h0M866.0 176.7h0M980.5 121.0h0M781.2 213.6h0M828.6 195.1h0M855.8 160.8h0M930.7 161.3h0M843.9 156.3h0M928.0 190.8h0M822.0 175.5h0M897.4 149.6h0M873.6 201.3h0M1095.4 132.1h0M802.1 215.3h0M818.1 197.9h0M993.0 105.3h0M851.1 177.4h0M919.5 172.7h0M806.8 194.5h0M933.6 157.3h0M1006.6 123.7h0M989.7 162.5h0M817.1 212.1h0M801.0 219.3h0M827.5 230.1h0M928.1 155.8h0M1023.5 158.9h0M895.5 161.6h0M823.0 213.3h0M929.0 151.6h0M879.0 175.0h0M957.1 154.7h0M788.8 202.5h0M837.1 177.0h0M924.4 178.4h0M878.4 182.7h0M843.5 194.0h0M807.4 203.1h0M809.3 192.7h0M861.6 219.8h0M819.2 212.0h0M925.4 159.2h0M891.7 160.5h0M835.1 202.2h0M879.7 171.7h0M829.8 216.3h0M776.8 214.9h0M974.2 140.5h0M899.8 184.7h0M861.7 183.8h0M874.2 180.4h0M925.6 182.3h0M961.3 149.0h0M912.2 174.6h0M930.1 161.2h0M891.6 194.0h0M910.8 190.2h0M803.0 189.8h0M916.0 185.8h0M809.9 223.3h0M991.4 134.0h0M791.2 228.1h0M853.4 186.6h0M861.6 181.6h0M956.8 208.4h0M824.2 217.5h0M932.4 177.7h0M791.7 206.5h0M959.5 166.2h0M880.9 204.2h0M864.4 157.4h0M856.8 198.4h0M836.4 182.0h0M899.4 192.2h0M862.9 194.4h0M818.3 204.4h0M924.5 154.0h0M829.4 194.5h0M817.6 174.4h0M994.1 162.5h0M971.7 189.5h0M965.3 127.1h0M950.3 128.9h0M867.3 172.7h0M825.1 204.9h0M840.6 196.8h0M779.4 226.2h0M857.6 179.1h0M936.0 173.3h0M862.6 188.2h0M863.7 189.5h0M875.6 188.5h0M796.8 201.1h0M901.2 153.5h0M835.3 175.3h0M991.6 135.1h0M1018.8 148.1h0M850.8 174.6h0M839.7 202.8h0M869.4 195.9h0M888.1 180.4h0M826.1 192.5h0M893.1 179.3h0M921.5 151.7h0M946.9 155.0h0M947.6 179.3h0M866.1 167.0h0M891.2 150.5h0M928.3 174.2h0M827.1 194.9h0M776.3 212.8h0M843.3 191.3h0M916.6 151.3h0M912.8 169.8h0M926.0 147.8h0M863.9 199.1h0M836.4 183.8h0M887.9 178.9h0M856.2 170.9h0M964.2 137.9h0M909.4 153.2h0M841.4 224.2h0M1027.6 146.6h0M893.4 203.2h0M864.5 191.3h0M867.5 198.6h0M840.3 218.7h0M877.8 195.8h0M919.6 152.1h0M929.7 176.1h0M869.5 184.2h0M826.7 201.1h0M841.5 195.3h0M901.6 162.2h0M850.5 175.3h0M826.4 206.6h0M894.5 148.8h0M881.1 201.0h0M964.6 157.9h0M890.2 191.2h0M1022.3 155.3h0M828.9 182.5h0M860.8 181.1h0M843.5 193.8h0M835.4 201.7h0M808.5 210.4h0M856.6 188.4h0M840.9 199.3h0M874.8 194.0h0M951.4 180.3h0M927.6 159.0h0M978.5 134.7h0M973.7 142.2h0M1080.3 142.8h0M766.1 229.9h0M912.9 164.7h0M843.2 210.7h0M915.1 175.0h0M901.3 163.4h0M852.3 159.6h0M846.0 212.4h0M854.2 176.8h0M931.6 168.5h0M905.4 188.5h0M919.9 174.9h0M806.5 245.7h0M913.4 165.4h0M823.1 203.8h0M854.6 218.1h0M847.1 190.9h0M860.2 189.9h0M828.7 217.1h0M950.5 157.2h0M825.7 191.2h0M813.1 209.4h0M912.0 165.5h0M967.5 217.1h0M937.5 147.4h0M872.9 202.1h0M1030.5 138.2h0M882.3 172.3h0M987.1 142.4h0M849.3 217.3h0M827.4 197.6h0M814.7 183.2h0M869.4 202.2h0M931.2 172.5h0M823.7 200.5h0M880.6 162.4h0M886.4 196.1h0M965.7 158.1h0M831.9 214.7h0M892.6 178.0h0M853.0 183.7h0M888.7 187.0h0M899.3 189.2h0M1054.6 141.0h0M977.6 130.1h0M915.5 166.6h0M965.1 137.1h0M889.2 158.4h0M804.2 206.0h0M820.0 231.4h0M824.8 213.2h0M907.3 196.6h0M1022.2 140.1h0M903.4 180.2h0M820.9 203.8h0M929.1 154.5h0M804.7 242.1h0M841.1 193.4h0M857.9 206.5h0M952.8 147.8h0M800.3 181.0h0M812.3 195.6h0M887.0 209.9h0M949.2 158.2h0M870.8 203.8h0M904.2 176.3h0M914.4 182.0h0M796.2 185.5h0M854.0 189.2h0M795.5 208.8h0M829.6 205.7h0M933.8 208.6h0M838.1 191.7h0M1004.1 140.4h0M950.3 146.4h0M923.5 174.9h0M866.1 174.2h0M836.5 189.2h0M858.4 161.8h0M915.9 215.0h0M890.2 168.1h0M922.7 168.9h0M865.5 202.2h0M882.1 188.9h0M809.7 208.5h0M1076.8 135.9h0M868.8 179.7h0M996.4 176.6h0M826.0 180.5h0M833.7 195.6h0M861.3 197.4h0M968.3 146.4h0M817.4 171.5h0M993.8 149.4h0M960.1 150.2h0M777.1 215.8h0M1019.7 141.8h0M920.5 161.8h0M939.4 179.1h0M844.8 222.7h0M881.2 155.0h0M1006.7 131.3h0M771.8 199.3h0M941.6 182.2h0M979.4 137.1h0M870.4 197.7h0M823.8 191.0h0M1028.7 137.5h0M980.9 131.7h0M888.5 198.6h0M843.5 187.7h0M868.4 165.8h0M1065.7 108.5h0M922.1 145.2h0M969.6 145.9h0M948.4 153.8h0M1053.2 145.9h0M839.4 215.0h0M890.8 178.0h0M947.0 117.4h0M814.8 219.5h0M799.5 207.4h0M902.3 168.2h0M819.7 222.6h0M1015.8 131.5h0M838.8 206.5h0M845.8 172.1h0M836.9 173.6h0M846.6 194.0h0M923.3 152.8h0M887.2 210.1h0M842.8 201.2h0M842.2 198.8h0M804.9 206.4h0M798.0 196.0h0M917.1 179.3h0M840.0 182.1h0M962.8 162.6h0M979.0 158.7h0M897.3 206.1h0M916.4 147.5h0M840.5 189.7h0M842.6 195.1h0M857.7 192.2h0M849.4 194.0h0M960.3 145.3h0M851.6 189.4h0M966.6 187.3h0M875.6 174.8h0M917.4 168.8h0M840.6 196.2h0M839.1 213.0h0M950.4 154.2h0M859.0 172.4h0M907.0 191.8h0M814.3 186.2h0M836.2 207.2h0M904.0 193.5h0M880.4 165.1h0M843.5 214.0h0M832.1 208.3h0M939.9 156.7h0M922.4 195.6h0M901.0 144.5h0M813.5 242.4h0M905.6 163.5h0M821.2 195.2h0M868.2 176.8h0M1033.0 143.4h0M848.5 174.9h0M848.0 182.3h0M876.5 181.1h0M824.1 202.4h0M849.3 165.0h0M819.1 210.1h0M876.1 195.7h0M866.6 207.9h0M871.3 214.1h0M817.7 173.9h0M966.5 150.7h0M864.7 200.5h0M863.7 193.8h0M894.5 169.6h0M898.7 159.0h0M888.4 193.2h0M786.0 228.6h0M795.8 248.8h0M859.3 161.2h0M851.7 181.6h0M801.8 215.3h0M850.1 186.5h0M910.9 151.5h0M1010.6 109.1h0M864.7 161.4h0M840.2 202.2h0M841.4 197.5h0M915.5 150.3h0M824.8 177.6h0M831.3 170.2h0M901.7 178.1h0M784.3 215.6h0M825.0 201.4h0M888.2 168.3h0M874.2 184.9h0M857.5 213.1h0M927.2 165.3h0M786.4 218.5h0M899.1 179.6h0M991.0 150.5h0M913.6 155.3h0M846.7 210.3h0M800.4 240.1h0M858.3 194.5h0M987.7 161.0h0M948.5 144.8h0M950.1 151.7h0M850.5 202.5h0M978.1 122.0h0M1041.6 114.1h0M881.4 181.0h0M838.3 178.3h0M863.9 192.9h0M876.8 166.8h0M882.3 176.4h0M845.4 202.0h0M912.1 183.7h0M853.4 200.1h0M1001.6 139.2h0M881.7 177.3h0M868.9 167.8h0M798.0 238.5h0M1008.8 129.8h0M900.4 185.0h0M856.8 202.5h0M900.1 167.8h0M929.1 161.8h0M898.0 179.0h0M803.9 203.1h0M796.9 218.3h0M905.1 160.6h0M875.4 186.7h0M883.0 176.8h0M952.3 180.0h0M912.8 145.5h0M811.4 218.6h0M942.4 164.8h0M837.3 205.3h0M859.1 172.0h0M791.2 218.1h0M881.2 164.7h0M825.8 231.1h0M967.1 144.4h0M788.0 193.4h0M838.0 205.3h0M800.5 200.1h0M1043.0 132.7h0M859.9 187.3h0M788.7 238.2h0M940.6 136.8h0M847.1 178.5h0M877.7 175.4h0M905.5 174.2h0M838.4 178.2h0M839.8 220.7h0M891.8 189.4h0M858.2 187.0h0M805.5 194.3h0M910.3 143.5h0M785.4 234.1h0M894.6 155.3h0M840.2 204.8h0M804.6 220.3h0M811.6 191.3h0M885.0 184.2h0M801.0 190.4h0M872.5 184.0h0M810.3 236.8h0M927.1 149.2h0M829.8 218.7h0M779.5 220.0h0M857.9 191.3h0M898.5 168.0h0M909.2 171.0h0M852.4 186.1h0M806.3 230.4h0M972.0 145.3h0M837.8 189.7h0M812.7 221.4h0M962.4 140.3h0M849.3 195.7h0M869.1 190.5h0M900.6 168.3h0M916.8 176.2h0M906.7 165.6h0M907.5 145.3h0M801.8 229.9h0M982.2 136.3h0M928.7 171.0h0M858.0 193.9h0M987.7 139.1h0M983.3 141.5h0M824.8 191.1h0M840.3 202.7h0M897.2 187.7h0M869.8 182.7h0M824.9 190.9h0M948.0 159.2h0M876.8 170.2h0M892.7 176.5h0M849.6 196.8h0M959.3 118.8h0M984.4 149.7h0M986.5 121.2h0M854.2 213.2h0M1003.9 150.3h0M807.3 227.9h0M792.0 189.7h0M844.4 239.8h0M808.9 203.3h0M804.2 213.1h0M865.2 176.2h0M916.2 182.7h0M782.1 214.6h0M965.7 163.9h0M922.7 141.6h0M968.7 145.6h0M858.7 162.7h0M815.2 176.2h0M803.0 185.7h0M890.8 161.5h0M867.1 228.4h0M876.9 183.9h0M921.9 165.8h0M932.1 165.9h0M1011.5 149.4h0M913.8 161.8h0M1010.1 157.2h0M882.1 209.0h0M956.5 140.1h0M870.3 180.5h0M875.6 163.0h0M882.2 164.6h0M890.4 167.5h0M841.3 193.8h0M798.2 218.9h0M877.8 198.6h0M852.6 180.3h0M783.6 195.1h0M879.5 167.4h0M845.1 184.7h0M891.3 180.0h0M860.0 179.6h0M809.6 190.7h0M876.3 202.2h0M874.9 161.7h0M867.5 183.8h0M868.7 176.0h0M886.6 175.7h0M809.5 224.8h0M781.4 217.6h0M859.7 187.4h0M891.4 201.7h0M978.4 133.3h0M895.6 175.5h0M853.3 201.2h0M839.4 181.6h0M925.3 165.7h0M811.2 200.9h0M924.4 184.5h0M862.0 202.9h0M983.0 136.3h0M991.6 157.5h0M958.5 152.9h0M999.0 156.0h0M940.3 180.4h0M961.9 162.5h0M873.4 188.0h0M886.2 153.1h0M863.6 187.0h0M919.3 158.6h0M912.3 185.9h0M824.4 210.8h0M933.6 185.7h0M818.4 165.8h0M966.2 154.4h0M856.3 182.1h0M855.8 185.7h0M1005.0 134.2h0M881.1 181.8h0M842.2 213.1h0M900.2 146.5h0M1033.8 147.3h0M937.5 185.3h0M906.3 157.7h0M878.3 195.0h0M1046.5 133.2h0M780.9 217.3h0M885.9 210.2h0M801.4 209.1h0M947.0 156.2h0M858.5 231.4h0M851.5 174.5h0M873.2 177.5h0M858.1 193.2h0M969.9 139.2h0M846.5 188.8h0M874.7 215.5h0M858.6 202.4h0M786.2 209.5h0M954.6 133.8h0M927.9 172.1h0M820.5 192.3h0M829.0 219.6h0M786.5 172.7h0M820.3 184.5h0M810.5 221.3h0M861.9 177.7h0M840.2 239.2h0M825.8 198.6h0M807.6 200.0h0M925.9 140.4h0M809.6 180.3h0M818.0 189.4h0M848.5 202.0h0M865.5 177.3h0M901.3 167.2h0M880.6 174.1h0M828.9 186.8h0M835.0 204.1h0M890.3 186.2h0M886.6 181.5h0M981.1 160.3h0M909.9 168.3h0M938.2 151.8h0M879.7 187.6h0M847.0 176.0h0M819.5 242.1h0M908.9 143.0h0M886.2 168.7h0M862.9 185.7h0M928.0 135.5h0M893.2 183.0h0M1072.7 154.7h0M952.6 150.8h0M775.8 254.7h0M891.3 171.7h0M800.2 197.9h0M791.3 186.6h0M915.8 161.6h0M882.4 180.8h0M877.0 192.5h0M879.8 204.1h0M910.5 197.3h0M878.9 186.1h0M860.5 169.7h0M913.4 184.5h0M937.0 174.2h0M844.9 203.2h0M883.1 193.6h0M851.0 181.3h0M886.4 172.6h0M806.4 165.9h0M850.1 189.3h0M983.9 154.1h0M804.9 196.7h0M868.6 171.1h0M825.1 225.0h0M953.2 144.1h0M869.6 168.5h0M923.5 155.3h0M1037.3 132.8h0M857.3 185.6h0M860.2 175.9h0M814.3 184.5h0M1027.4 126.5h0M949.4 152.2h0M805.3 220.7h0M863.3 181.0h0M885.3 182.7h0M837.3 182.9h0M940.2 171.6h0M1013.6 132.8h0M933.7 142.5h0M874.9 162.0h0M836.6 204.6h0M877.7 180.5h0M1044.8 95.5h0M856.0 207.4h0M823.8 198.0h0M872.2 172.7h0M889.6 184.1h0M809.2 191.1h0M923.7 176.8h0M945.3 170.8h0M978.9 151.6h0M855.9 208.7h0M881.2 175.3h0M840.8 177.9h0M852.5 182.2h0M865.3 171.1h0M820.5 193.4h0M1011.1 140.1h0M977.3 148.3h0M889.4 164.7h0M789.8 204.3h0M807.1 190.1h0M854.5 202.3h0M823.1 194.0h0M899.4 184.3h0M905.9 200.1h0M857.5 195.5h0M920.2 159.2h0M818.0 209.4h0M787.1 244.2h0M775.0 219.9h0M948.9 157.0h0M795.3 211.8h0M928.6 161.3h0M895.7 188.3h0M826.0 194.5h0M884.2 178.7h0M860.7 198.7h0M904.2 163.4h0M1001.3 136.9h0M860.7 193.2h0M941.4 149.7h0M855.5 214.7h0M935.2 168.3h0M794.1 200.3h0M942.3 194.0h0M810.2 189.9h0M841.1 209.7h0M902.9 180.7h0M831.8 153.4h0M856.4 203.8h0M979.8 141.0h0M819.7 212.9h0M929.4 150.5h0M772.8 237.3h0M874.6 259.9h0M833.0 232.4h0M823.9 212.7h0M831.4 202.6h0M880.3 170.2h0M885.0 191.6h0M904.4 173.7h0M1091.4 111.5h0M910.4 164.9h0M816.9 184.7h0M908.8 189.0h0M960.6 136.5h0M823.0 208.2h0M909.6 136.8h0M954.9 180.6h0M831.9 199.8h0M868.9 204.6h0M800.4 229.2h0M802.1 234.1h0M840.5 167.8h0M924.5 171.4h0M822.6 182.4h0M938.5 149.4h0M909.6 187.3h0M881.5 210.8h0M844.1 180.0h0M841.9 207.9h0M874.0 174.3h0M838.4 209.4h0M1065.4 123.9h0M810.4 201.9h0M880.7 212.2h0M840.5 173.0h0M885.1 184.2h0M780.8 205.5h0M766.5 228.0h0M759.6 235.9h0M757.4 259.9h0M765.8 243.1h0M752.8 211.1h0M797.3 221.1h0M752.9 205.3h0M775.8 263.1h0M778.0 230.4h0M765.3 220.8h0M767.9 235.4h0M753.3 226.7h0M763.4 245.7h0M773.7 185.5h0M762.3 230.7h0M755.3 245.7h0M774.1 225.6h0M755.8 259.9h0M762.4 230.5h0M761.6 245.7h0M762.8 230.0h0M777.5 206.1h0M755.1 238.2h0M765.0 217.8h0M759.8 231.4h0M757.5 271.4h0M776.9 211.3h0M787.5 192.0h0M770.4 216.3h0M781.9 214.4h0M754.7 235.9h0M755.9 231.9h0M776.2 219.6h0M766.2 220.4h0M754.6 266.8h0M764.6 216.5h0M793.4 218.8h0M767.1 242.4h0M769.9 210.7h0M769.1 208.5h0M757.9 233.7h0M772.0 210.0h0M770.4 237.9h0M756.0 242.1h0M766.0 245.7h0M774.3 233.3h0M769.4 205.5h0M759.6 225.2h0M754.1 266.8h0M773.5 240.7h0M775.2 228.7h0M758.4 247.2h0M755.1 241.4h0M779.0 202.0h0M775.8 219.9h0M755.1 271.4h0M767.8 259.9h0M830.3 203.0h0M784.4 176.1h0M764.2 223.7h0M776.2 217.6h0M766.4 237.0h0M761.4 266.8h0M820.0 201.6h0M781.4 226.4h0M763.2 254.7h0M759.1 266.8h0M759.3 214.6h0M781.5 220.8h0M759.0 257.2h0M757.4 230.2h0M773.4 220.7h0M827.2 180.9h0M767.4 221.9h0M785.0 216.8h0M791.2 199.2h0M753.8 245.7h0M763.7 238.2h0M752.5 232.6h0M764.4 266.8h0M769.9 232.3h0M781.5 207.2h0M755.5 250.6h0M757.9 237.4h0M754.9 231.8h0M770.0 223.1h0M779.8 209.1h0M773.1 271.4h0M768.1 241.5h0M756.6 266.8h0M757.4 212.3h0M755.8 232.2h0M767.5 213.9h0M778.6 221.9h0M759.4 221.2h0M768.9 248.8h0M778.7 212.4h0M756.7 242.8h0M768.9 200.7h0M765.0 236.3h0M777.7 257.2h0M768.8 252.6h0M807.4 243.5h0M766.8 222.7h0M768.6 250.6h0M775.5 252.6h0M758.5 230.3h0M767.5 230.2h0M769.2 222.7h0M760.8 231.0h0M758.3 224.9h0M769.8 226.5h0M783.4 214.7h0M780.3 193.4h0M773.1 254.7h0M758.7 228.6h0M763.0 236.1h0M779.5 250.6h0M776.0 243.5h0M755.6 263.1h0M769.8 220.7h0M775.4 236.1h0M762.2 250.6h0M762.0 216.1h0M772.8 201.5h0M760.5 247.2h0M769.0 257.2h0M763.0 257.2h0M757.9 226.4h0M759.5 242.2h0M760.5 226.6h0M758.9 244.2h0M760.6 252.6h0M764.5 223.3h0M769.3 235.0h0M769.8 202.0h0M770.8 252.6h0M759.7 271.4h0M756.7 266.8h0M769.5 216.4h0M786.9 238.2h0M775.7 235.2h0M804.5 196.0h0M753.6 271.4h0M757.6 232.1h0M762.7 213.5h0M757.3 225.3h0M756.6 236.4h0M763.5 250.6h0M765.7 244.2h0M770.4 226.2h0M775.4 206.3h0M755.8 257.2h0M781.4 232.5h0M768.8 234.6h0M770.1 237.9h0M778.7 187.8h0M777.9 243.8h0M791.7 193.6h0M777.6 203.2h0M762.5 263.1h0M766.3 218.3h0M765.6 218.5h0M798.0 198.6h0M774.7 220.4h0M766.2 245.7h0M754.7 263.1h0M759.5 254.7h0M760.8 257.2h0M764.1 245.7h0M760.5 250.6h0M783.8 201.5h0M757.9 238.2h0M768.2 203.4h0M762.2 241.0h0M766.1 259.9h0M765.9 220.2h0M768.7 208.4h0M771.0 230.1h0M755.3 254.7h0M756.5 218.3h0M767.9 218.9h0M784.0 233.3h0M768.6 203.1h0M767.4 222.2h0M765.2 235.3h0M772.8 243.4h0M763.7 221.9h0M767.1 234.8h0M756.4 248.8h0M767.1 226.8h0M764.5 234.4h0M760.4 252.6h0M756.7 244.2h0M757.8 263.1h0M757.0 238.2h0M775.6 230.3h0M761.0 233.7h0M777.0 192.0h0M765.4 229.8h0M761.2 240.1h0M776.9 214.2h0M785.3 238.2h0M757.5 240.2h0M778.8 233.2h0M767.0 222.5h0M759.9 219.4h0M761.3 236.5h0M764.4 213.3h0M759.9 230.6h0M770.0 209.5h0M794.4 195.9h0M754.5 240.0h0M782.2 201.4h0M769.4 233.9h0M777.4 226.4h0M768.5 263.1h0M767.2 236.8h0M803.6 210.8h0M764.0 257.2h0M771.0 240.1h0M778.1 191.3h0M775.3 243.2h0M779.2 215.4h0M773.4 238.5h0M755.9 247.2h0M763.4 214.5h0M756.4 248.8h0M752.6 239.8h0M770.3 254.7h0M762.2 242.8h0M762.2 232.2h0M757.4 230.5h0M763.1 242.9h0M765.0 254.7h0M755.1 225.8h0M772.3 219.6h0M766.7 232.5h0M760.0 248.8h0M760.4 232.8h0M760.0 263.1h0M772.7 248.8h0M777.2 237.6h0M796.1 200.4h0M784.1 207.0h0M756.4 216.1h0M764.3 216.5h0M763.9 223.2h0M768.8 230.4h0M782.9 208.8h0M775.0 218.3h0M781.5 213.5h0M758.3 250.6h0M773.6 215.1h0M794.9 209.0h0M760.0 236.4h0M781.2 208.6h0M766.9 221.5h0M756.1 254.7h0M759.7 224.1h0M776.9 210.9h0M756.1 230.9h0M761.3 250.6h0M752.5 240.2h0M774.6 242.7h0M759.0 263.1h0M758.1 222.3h0M764.1 236.6h0M773.9 234.7h0M752.2 238.7h0M755.1 247.2h0M764.9 227.6h0M768.3 233.3h0M757.2 228.8h0M777.7 198.5h0M782.0 211.6h0M761.6 219.7h0M765.6 248.8h0M757.4 252.6h0M776.9 202.0h0M762.9 227.8h0M766.8 236.6h0M772.5 223.1h0M779.8 212.3h0M786.7 194.2h0M753.6 252.6h0M787.1 207.8h0M761.6 250.6h0M760.7 221.1h0M764.1 211.1h0M758.7 254.7h0M759.3 252.6h0M756.6 245.7h0M762.0 229.2h0M761.4 238.1h0M769.7 241.7h0M754.4 254.7h0M760.1 233.7h0M761.6 235.9h0M767.3 223.5h0M763.9 266.8h0M773.9 211.4h0M797.8 195.9h0M767.7 234.2h0M767.9 235.8h0M756.4 247.2h0M764.2 221.7h0M770.8 233.3h0M754.2 254.7h0M763.4 228.9h0M762.2 217.1h0M771.7 217.2h0M767.7 230.8h0M793.0 232.3h0M820.5 182.4h0M753.5 241.5h0M760.3 266.8h0M773.3 220.5h0M757.0 216.6h0M775.2 238.5h0M789.0 218.3h0M762.2 266.8h0M761.4 230.4h0M795.5 213.4h0M781.9 228.1h0M753.6 233.8h0M785.9 222.6h0M763.2 214.5h0M765.4 236.5h0M772.8 231.1h0M780.6 226.1h0M779.5 244.2h0M761.9 233.9h0M771.8 224.8h0M765.7 254.7h0M1001.9 108.1h0M1005.4 151.0h0M975.2 175.2h0M988.0 136.9h0M1018.2 137.9h0M1053.6 130.1h0M1015.9 113.7h0M1076.5 152.6h0M957.4 152.7h0M981.0 147.6h0M968.4 125.2h0M1066.3 134.1h0M1010.6 153.4h0M988.2 136.8h0M1067.0 128.4h0M1020.2 204.5h0M926.0 141.5h0M951.5 174.6h0M1045.9 124.6h0M1000.0 123.6h0M946.9 137.9h0M972.2 129.6h0M1023.9 156.0h0M993.2 133.9h0M1033.8 144.9h0M974.8 181.7h0M965.6 164.3h0M1020.6 121.6h0M1076.8 125.9h0M1037.3 130.5h0M1034.2 139.1h0M986.6 151.2h0M943.9 142.2h0M1053.0 124.0h0M1026.7 155.4h0M998.5 133.6h0M988.1 153.7h0M1044.7 125.1h0M968.1 163.3h0M976.1 158.6h0M999.0 145.1h0M984.4 135.7h0M1007.5 169.6h0M1001.3 110.1h0M1008.5 106.2h0M973.9 158.6h0M957.8 131.2h0M1002.4 167.4h0M975.0 149.3h0M1034.6 145.8h0M993.1 132.8h0M976.9 145.4h0M996.6 139.9h0M999.0 156.6h0M975.5 149.8h0M976.2 139.2h0M984.4 173.5h0M953.5 156.5h0M1006.4 136.6h0M982.6 154.8h0M1006.1 159.5h0M963.2 159.6h0M996.2 127.9h0M979.5 121.8h0M1038.1 132.3h0M1025.9 150.3h0M1000.7 166.9h0M1066.8 126.8h0M967.3 126.6h0M1035.6 157.8h0M1011.4 147.1h0M1069.4 129.9h0M902.4 149.0h0M1066.9 107.3h0M957.0 173.5h0M1048.7 120.9h0M960.5 141.9h0M1026.7 145.4h0M1000.7 116.1h0M1065.7 134.6h0M956.7 150.7h0M955.9 162.5h0M1026.3 119.1h0M1025.5 107.8h0M952.4 149.6h0M1000.1 136.3h0M1009.2 147.5h0M1010.8 131.8h0M982.0 141.2h0M1028.4 159.1h0M1050.1 118.6h0M963.5 145.2h0M1052.9 157.7h0M977.5 149.4h0M1009.2 155.1h0M993.1 145.4h0M1013.0 144.5h0M967.4 156.1h0M999.5 141.9h0M1023.0 144.5h0M996.0 152.6h0M1056.3 147.7h0M974.0 138.4h0M996.3 151.3h0M996.4 137.8h0M1023.3 137.2h0M976.2 151.7h0M973.2 177.9h0M1017.8 153.7h0M1010.9 139.0h0M989.0 137.7h0M1027.4 120.2h0M1012.5 132.2h0M1016.5 114.4h0M1021.9 126.6h0M1068.2 186.5h0M1067.2 111.4h0M1028.3 130.3h0M937.3 163.2h0M986.1 148.7h0M1049.2 134.0h0M1040.5 126.7h0M982.9 154.6h0M1010.5 140.4h0M1035.4 132.5h0M1001.7 139.4h0M1011.7 128.8h0M996.2 126.7h0M1008.9 154.1h0M994.9 171.8h0M1043.1 125.9h0M997.9 140.5h0M1000.0 155.1h0M1030.5 143.4h0M1003.7 118.1h0M1007.2 128.9h0M947.6 140.6h0M1009.9 131.4h0M1008.5 133.4h0M1054.8 132.8h0M978.6 139.0h0M1000.6 136.1h0M1036.5 158.2h0M994.8 123.0h0M968.3 140.8h0M997.6 137.9h0M1043.4 119.0h0M1019.9 127.8h0M1055.1 109.8h0M1084.0 121.3h0M985.3 124.2h0M1021.2 130.0h0M994.5 132.1h0M977.6 155.4h0M1024.2 143.8h0M932.1 162.7h0M1043.8 125.9h0M993.1 161.4h0M1027.1 152.4h0M1017.9 117.4h0M976.7 137.0h0M990.7 151.4h0M1077.0 130.6h0M940.6 128.5h0M1014.3 136.7h0M1031.1 132.8h0M946.7 153.8h0M953.3 140.5h0M984.7 156.1h0M1027.5 164.6h0M1007.0 138.4h0M1005.8 132.7h0M1000.9 127.5h0M1049.7 135.8h0M1033.5 123.4h0M992.6 145.9h0M988.4 137.2h0M1032.8 142.8h0M980.1 130.6h0M1031.5 140.4h0M966.5 165.3h0M979.3 159.3h0M1029.7 152.4h0M1004.8 145.0h0M1003.8 156.5h0M970.4 140.2h0M1023.1 143.0h0M936.9 139.3h0M1003.5 134.5h0M951.7 157.2h0M973.1 151.6h0M982.9 124.4h0M956.9 144.1h0M993.3 127.8h0M993.3 128.7h0M1020.4 154.6h0M1024.8 199.9h0M1015.9 135.6h0M1059.1 119.8h0M945.5 169.0h0M1004.7 132.5h0M1002.9 119.4h0M939.0 140.7h0M1000.1 149.5h0M968.3 160.3h0M1000.6 134.2h0M970.4 133.5h0M1161.3 66.0h0M1145.2 81.3h0M1129.5 97.4h0M1122.9 98.5h0M1120.1 100.9h0M1090.8 95.0h0M1075.5 100.1h0M1057.9 97.4h0M979.9 98.2h0M984.6 105.6h0M1109.2 156.1h0M1116.6 131.5h0M1062.2 165.1h0M1046.5 170.2h0M1034.7 257.2h0M984.6 257.2h0M958.4 285.8h0M960.3 241.1h0M945.8 259.9h0M874.1 285.8h0M921.9 271.7h0M902.7 271.7h0M885.5 277.6h0M869.8 277.6h0M860.4 277.6h0M827.1 277.6h0M759.4 300.0h0M762.1 300.0h0M769.2 300.0h0M777.0 300.0h0M803.2 300.0h0M806.4 300.0h0M755.5 285.7h0M758.2 285.7h0M765.3 285.7h0M768.0 285.7h0M773.1 285.7h0M780.9 285.7h0M787.6 285.7h0M803.6 285.7h0M753.5 277.4h0M756.2 277.4h0M759.4 277.4h0M762.1 277.4h0M769.2 277.4h0M771.9 277.4h0M777.0 277.4h0M786.0 277.4h0M764.1 147.5h0M762.1 152.2h0M762.1 156.1h0M764.5 178.1h0M764.5 180.8h0M792.7 162.4h0M826.7 145.2h0M845.5 143.6h0M841.6 146.7h0M875.7 131.8h0M875.7 135.8h0M1031.6 180.8h0M1035.5 186.7h0M1036.3 189.8h0M1024.6 199.2h0M1001.4 189.0h0M1000.3 193.7h0M989.3 199.2h0M983.8 212.5h0M976.8 218.0h0" stroke="#000" stroke-width="3.8" stroke-linecap="round" fill="none"/>
<text font-family="Liberation Sans, Arial, Helvetica, sans-serif" font-size="21" y="48.30" x="668.10">1</text><text font-family="Liberation Sans, Arial, Helvetica, sans-serif" font-size="18.5" y="50.00" x="679.10">×</text><text font-family="Liberation Sans, Arial, Helvetica, sans-serif" font-size="21" y="48.30" x="688.70 699.30">10</text><text font-family="Liberation Sans, Arial, Helvetica, sans-serif" font-size="13" y="40.90" x="712.29 723.88">05</text>
<text font-family="Liberation Sans, Arial, Helvetica, sans-serif" font-size="21" y="95.60" x="668.10">1</text><text font-family="Liberation Sans, Arial, Helvetica, sans-serif" font-size="18.5" y="97.30" x="679.10">×</text><text font-family="Liberation Sans, Arial, Helvetica, sans-serif" font-size="21" y="95.60" x="688.70 699.30">10</text><text font-family="Liberation Sans, Arial, Helvetica, sans-serif" font-size="13" y="88.20" x="712.29 723.88">04</text>
<text font-family="Liberation Sans, Arial, Helvetica, sans-serif" font-size="21" y="142.90" x="668.10">1</text><text font-family="Liberation Sans, Arial, Helvetica, sans-serif" font-size="18.5" y="144.60" x="679.10">×</text><text font-family="Liberation Sans, Arial, Helvetica, sans-serif" font-size="21" y="142.90" x="688.70 699.30">10</text><text font-family="Liberation Sans, Arial, Helvetica, sans-serif" font-size="13" y="135.50" x="712.29 723.88">03</text>
<text font-family="Liberation Sans, Arial, Helvetica, sans-serif" font-size="21" y="190.20" x="668.10">1</text><text font-family="Liberation Sans, Arial, Helvetica, sans-serif" font-size="18.5" y="191.90" x="679.10">×</text><text font-family="Liberation Sans, Arial, Helvetica, sans-serif" font-size="21" y="190.20" x="688.70 699.30">10</text><text font-family="Liberation Sans, Arial, Helvetica, sans-serif" font-size="13" y="182.80" x="712.29 723.88">02</text>
<text font-family="Liberation Sans, Arial, Helvetica, sans-serif" font-size="21" y="237.50" x="668.10">1</text><text font-family="Liberation Sans, Arial, Helvetica, sans-serif" font-size="18.5" y="239.20" x="679.10">×</text><text font-family="Liberation Sans, Arial, Helvetica, sans-serif" font-size="21" y="237.50" x="688.70 699.30">10</text><text font-family="Liberation Sans, Arial, Helvetica, sans-serif" font-size="13" y="230.10" x="712.29 723.88">01</text>
<text font-family="Liberation Sans, Arial, Helvetica, sans-serif" font-size="21" y="284.80" x="668.10">1</text><text font-family="Liberation Sans, Arial, Helvetica, sans-serif" font-size="18.5" y="286.50" x="679.10">×</text><text font-family="Liberation Sans, Arial, Helvetica, sans-serif" font-size="21" y="284.80" x="688.70 699.30">10</text><text font-family="Liberation Sans, Arial, Helvetica, sans-serif" font-size="13" y="277.40" x="712.29 723.88">00</text>
<text font-family="Liberation Sans, Arial, Helvetica, sans-serif" font-size="21" y="332.10" x="664.30">1</text><text font-family="Liberation Sans, Arial, Helvetica, sans-serif" font-size="18.5" y="333.80" x="675.30">×</text><text font-family="Liberation Sans, Arial, Helvetica, sans-serif" font-size="21" y="332.10" x="684.90 695.50">10</text><text font-family="Liberation Sans, Arial, Helvetica, sans-serif" font-size="13" y="324.70" x="709.20 715.90 726.60">-01</text>
<text font-family="Liberation Sans, Arial, Helvetica, sans-serif" font-size="21" y="354.80" x="750.70">1</text><text font-family="Liberation Sans, Arial, Helvetica, sans-serif" font-size="18.5" y="356.50" x="761.70">×</text><text font-family="Liberation Sans, Arial, Helvetica, sans-serif" font-size="21" y="354.80" x="771.30 781.90">10</text><text font-family="Liberation Sans, Arial, Helvetica, sans-serif" font-size="13" y="347.40" x="794.89 806.48">02</text>
<text font-family="Liberation Sans, Arial, Helvetica, sans-serif" font-size="21" y="354.80" x="879.70">1</text><text font-family="Liberation Sans, Arial, Helvetica, sans-serif" font-size="18.5" y="356.50" x="890.70">×</text><text font-family="Liberation Sans, Arial, Helvetica, sans-serif" font-size="21" y="354.80" x="900.30 910.90">10</text><text font-family="Liberation Sans, Arial, Helvetica, sans-serif" font-size="13" y="347.40" x="923.89 935.48">03</text>
<text font-family="Liberation Sans, Arial, Helvetica, sans-serif" font-size="21" y="354.80" x="1008.70">1</text><text font-family="Liberation Sans, Arial, Helvetica, sans-serif" font-size="18.5" y="356.50" x="1019.70">×</text><text font-family="Liberation Sans, Arial, Helvetica, sans-serif" font-size="21" y="354.80" x="1029.30 1039.90">10</text><text font-family="Liberation Sans, Arial, Helvetica, sans-serif" font-size="13" y="347.40" x="1052.89 1064.48">04</text>
<text font-family="Liberation Sans, Arial, Helvetica, sans-serif" font-size="21" y="354.80" x="1137.70">1</text><text font-family="Liberation Sans, Arial, Helvetica, sans-serif" font-size="18.5" y="356.50" x="1148.70">×</text><text font-family="Liberation Sans, Arial, Helvetica, sans-serif" font-size="21" y="354.80" x="1158.30 1168.90">10</text><text font-family="Liberation Sans, Arial, Helvetica, sans-serif" font-size="13" y="347.40" x="1181.89 1193.48">05</text>
<text font-family="Liberation Sans, Arial, Helvetica, sans-serif" font-size="43.8" font-weight="bold" x="611.6" y="36.5">B</text>
<text font-family="Liberation Sans, Arial, Helvetica, sans-serif" font-size="23.5" x="761.70" y="74.80">r</text><text font-family="Liberation Sans, Arial, Helvetica, sans-serif" font-size="16.8" x="770.70" y="80.10">s</text><text font-family="Liberation Sans, Arial, Helvetica, sans-serif" font-size="23.5" x="780.70" y="74.80">=0.80</text>
<text font-family="Liberation Sans, Arial, Helvetica, sans-serif" font-size="19.1" transform="translate(650.6,177) scale(1.12,1) rotate(-90)" text-anchor="middle">RNA-seq (counts)</text>
<text font-family="Liberation Sans, Arial, Helvetica, sans-serif" font-size="20.7" x="860.8" y="381.6" textLength="193" lengthAdjust="spacing">Microarray (intensity)</text>
<rect x="147.80" y="488.70" width="80.58" height="64.87" fill="#215524"/>
<rect x="227.98" y="488.70" width="80.58" height="64.87" fill="#45a933"/>
<rect x="308.16" y="488.70" width="80.58" height="64.87" fill="#6db42c"/>
<rect x="388.34" y="488.70" width="80.58" height="64.87" fill="#4eac30"/>
<rect x="147.80" y="553.17" width="80.58" height="64.87" fill="#21a538"/>
<rect x="227.98" y="553.17" width="80.58" height="64.87" fill="#009140"/>
<rect x="308.16" y="553.17" width="80.58" height="64.87" fill="#5bb02e"/>
<rect x="388.34" y="553.17" width="80.58" height="64.87" fill="#4eac30"/>
<rect x="147.80" y="617.64" width="80.58" height="64.87" fill="#047234"/>
<rect x="227.98" y="617.64" width="80.58" height="64.87" fill="#036b30"/>
<rect x="308.16" y="617.64" width="80.58" height="64.87" fill="#0b632e"/>
<rect x="388.34" y="617.64" width="80.58" height="64.87" fill="#215524"/>
<path d="M172.3 486.3V435.6H322.8V461M258.3 486.3V461H387.3V471.5M344.2 486.3V471.5H430.4V486.3" stroke="#111" stroke-width="1.1" fill="none"/>
<path d="M470.8 528.3H520V584.5H470.8M520 556.6H560.6V640.8H470.8" stroke="#111" stroke-width="1.1" fill="none"/>
<text font-family="Liberation Sans, Arial, Helvetica, sans-serif" font-size="43.8" font-weight="bold" x="-0.2" y="424.7">C</text>
<text font-family="Liberation Sans, Arial, Helvetica, sans-serif" font-size="16.6" x="80.6" y="525.9" textLength="44.3" lengthAdjust="spacingAndGlyphs">WT-3</text>
<text font-family="Liberation Sans, Arial, Helvetica, sans-serif" font-size="16.6" x="80.6" y="594.0" textLength="44.3" lengthAdjust="spacingAndGlyphs">WT-2</text>
<text font-family="Liberation Sans, Arial, Helvetica, sans-serif" font-size="16.6" x="80.6" y="665.4" textLength="44.3" lengthAdjust="spacingAndGlyphs">WT-1</text>
<text font-family="Liberation Sans, Arial, Helvetica, sans-serif" font-size="17.2" transform="translate(193.3,741.8) scale(1.08,1) rotate(-90)">WT-4</text>
<text font-family="Liberation Sans, Arial, Helvetica, sans-serif" font-size="17.2" transform="translate(270.9,741.8) scale(1.08,1) rotate(-90)">WT-1</text>
<text font-family="Liberation Sans, Arial, Helvetica, sans-serif" font-size="17.2" transform="translate(358.8,741.8) scale(1.08,1) rotate(-90)">WT-3</text>
<text font-family="Liberation Sans, Arial, Helvetica, sans-serif" font-size="17.2" transform="translate(437.0,741.8) scale(1.08,1) rotate(-90)">WT-2</text>
<text font-family="Liberation Sans, Arial, Helvetica, sans-serif" font-size="24.6" transform="translate(46,583.7) rotate(-90)" text-anchor="middle">RNA–seq</text>
<text font-family="Liberation Sans, Arial, Helvetica, sans-serif" font-size="24" x="309.9" y="784.2" text-anchor="middle">Microarray</text>
<defs><linearGradient id="lg" x1="0" x2="1" y1="0" y2="0"><stop offset="0" stop-color="#76b82a"/><stop offset="0.25" stop-color="#11a03a"/><stop offset="0.33" stop-color="#008a3c"/><stop offset="0.5" stop-color="#0c0c08"/><stop offset="0.75" stop-color="#7a140f"/><stop offset="1" stop-color="#e30613"/></linearGradient></defs>
<rect x="525.2" y="711.5" width="163.4" height="23.3" fill="url(#lg)" stroke="#000" stroke-width="2.4"/>
<path d="M527.6 735V739.2M563.4 735V739.2M599.2 735V739.2M635 735V739.2M670.6 735V739.2" stroke="#000" stroke-width="2"/>
<text font-family="Liberation Sans, Arial, Helvetica, sans-serif" font-size="14" transform="translate(530.0,755.8) scale(1.085,1)" text-anchor="middle">0.76</text>
<text font-family="Liberation Sans, Arial, Helvetica, sans-serif" font-size="14" transform="translate(600.5,755.8) scale(1.085,1)" text-anchor="middle">0.78</text>
<text font-family="Liberation Sans, Arial, Helvetica, sans-serif" font-size="14" transform="translate(670.6,755.8) scale(1.085,1)" text-anchor="middle">0.8</text>
<text font-family="Liberation Sans, Arial, Helvetica, sans-serif" font-size="19" x="503.6" y="727.6">r</text><text font-family="Liberation Sans, Arial, Helvetica, sans-serif" font-size="13.5" x="510.7" y="732.4">s</text>
<rect x="731.10" y="491.10" width="80.20" height="65.10" fill="#007d34"/>
<rect x="810.90" y="491.10" width="80.20" height="65.10" fill="#14130c"/>
<rect x="890.70" y="491.10" width="80.20" height="65.10" fill="#4c1711"/>
<rect x="970.50" y="491.10" width="80.20" height="65.10" fill="#361712"/>
<rect x="731.10" y="555.80" width="80.20" height="65.10" fill="#009640"/>
<rect x="810.90" y="555.80" width="80.20" height="65.10" fill="#1f2a18"/>
<rect x="890.70" y="555.80" width="80.20" height="65.10" fill="#4c1711"/>
<rect x="970.50" y="555.80" width="80.20" height="65.10" fill="#1f130f"/>
<rect x="731.10" y="620.50" width="80.20" height="65.10" fill="#1c2116"/>
<rect x="810.90" y="620.50" width="80.20" height="65.10" fill="#3b1712"/>
<rect x="890.70" y="620.50" width="80.20" height="65.10" fill="#b01212"/>
<rect x="970.50" y="620.50" width="80.20" height="65.10" fill="#e3060e"/>
<path d="M759.6 491.5V463.3H843.3V491.5M801.5 463.3V435.8H968.8V476.6M927.2 491.5V476.6H1010.5V491.5" stroke="#111" stroke-width="1.1" fill="none"/>
<path d="M1053.9 527.3H1071.5V591.9H1053.9M1071.5 560.1H1168.6V656.5H1053.9" stroke="#111" stroke-width="1.1" fill="none"/>
<text font-family="Liberation Sans, Arial, Helvetica, sans-serif" font-size="43.8" font-weight="bold" x="611.6" y="423.9">D</text>
<text font-family="Liberation Sans, Arial, Helvetica, sans-serif" font-size="16.6" x="661" y="531.6" textLength="52.8" lengthAdjust="spacingAndGlyphs">hrpX-1</text>
<text font-family="Liberation Sans, Arial, Helvetica, sans-serif" font-size="16.6" x="661" y="594.7" textLength="52.8" lengthAdjust="spacingAndGlyphs">hrpX-2</text>
<text font-family="Liberation Sans, Arial, Helvetica, sans-serif" font-size="16.6" x="661" y="657.0" textLength="52.8" lengthAdjust="spacingAndGlyphs">hrpX-3</text>
<text font-family="Liberation Sans, Arial, Helvetica, sans-serif" font-size="18.2" letter-spacing="0.2" transform="translate(768.7,751.6) scale(0.98,1) rotate(-90)">hrpX-4</text>
<text font-family="Liberation Sans, Arial, Helvetica, sans-serif" font-size="18.2" letter-spacing="0.2" transform="translate(853.2,751.6) scale(0.98,1) rotate(-90)">hrpX-1</text>
<text font-family="Liberation Sans, Arial, Helvetica, sans-serif" font-size="18.2" letter-spacing="0.2" transform="translate(931.7,751.6) scale(0.98,1) rotate(-90)">hrpX-3</text>
<text font-family="Liberation Sans, Arial, Helvetica, sans-serif" font-size="18.2" letter-spacing="0.2" transform="translate(1021.8,751.6) scale(0.98,1) rotate(-90)">hrpX-2</text>
<text font-family="Liberation Sans, Arial, Helvetica, sans-serif" font-size="24.5" transform="translate(632.4,587.2) rotate(-90)" text-anchor="middle">RNA–seq</text>
<text font-family="Liberation Sans, Arial, Helvetica, sans-serif" font-size="24" x="885.8" y="787.3" text-anchor="middle">Microarray</text>
</svg>
</body></html>
